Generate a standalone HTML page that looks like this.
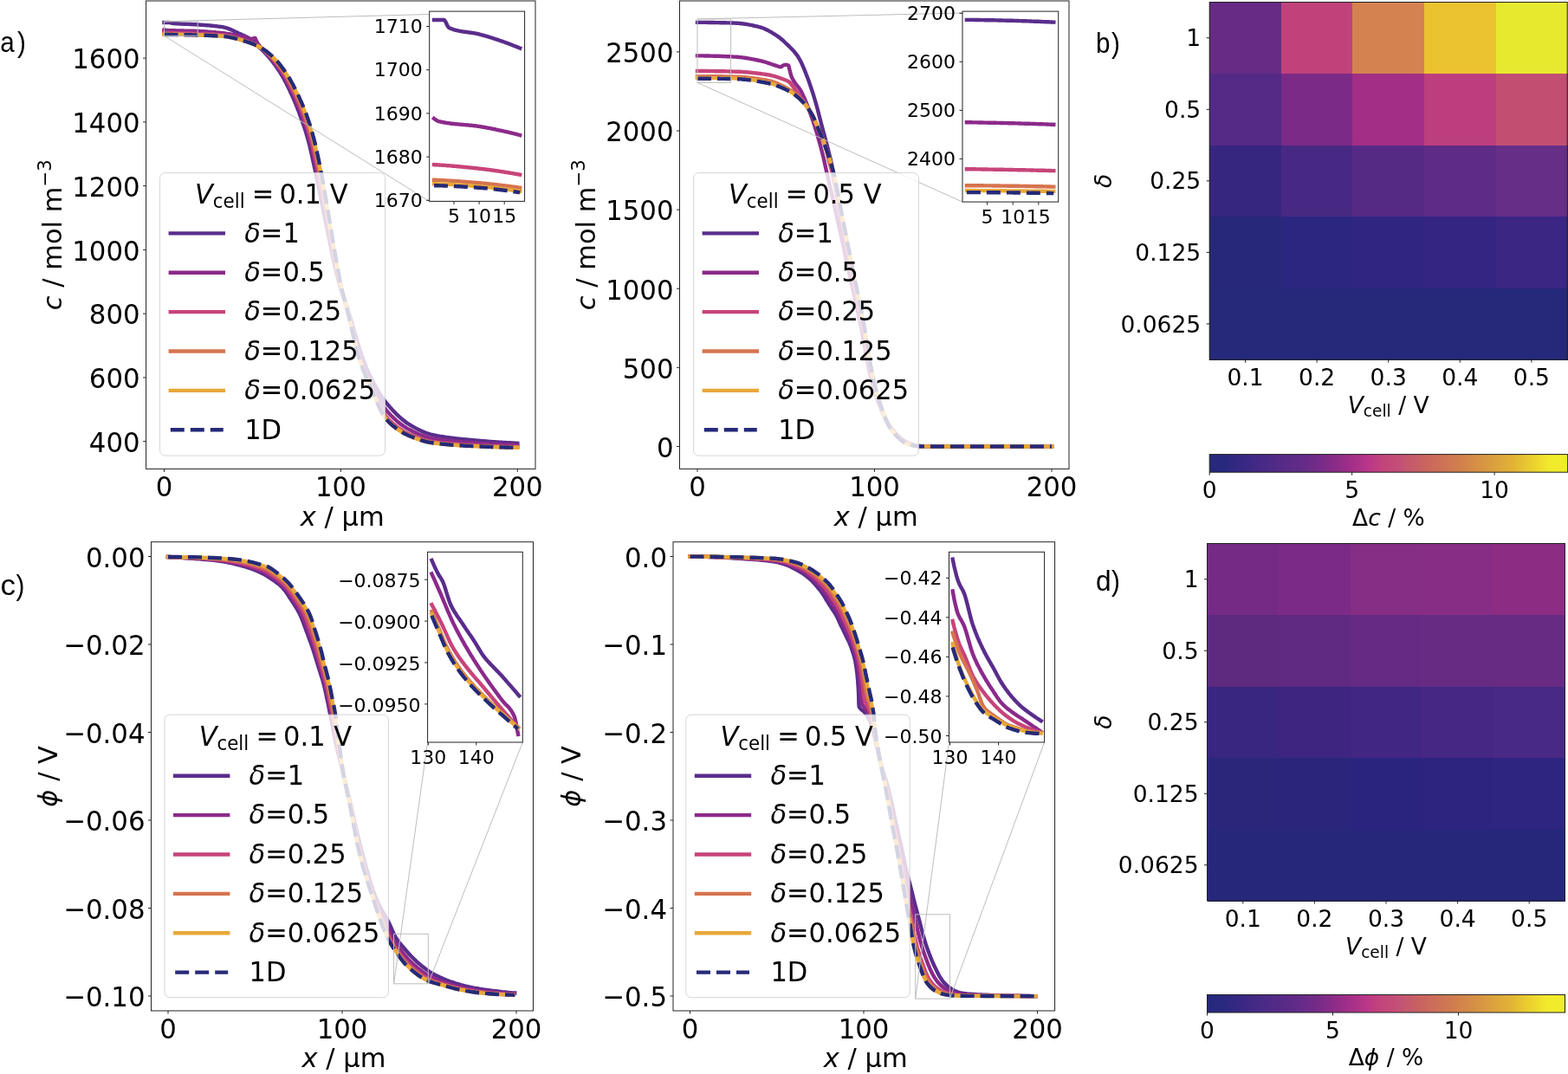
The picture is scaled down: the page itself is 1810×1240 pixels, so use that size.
<!DOCTYPE html>
<html><head><meta charset="utf-8"><title>Figure</title>
<style>html,body{margin:0;padding:0;background:#fff;overflow:hidden;} svg{display:block;} text{fill:#000;}</style>
</head><body>
<svg width="1810" height="1240" viewBox="0 0 1810 1240"><clipPath id="c1"><rect x="168.6" y="1" width="449.4" height="540.4"/></clipPath>
<path d="M189.5,26.0 L190.9,26.0 L192.2,26.0 L193.6,26.0 L195.0,26.0 L196.3,26.2 L197.7,26.6 L199.0,26.8 L200.4,27.0 L201.8,27.1 L203.1,27.2 L204.5,27.3 L205.9,27.4 L207.2,27.5 L208.6,27.5 L210.0,27.6 L211.3,27.7 L212.7,27.7 L214.0,27.8 L215.4,27.8 L216.8,27.9 L218.1,27.9 L219.5,28.0 L220.9,28.0 L222.2,28.1 L223.6,28.2 L225.0,28.3 L226.3,28.3 L227.7,28.4 L229.1,28.5 L230.4,28.6 L231.8,28.7 L233.1,28.8 L234.5,28.9 L235.9,29.0 L237.2,29.1 L238.6,29.2 L240.0,29.3 L241.3,29.4 L242.7,29.5 L244.1,29.7 L245.4,29.8 L246.8,29.9 L248.1,30.1 L249.5,30.2 L250.9,30.4 L252.2,30.6 L253.6,30.7 L255.0,30.9 L256.3,31.1 L257.7,31.3 L259.1,31.6 L260.4,32.0 L261.8,32.4 L263.1,32.9 L264.5,33.4 L265.9,33.9 L267.2,34.5 L268.6,35.1 L270.0,35.8 L271.3,36.4 L272.7,37.1 L274.1,37.7 L275.4,38.4 L276.8,39.0 L278.2,39.6 L279.5,40.2 L280.9,40.8 L282.2,41.4 L283.6,42.1 L285.0,42.8 L286.3,43.5 L287.7,44.4 L289.1,45.3 L290.4,46.3 L291.8,47.5 L293.2,48.8 L294.5,50.1 L295.9,51.4 L297.2,52.7 L298.6,53.9 L300.0,55.2 L301.3,56.5 L302.7,57.8 L304.1,59.2 L305.4,60.6 L306.8,62.0 L308.2,63.5 L309.5,65.0 L310.9,66.6 L312.2,68.2 L313.6,69.9 L315.0,71.6 L316.3,73.4 L317.7,75.3 L319.1,77.2 L320.4,79.2 L321.8,81.2 L323.2,83.4 L324.5,85.5 L325.9,87.8 L327.3,90.2 L328.6,92.7 L330.0,95.3 L331.3,98.0 L332.7,100.8 L334.1,103.6 L335.4,106.5 L336.8,109.5 L338.2,112.5 L339.5,115.7 L340.9,118.9 L342.3,122.3 L343.6,125.7 L345.0,129.3 L346.3,132.9 L347.7,136.7 L349.1,140.5 L350.4,144.4 L351.8,148.5 L353.2,152.8 L354.5,157.4 L355.9,162.3 L357.3,167.6 L358.6,173.4 L360.0,179.3 L361.3,185.5 L362.7,191.7 L364.1,197.9 L365.4,204.4 L366.8,211.0 L368.2,217.8 L369.5,224.6 L370.9,231.4 L372.3,238.1 L373.6,244.8 L375.0,251.3 L376.4,257.9 L377.7,264.5 L379.1,271.2 L380.4,278.0 L381.8,284.6 L383.2,291.2 L384.5,297.7 L385.9,303.9 L387.3,310.0 L388.6,315.8 L390.0,321.4 L391.4,326.5 L392.7,331.3 L394.1,335.8 L395.4,340.0 L396.8,343.9 L398.2,347.8 L399.5,351.7 L400.9,355.7 L402.3,359.9 L403.6,364.3 L405.0,368.8 L406.4,373.4 L407.7,378.1 L409.1,382.8 L410.4,387.5 L411.8,392.1 L413.2,396.7 L414.5,401.2 L415.9,405.4 L417.3,409.5 L418.6,413.4 L420.0,417.0 L421.4,420.6 L422.7,424.1 L424.1,427.4 L425.5,430.5 L426.8,433.5 L428.2,436.2 L429.5,438.9 L430.9,441.5 L432.3,444.0 L433.6,446.5 L435.0,448.9 L436.4,451.2 L437.7,453.4 L439.1,455.6 L440.5,457.7 L441.8,459.6 L443.2,461.5 L444.5,463.4 L445.9,465.1 L447.3,466.7 L448.6,468.3 L450.0,469.9 L451.4,471.4 L452.7,472.9 L454.1,474.4 L455.5,475.8 L456.8,477.2 L458.2,478.6 L459.5,479.9 L460.9,481.2 L462.3,482.4 L463.6,483.6 L465.0,484.7 L466.4,485.8 L467.7,486.9 L469.1,487.9 L470.5,488.8 L471.8,489.7 L473.2,490.5 L474.6,491.3 L475.9,492.1 L477.3,492.9 L478.6,493.6 L480.0,494.4 L481.4,495.1 L482.7,495.8 L484.1,496.5 L485.5,497.1 L486.8,497.8 L488.2,498.4 L489.6,498.9 L490.9,499.5 L492.3,500.0 L493.6,500.4 L495.0,500.9 L496.4,501.3 L497.7,501.6 L499.1,502.0 L500.5,502.3 L501.8,502.5 L503.2,502.8 L504.6,503.1 L505.9,503.3 L507.3,503.6 L508.6,503.8 L510.0,504.0 L511.4,504.2 L512.7,504.5 L514.1,504.7 L515.5,504.9 L516.8,505.1 L518.2,505.2 L519.6,505.4 L520.9,505.6 L522.3,505.8 L523.7,506.0 L525.0,506.1 L526.4,506.3 L527.7,506.4 L529.1,506.6 L530.5,506.7 L531.8,506.9 L533.2,507.0 L534.6,507.2 L535.9,507.3 L537.3,507.4 L538.7,507.5 L540.0,507.7 L541.4,507.8 L542.7,507.9 L544.1,508.0 L545.5,508.2 L546.8,508.3 L548.2,508.4 L549.6,508.5 L550.9,508.6 L552.3,508.7 L553.7,508.9 L555.0,509.0 L556.4,509.1 L557.7,509.2 L559.1,509.3 L560.5,509.4 L561.8,509.5 L563.2,509.6 L564.6,509.8 L565.9,509.9 L567.3,510.0 L568.7,510.1 L570.0,510.2 L571.4,510.3 L572.8,510.4 L574.1,510.4 L575.5,510.5 L576.8,510.6 L578.2,510.7 L579.6,510.8 L580.9,510.9 L582.3,511.0 L583.7,511.0 L585.0,511.1 L586.4,511.2 L587.8,511.3 L589.1,511.3 L590.5,511.4 L591.8,511.5 L593.2,511.5 L594.6,511.6 L595.9,511.6 L597.3,511.7" fill="none" stroke="#5a2d8c" stroke-width="4.4" stroke-linecap="square" stroke-linejoin="round" clip-path="url(#c1)"/>
<path d="M189.5,34.3 L190.9,34.6 L192.2,34.9 L193.6,35.0 L195.0,35.1 L196.3,35.1 L197.7,35.2 L199.0,35.3 L200.4,35.3 L201.8,35.3 L203.1,35.4 L204.5,35.4 L205.9,35.4 L207.2,35.5 L208.6,35.5 L210.0,35.5 L211.3,35.5 L212.7,35.6 L214.0,35.6 L215.4,35.6 L216.8,35.6 L218.1,35.6 L219.5,35.7 L220.9,35.7 L222.2,35.7 L223.6,35.8 L225.0,35.8 L226.3,35.9 L227.7,35.9 L229.1,36.0 L230.4,36.0 L231.8,36.1 L233.1,36.2 L234.5,36.3 L235.9,36.4 L237.2,36.5 L238.6,36.5 L240.0,36.6 L241.3,36.8 L242.7,36.9 L244.1,37.0 L245.4,37.1 L246.8,37.2 L248.1,37.3 L249.5,37.5 L250.9,37.6 L252.2,37.7 L253.6,37.9 L255.0,38.0 L256.3,38.2 L257.7,38.3 L259.1,38.5 L260.4,38.7 L261.8,38.9 L263.1,39.1 L264.5,39.3 L265.9,39.5 L267.2,39.7 L268.6,40.0 L270.0,40.2 L271.3,40.5 L272.7,40.8 L274.1,41.1 L275.4,41.3 L276.8,41.6 L278.2,41.9 L279.5,42.2 L280.9,42.5 L282.2,42.9 L283.6,43.4 L285.0,43.8 L286.3,44.3 L287.7,44.6 L289.1,44.9 L290.4,45.0 L291.8,44.7 L293.2,44.1 L294.5,43.9 L295.9,47.1 L297.2,49.7 L298.6,51.6 L300.0,53.4 L301.3,55.0 L302.7,56.5 L304.1,58.0 L305.4,59.3 L306.8,60.7 L308.2,62.1 L309.5,63.5 L310.9,65.1 L312.2,66.7 L313.6,68.4 L315.0,70.1 L316.3,71.8 L317.7,73.6 L319.1,75.3 L320.4,77.2 L321.8,79.0 L323.2,81.0 L324.5,83.0 L325.9,85.1 L327.3,87.3 L328.6,89.7 L330.0,92.1 L331.3,94.7 L332.7,97.3 L334.1,100.0 L335.4,102.8 L336.8,105.7 L338.2,108.6 L339.5,111.5 L340.9,114.6 L342.3,117.8 L343.6,121.1 L345.0,124.4 L346.3,127.9 L347.7,131.6 L349.1,135.3 L350.4,139.1 L351.8,143.0 L353.2,147.1 L354.5,151.4 L355.9,156.0 L357.3,160.9 L358.6,166.2 L360.0,171.9 L361.3,177.9 L362.7,184.1 L364.1,190.4 L365.4,196.8 L366.8,203.4 L368.2,210.2 L369.5,217.2 L370.9,224.2 L372.3,231.3 L373.6,238.3 L375.0,245.2 L376.4,252.0 L377.7,258.9 L379.1,265.9 L380.4,272.9 L381.8,280.0 L383.2,287.0 L384.5,293.9 L385.9,300.6 L387.3,307.1 L388.6,313.4 L390.0,319.4 L391.4,325.0 L392.7,330.2 L394.1,335.0 L395.4,339.4 L396.8,343.6 L398.2,347.8 L399.5,351.9 L400.9,356.2 L402.3,360.8 L403.6,365.6 L405.0,370.6 L406.4,375.8 L407.7,381.0 L409.1,386.3 L410.4,391.5 L411.8,396.6 L413.2,401.5 L414.5,406.2 L415.9,410.6 L417.3,414.7 L418.6,418.5 L420.0,422.2 L421.4,425.8 L422.7,429.3 L424.1,432.6 L425.5,435.7 L426.8,438.8 L428.2,441.7 L429.5,444.6 L430.9,447.4 L432.3,450.3 L433.6,453.0 L435.0,455.8 L436.4,458.4 L437.7,460.9 L439.1,463.4 L440.5,465.7 L441.8,467.9 L443.2,470.0 L444.5,471.9 L445.9,473.7 L447.3,475.2 L448.6,476.8 L450.0,478.2 L451.4,479.7 L452.7,481.0 L454.1,482.4 L455.5,483.7 L456.8,484.9 L458.2,486.1 L459.5,487.2 L460.9,488.4 L462.3,489.4 L463.6,490.4 L465.0,491.4 L466.4,492.3 L467.7,493.2 L469.1,494.1 L470.5,494.9 L471.8,495.6 L473.2,496.3 L474.6,497.0 L475.9,497.7 L477.3,498.4 L478.6,499.1 L480.0,499.7 L481.4,500.3 L482.7,500.9 L484.1,501.5 L485.5,502.1 L486.8,502.6 L488.2,503.1 L489.6,503.6 L490.9,504.1 L492.3,504.5 L493.6,504.9 L495.0,505.3 L496.4,505.6 L497.7,505.9 L499.1,506.2 L500.5,506.4 L501.8,506.6 L503.2,506.9 L504.6,507.1 L505.9,507.3 L507.3,507.5 L508.6,507.7 L510.0,507.9 L511.4,508.1 L512.7,508.2 L514.1,508.4 L515.5,508.6 L516.8,508.7 L518.2,508.9 L519.6,509.0 L520.9,509.2 L522.3,509.3 L523.7,509.5 L525.0,509.6 L526.4,509.7 L527.7,509.9 L529.1,510.0 L530.5,510.1 L531.8,510.2 L533.2,510.3 L534.6,510.5 L535.9,510.6 L537.3,510.7 L538.7,510.8 L540.0,510.9 L541.4,511.0 L542.7,511.1 L544.1,511.2 L545.5,511.3 L546.8,511.4 L548.2,511.5 L549.6,511.5 L550.9,511.6 L552.3,511.7 L553.7,511.8 L555.0,511.9 L556.4,512.0 L557.7,512.1 L559.1,512.2 L560.5,512.3 L561.8,512.3 L563.2,512.4 L564.6,512.5 L565.9,512.6 L567.3,512.7 L568.7,512.7 L570.0,512.8 L571.4,512.9 L572.8,513.0 L574.1,513.0 L575.5,513.1 L576.8,513.2 L578.2,513.2 L579.6,513.3 L580.9,513.4 L582.3,513.4 L583.7,513.5 L585.0,513.5 L586.4,513.6 L587.8,513.7 L589.1,513.7 L590.5,513.8 L591.8,513.8 L593.2,513.8 L594.6,513.9 L595.9,513.9 L597.3,514.0" fill="none" stroke="#8b2a8b" stroke-width="4.4" stroke-linecap="square" stroke-linejoin="round" clip-path="url(#c1)"/>
<path d="M189.5,38.2 L190.9,38.2 L192.2,38.2 L193.6,38.2 L195.0,38.2 L196.3,38.3 L197.7,38.3 L199.0,38.3 L200.4,38.3 L201.8,38.3 L203.1,38.4 L204.5,38.4 L205.9,38.4 L207.2,38.5 L208.6,38.5 L210.0,38.5 L211.3,38.6 L212.7,38.6 L214.0,38.6 L215.4,38.7 L216.8,38.7 L218.1,38.7 L219.5,38.8 L220.9,38.8 L222.2,38.8 L223.6,38.9 L225.0,38.9 L226.3,39.0 L227.7,39.0 L229.1,39.0 L230.4,39.1 L231.8,39.1 L233.1,39.2 L234.5,39.2 L235.9,39.3 L237.2,39.3 L238.6,39.4 L240.0,39.5 L241.3,39.5 L242.7,39.6 L244.1,39.6 L245.4,39.7 L246.8,39.8 L248.1,39.9 L249.5,40.0 L250.9,40.0 L252.2,40.1 L253.6,40.2 L255.0,40.3 L256.3,40.4 L257.7,40.5 L259.1,40.7 L260.4,40.9 L261.8,41.1 L263.1,41.3 L264.5,41.6 L265.9,41.8 L267.2,42.2 L268.6,42.5 L270.0,42.8 L271.3,43.2 L272.7,43.6 L274.1,44.0 L275.4,44.4 L276.8,44.9 L278.2,45.3 L279.5,45.8 L280.9,46.2 L282.2,46.7 L283.6,47.2 L285.0,47.6 L286.3,48.1 L287.7,48.6 L289.1,49.1 L290.4,49.6 L291.8,50.1 L293.2,50.7 L294.5,51.3 L295.9,52.0 L297.2,52.7 L298.6,53.4 L300.0,54.3 L301.3,55.2 L302.7,56.2 L304.1,57.3 L305.4,58.5 L306.8,59.8 L308.2,61.1 L309.5,62.5 L310.9,63.9 L312.2,65.3 L313.6,66.8 L315.0,68.3 L316.3,69.8 L317.7,71.5 L319.1,73.2 L320.4,74.9 L321.8,76.8 L323.2,78.7 L324.5,80.6 L325.9,82.6 L327.3,84.7 L328.6,86.9 L330.0,89.1 L331.3,91.5 L332.7,94.0 L334.1,96.6 L335.4,99.2 L336.8,102.0 L338.2,104.8 L339.5,107.7 L340.9,110.6 L342.3,113.6 L343.6,116.7 L345.0,119.9 L346.3,123.2 L347.7,126.6 L349.1,130.2 L350.4,133.9 L351.8,137.7 L353.2,141.6 L354.5,145.7 L355.9,150.0 L357.3,154.6 L358.6,159.4 L360.0,164.7 L361.3,170.4 L362.7,176.4 L364.1,182.7 L365.4,189.1 L366.8,195.6 L368.2,202.3 L369.5,209.3 L370.9,216.5 L372.3,223.8 L373.6,231.2 L375.0,238.5 L376.4,245.7 L377.7,252.8 L379.1,260.0 L380.4,267.4 L381.8,274.8 L383.2,282.3 L384.5,289.6 L385.9,296.8 L387.3,303.9 L388.6,310.6 L390.0,317.1 L391.4,323.2 L392.7,328.9 L394.1,334.0 L395.4,338.8 L396.8,343.3 L398.2,347.7 L399.5,352.2 L400.9,356.8 L402.3,361.8 L403.6,367.2 L405.0,372.8 L406.4,378.5 L407.7,384.4 L409.1,390.2 L410.4,395.9 L411.8,401.3 L413.2,406.5 L414.5,411.2 L415.9,415.5 L417.3,419.5 L418.6,423.3 L420.0,427.0 L421.4,430.5 L422.7,433.9 L424.1,437.2 L425.5,440.4 L426.8,443.5 L428.2,446.5 L429.5,449.6 L430.9,452.7 L432.3,455.8 L433.6,458.9 L435.0,461.9 L436.4,464.8 L437.7,467.7 L439.1,470.4 L440.5,473.0 L441.8,475.4 L443.2,477.6 L444.5,479.5 L445.9,481.3 L447.3,482.8 L448.6,484.2 L450.0,485.6 L451.4,486.9 L452.7,488.2 L454.1,489.4 L455.5,490.5 L456.8,491.6 L458.2,492.7 L459.5,493.7 L460.9,494.7 L462.3,495.6 L463.6,496.5 L465.0,497.3 L466.4,498.1 L467.7,498.9 L469.1,499.6 L470.5,500.3 L471.8,500.9 L473.2,501.5 L474.6,502.1 L475.9,502.7 L477.3,503.3 L478.6,503.9 L480.0,504.4 L481.4,505.0 L482.7,505.5 L484.1,506.0 L485.5,506.4 L486.8,506.9 L488.2,507.3 L489.6,507.8 L490.9,508.1 L492.3,508.5 L493.6,508.8 L495.0,509.2 L496.4,509.4 L497.7,509.7 L499.1,509.9 L500.5,510.1 L501.8,510.3 L503.2,510.5 L504.6,510.7 L505.9,510.8 L507.3,511.0 L508.6,511.1 L510.0,511.3 L511.4,511.5 L512.7,511.6 L514.1,511.7 L515.5,511.9 L516.8,512.0 L518.2,512.1 L519.6,512.3 L520.9,512.4 L522.3,512.5 L523.7,512.6 L525.0,512.7 L526.4,512.8 L527.7,512.9 L529.1,513.0 L530.5,513.1 L531.8,513.2 L533.2,513.3 L534.6,513.4 L535.9,513.5 L537.3,513.6 L538.7,513.7 L540.0,513.7 L541.4,513.8 L542.7,513.9 L544.1,514.0 L545.5,514.0 L546.8,514.1 L548.2,514.2 L549.6,514.2 L550.9,514.3 L552.3,514.4 L553.7,514.4 L555.0,514.5 L556.4,514.6 L557.7,514.6 L559.1,514.7 L560.5,514.8 L561.8,514.8 L563.2,514.9 L564.6,515.0 L565.9,515.0 L567.3,515.1 L568.7,515.1 L570.0,515.2 L571.4,515.2 L572.8,515.3 L574.1,515.3 L575.5,515.4 L576.8,515.4 L578.2,515.5 L579.6,515.5 L580.9,515.6 L582.3,515.6 L583.7,515.7 L585.0,515.7 L586.4,515.7 L587.8,515.8 L589.1,515.8 L590.5,515.8 L591.8,515.9 L593.2,515.9 L594.6,515.9 L595.9,515.9 L597.3,516.0" fill="none" stroke="#c7447a" stroke-width="4.4" stroke-linecap="square" stroke-linejoin="round" clip-path="url(#c1)"/>
<path d="M189.5,39.5 L190.9,39.5 L192.2,39.5 L193.6,39.5 L195.0,39.5 L196.3,39.5 L197.7,39.5 L199.0,39.6 L200.4,39.6 L201.8,39.6 L203.1,39.6 L204.5,39.6 L205.9,39.7 L207.2,39.7 L208.6,39.7 L210.0,39.7 L211.3,39.7 L212.7,39.8 L214.0,39.8 L215.4,39.8 L216.8,39.8 L218.1,39.9 L219.5,39.9 L220.9,39.9 L222.2,40.0 L223.6,40.0 L225.0,40.0 L226.3,40.1 L227.7,40.1 L229.1,40.1 L230.4,40.2 L231.8,40.2 L233.1,40.3 L234.5,40.3 L235.9,40.3 L237.2,40.4 L238.6,40.5 L240.0,40.5 L241.3,40.6 L242.7,40.6 L244.1,40.7 L245.4,40.8 L246.8,40.8 L248.1,40.9 L249.5,41.0 L250.9,41.1 L252.2,41.2 L253.6,41.3 L255.0,41.4 L256.3,41.5 L257.7,41.6 L259.1,41.7 L260.4,41.8 L261.8,42.0 L263.1,42.2 L264.5,42.5 L265.9,42.7 L267.2,43.0 L268.6,43.3 L270.0,43.7 L271.3,44.0 L272.7,44.4 L274.1,44.7 L275.4,45.1 L276.8,45.5 L278.2,45.9 L279.5,46.4 L280.9,46.8 L282.2,47.2 L283.6,47.7 L285.0,48.1 L286.3,48.5 L287.7,49.0 L289.1,49.4 L290.4,49.9 L291.8,50.5 L293.2,51.0 L294.5,51.6 L295.9,52.2 L297.2,52.9 L298.6,53.6 L300.0,54.3 L301.3,55.2 L302.7,56.1 L304.1,57.1 L305.4,58.1 L306.8,59.2 L308.2,60.4 L309.5,61.6 L310.9,62.8 L312.2,64.1 L313.6,65.5 L315.0,66.8 L316.3,68.3 L317.7,69.8 L319.1,71.4 L320.4,73.0 L321.8,74.8 L323.2,76.6 L324.5,78.4 L325.9,80.3 L327.3,82.3 L328.6,84.3 L330.0,86.4 L331.3,88.6 L332.7,91.0 L334.1,93.4 L335.4,95.9 L336.8,98.5 L338.2,101.2 L339.5,104.0 L340.9,106.8 L342.3,109.7 L343.6,112.6 L345.0,115.6 L346.3,118.7 L347.7,122.0 L349.1,125.3 L350.4,128.8 L351.8,132.5 L353.2,136.2 L354.5,140.2 L355.9,144.3 L357.3,148.6 L358.6,153.2 L360.0,158.0 L361.3,163.2 L362.7,168.9 L364.1,174.9 L365.4,181.2 L366.8,187.7 L368.2,194.4 L369.5,201.2 L370.9,208.4 L372.3,215.8 L373.6,223.4 L375.0,231.0 L376.4,238.7 L377.7,246.2 L379.1,253.6 L380.4,261.3 L381.8,269.1 L383.2,276.9 L384.5,284.8 L385.9,292.5 L387.3,300.1 L388.6,307.5 L390.0,314.5 L391.4,321.1 L392.7,327.3 L394.1,333.0 L395.4,338.2 L396.8,343.1 L398.2,347.9 L399.5,352.7 L400.9,357.6 L402.3,362.9 L403.6,368.5 L405.0,374.2 L406.4,380.1 L407.7,386.0 L409.1,391.8 L410.4,397.4 L411.8,402.8 L413.2,407.9 L414.5,412.5 L415.9,416.7 L417.3,420.7 L418.6,424.5 L420.0,428.2 L421.4,431.7 L422.7,435.1 L424.1,438.3 L425.5,441.5 L426.8,444.7 L428.2,447.8 L429.5,450.9 L430.9,454.0 L432.3,457.2 L433.6,460.3 L435.0,463.4 L436.4,466.4 L437.7,469.4 L439.1,472.1 L440.5,474.8 L441.8,477.2 L443.2,479.4 L444.5,481.4 L445.9,483.2 L447.3,484.7 L448.6,486.1 L450.0,487.4 L451.4,488.7 L452.7,489.9 L454.1,491.1 L455.5,492.2 L456.8,493.3 L458.2,494.3 L459.5,495.3 L460.9,496.2 L462.3,497.1 L463.6,498.0 L465.0,498.8 L466.4,499.5 L467.7,500.3 L469.1,501.0 L470.5,501.6 L471.8,502.2 L473.2,502.8 L474.6,503.4 L475.9,504.0 L477.3,504.5 L478.6,505.1 L480.0,505.6 L481.4,506.1 L482.7,506.6 L484.1,507.1 L485.5,507.5 L486.8,508.0 L488.2,508.4 L489.6,508.8 L490.9,509.2 L492.3,509.5 L493.6,509.8 L495.0,510.1 L496.4,510.4 L497.7,510.6 L499.1,510.9 L500.5,511.0 L501.8,511.2 L503.2,511.4 L504.6,511.5 L505.9,511.7 L507.3,511.9 L508.6,512.0 L510.0,512.2 L511.4,512.3 L512.7,512.4 L514.1,512.6 L515.5,512.7 L516.8,512.8 L518.2,512.9 L519.6,513.1 L520.9,513.2 L522.3,513.3 L523.7,513.4 L525.0,513.5 L526.4,513.6 L527.7,513.7 L529.1,513.8 L530.5,513.9 L531.8,514.0 L533.2,514.1 L534.6,514.1 L535.9,514.2 L537.3,514.3 L538.7,514.4 L540.0,514.4 L541.4,514.5 L542.7,514.6 L544.1,514.7 L545.5,514.7 L546.8,514.8 L548.2,514.9 L549.6,514.9 L550.9,515.0 L552.3,515.0 L553.7,515.1 L555.0,515.2 L556.4,515.2 L557.7,515.3 L559.1,515.3 L560.5,515.4 L561.8,515.5 L563.2,515.5 L564.6,515.6 L565.9,515.6 L567.3,515.7 L568.7,515.7 L570.0,515.8 L571.4,515.8 L572.8,515.9 L574.1,515.9 L575.5,516.0 L576.8,516.0 L578.2,516.0 L579.6,516.1 L580.9,516.1 L582.3,516.2 L583.7,516.2 L585.0,516.2 L586.4,516.3 L587.8,516.3 L589.1,516.3 L590.5,516.4 L591.8,516.4 L593.2,516.4 L594.6,516.4 L595.9,516.4 L597.3,516.5" fill="none" stroke="#d6744f" stroke-width="4.4" stroke-linecap="square" stroke-linejoin="round" clip-path="url(#c1)"/>
<path d="M189.5,39.9 L190.9,39.9 L192.2,39.9 L193.6,39.9 L195.0,39.9 L196.3,39.9 L197.7,39.9 L199.0,39.9 L200.4,39.9 L201.8,39.9 L203.1,39.9 L204.5,40.0 L205.9,40.0 L207.2,40.0 L208.6,40.0 L210.0,40.0 L211.3,40.1 L212.7,40.1 L214.0,40.1 L215.4,40.1 L216.8,40.1 L218.1,40.2 L219.5,40.2 L220.9,40.2 L222.2,40.2 L223.6,40.3 L225.0,40.3 L226.3,40.3 L227.7,40.4 L229.1,40.4 L230.4,40.4 L231.8,40.5 L233.1,40.5 L234.5,40.6 L235.9,40.6 L237.2,40.7 L238.6,40.7 L240.0,40.8 L241.3,40.9 L242.7,40.9 L244.1,41.0 L245.4,41.0 L246.8,41.1 L248.1,41.2 L249.5,41.3 L250.9,41.4 L252.2,41.4 L253.6,41.5 L255.0,41.6 L256.3,41.7 L257.7,41.8 L259.1,41.9 L260.4,42.1 L261.8,42.3 L263.1,42.5 L264.5,42.7 L265.9,43.0 L267.2,43.2 L268.6,43.5 L270.0,43.9 L271.3,44.2 L272.7,44.6 L274.1,44.9 L275.4,45.3 L276.8,45.7 L278.2,46.1 L279.5,46.5 L280.9,46.9 L282.2,47.4 L283.6,47.8 L285.0,48.2 L286.3,48.6 L287.7,49.1 L289.1,49.5 L290.4,50.0 L291.8,50.6 L293.2,51.1 L294.5,51.7 L295.9,52.4 L297.2,53.0 L298.6,53.7 L300.0,54.4 L301.3,55.2 L302.7,56.1 L304.1,57.0 L305.4,57.9 L306.8,58.9 L308.2,60.0 L309.5,61.1 L310.9,62.3 L312.2,63.5 L313.6,64.7 L315.0,66.0 L316.3,67.3 L317.7,68.7 L319.1,70.2 L320.4,71.8 L321.8,73.5 L323.2,75.2 L324.5,77.0 L325.9,78.8 L327.3,80.8 L328.6,82.7 L330.0,84.7 L331.3,86.8 L332.7,89.0 L334.1,91.3 L335.4,93.8 L336.8,96.3 L338.2,98.9 L339.5,101.5 L340.9,104.3 L342.3,107.1 L343.6,110.0 L345.0,112.9 L346.3,115.9 L347.7,119.0 L349.1,122.2 L350.4,125.6 L351.8,129.1 L353.2,132.7 L354.5,136.5 L355.9,140.5 L357.3,144.7 L358.6,149.1 L360.0,153.7 L361.3,158.7 L362.7,164.0 L364.1,169.7 L365.4,175.9 L366.8,182.3 L368.2,188.9 L369.5,195.7 L370.9,202.7 L372.3,210.2 L373.6,217.8 L375.0,225.6 L376.4,233.5 L377.7,241.3 L379.1,249.0 L380.4,256.8 L381.8,264.8 L383.2,273.0 L384.5,281.1 L385.9,289.3 L387.3,297.2 L388.6,305.0 L390.0,312.5 L391.4,319.5 L392.7,326.1 L394.1,332.2 L395.4,337.7 L396.8,343.0 L398.2,348.0 L399.5,353.0 L400.9,358.2 L402.3,363.7 L403.6,369.3 L405.0,375.2 L406.4,381.1 L407.7,386.9 L409.1,392.7 L410.4,398.3 L411.8,403.6 L413.2,408.6 L414.5,413.1 L415.9,417.3 L417.3,421.3 L418.6,425.1 L420.0,428.8 L421.4,432.3 L422.7,435.6 L424.1,438.9 L425.5,442.1 L426.8,445.3 L428.2,448.4 L429.5,451.5 L430.9,454.7 L432.3,457.9 L433.6,461.1 L435.0,464.2 L436.4,467.2 L437.7,470.2 L439.1,473.0 L440.5,475.7 L441.8,478.1 L443.2,480.4 L444.5,482.4 L445.9,484.1 L447.3,485.6 L448.6,487.0 L450.0,488.3 L451.4,489.6 L452.7,490.8 L454.1,492.0 L455.5,493.1 L456.8,494.1 L458.2,495.1 L459.5,496.1 L460.9,497.0 L462.3,497.9 L463.6,498.7 L465.0,499.5 L466.4,500.3 L467.7,501.0 L469.1,501.6 L470.5,502.3 L471.8,502.9 L473.2,503.5 L474.6,504.0 L475.9,504.6 L477.3,505.1 L478.6,505.7 L480.0,506.2 L481.4,506.7 L482.7,507.2 L484.1,507.6 L485.5,508.1 L486.8,508.5 L488.2,508.9 L489.6,509.3 L490.9,509.7 L492.3,510.0 L493.6,510.3 L495.0,510.6 L496.4,510.9 L497.7,511.1 L499.1,511.3 L500.5,511.5 L501.8,511.7 L503.2,511.8 L504.6,512.0 L505.9,512.1 L507.3,512.3 L508.6,512.4 L510.0,512.6 L511.4,512.7 L512.7,512.9 L514.1,513.0 L515.5,513.1 L516.8,513.2 L518.2,513.4 L519.6,513.5 L520.9,513.6 L522.3,513.7 L523.7,513.8 L525.0,513.9 L526.4,514.0 L527.7,514.1 L529.1,514.2 L530.5,514.3 L531.8,514.3 L533.2,514.4 L534.6,514.5 L535.9,514.6 L537.3,514.7 L538.7,514.7 L540.0,514.8 L541.4,514.9 L542.7,514.9 L544.1,515.0 L545.5,515.1 L546.8,515.1 L548.2,515.2 L549.6,515.3 L550.9,515.3 L552.3,515.4 L553.7,515.4 L555.0,515.5 L556.4,515.5 L557.7,515.6 L559.1,515.7 L560.5,515.7 L561.8,515.8 L563.2,515.8 L564.6,515.9 L565.9,515.9 L567.3,516.0 L568.7,516.0 L570.0,516.1 L571.4,516.1 L572.8,516.2 L574.1,516.2 L575.5,516.2 L576.8,516.3 L578.2,516.3 L579.6,516.4 L580.9,516.4 L582.3,516.4 L583.7,516.5 L585.0,516.5 L586.4,516.5 L587.8,516.6 L589.1,516.6 L590.5,516.6 L591.8,516.6 L593.2,516.7 L594.6,516.7 L595.9,516.7 L597.3,516.7" fill="none" stroke="#e8a838" stroke-width="4.4" stroke-linecap="square" stroke-linejoin="round" clip-path="url(#c1)"/>
<path d="M189.5,40.0 L190.9,40.0 L192.2,40.0 L193.6,40.0 L195.0,40.0 L196.3,40.0 L197.7,40.0 L199.0,40.0 L200.4,40.1 L201.8,40.1 L203.1,40.1 L204.5,40.1 L205.9,40.1 L207.2,40.1 L208.6,40.1 L210.0,40.2 L211.3,40.2 L212.7,40.2 L214.0,40.2 L215.4,40.2 L216.8,40.3 L218.1,40.3 L219.5,40.3 L220.9,40.3 L222.2,40.4 L223.6,40.4 L225.0,40.4 L226.3,40.5 L227.7,40.5 L229.1,40.5 L230.4,40.6 L231.8,40.6 L233.1,40.6 L234.5,40.7 L235.9,40.7 L237.2,40.8 L238.6,40.8 L240.0,40.9 L241.3,41.0 L242.7,41.0 L244.1,41.1 L245.4,41.2 L246.8,41.2 L248.1,41.3 L249.5,41.4 L250.9,41.5 L252.2,41.5 L253.6,41.6 L255.0,41.7 L256.3,41.8 L257.7,41.9 L259.1,42.0 L260.4,42.2 L261.8,42.4 L263.1,42.6 L264.5,42.8 L265.9,43.1 L267.2,43.3 L268.6,43.6 L270.0,44.0 L271.3,44.3 L272.7,44.6 L274.1,45.0 L275.4,45.4 L276.8,45.8 L278.2,46.2 L279.5,46.6 L280.9,47.0 L282.2,47.4 L283.6,47.8 L285.0,48.3 L286.3,48.7 L287.7,49.1 L289.1,49.6 L290.4,50.1 L291.8,50.6 L293.2,51.2 L294.5,51.8 L295.9,52.4 L297.2,53.1 L298.6,53.8 L300.0,54.5 L301.3,55.2 L302.7,56.1 L304.1,56.9 L305.4,57.9 L306.8,58.8 L308.2,59.8 L309.5,60.9 L310.9,62.0 L312.2,63.2 L313.6,64.4 L315.0,65.6 L316.3,66.9 L317.7,68.3 L319.1,69.7 L320.4,71.3 L321.8,72.9 L323.2,74.6 L324.5,76.3 L325.9,78.2 L327.3,80.1 L328.6,82.0 L330.0,84.0 L331.3,86.0 L332.7,88.2 L334.1,90.4 L335.4,92.8 L336.8,95.3 L338.2,97.8 L339.5,100.4 L340.9,103.1 L342.3,105.9 L343.6,108.7 L345.0,111.6 L346.3,114.6 L347.7,117.6 L349.1,120.8 L350.4,124.1 L351.8,127.5 L353.2,131.1 L354.5,134.8 L355.9,138.7 L357.3,142.8 L358.6,147.2 L360.0,151.7 L361.3,156.6 L362.7,161.8 L364.1,167.4 L365.4,173.4 L366.8,179.7 L368.2,186.3 L369.5,193.1 L370.9,200.1 L372.3,207.4 L373.6,215.1 L375.0,223.0 L376.4,230.9 L377.7,238.9 L379.1,246.7 L380.4,254.6 L381.8,262.7 L383.2,271.0 L384.5,279.3 L385.9,287.6 L387.3,295.8 L388.6,303.8 L390.0,311.4 L391.4,318.7 L392.7,325.5 L394.1,331.8 L395.4,337.5 L396.8,342.9 L398.2,348.1 L399.5,353.2 L400.9,358.5 L402.3,364.0 L403.6,369.7 L405.0,375.5 L406.4,381.4 L407.7,387.2 L409.1,392.9 L410.4,398.4 L411.8,403.7 L413.2,408.6 L414.5,413.1 L415.9,417.3 L417.3,421.3 L418.6,425.1 L420.0,428.7 L421.4,432.2 L422.7,435.6 L424.1,438.9 L425.5,442.1 L426.8,445.3 L428.2,448.4 L429.5,451.5 L430.9,454.7 L432.3,457.9 L433.6,461.1 L435.0,464.2 L436.4,467.2 L437.7,470.2 L439.1,473.0 L440.5,475.7 L441.8,478.1 L443.2,480.4 L444.5,482.4 L445.9,484.1 L447.3,485.6 L448.6,487.0 L450.0,488.3 L451.4,489.6 L452.7,490.8 L454.1,492.0 L455.5,493.1 L456.8,494.1 L458.2,495.1 L459.5,496.1 L460.9,497.0 L462.3,497.9 L463.6,498.7 L465.0,499.5 L466.4,500.3 L467.7,501.0 L469.1,501.6 L470.5,502.3 L471.8,502.9 L473.2,503.5 L474.6,504.0 L475.9,504.6 L477.3,505.1 L478.6,505.7 L480.0,506.2 L481.4,506.7 L482.7,507.2 L484.1,507.6 L485.5,508.1 L486.8,508.5 L488.2,508.9 L489.6,509.3 L490.9,509.7 L492.3,510.0 L493.6,510.3 L495.0,510.6 L496.4,510.9 L497.7,511.1 L499.1,511.3 L500.5,511.5 L501.8,511.7 L503.2,511.8 L504.6,512.0 L505.9,512.1 L507.3,512.3 L508.6,512.4 L510.0,512.6 L511.4,512.7 L512.7,512.9 L514.1,513.0 L515.5,513.1 L516.8,513.2 L518.2,513.4 L519.6,513.5 L520.9,513.6 L522.3,513.7 L523.7,513.8 L525.0,513.9 L526.4,514.0 L527.7,514.1 L529.1,514.2 L530.5,514.3 L531.8,514.3 L533.2,514.4 L534.6,514.5 L535.9,514.6 L537.3,514.7 L538.7,514.7 L540.0,514.8 L541.4,514.9 L542.7,514.9 L544.1,515.0 L545.5,515.1 L546.8,515.1 L548.2,515.2 L549.6,515.3 L550.9,515.3 L552.3,515.4 L553.7,515.4 L555.0,515.5 L556.4,515.5 L557.7,515.6 L559.1,515.7 L560.5,515.7 L561.8,515.8 L563.2,515.8 L564.6,515.9 L565.9,515.9 L567.3,516.0 L568.7,516.0 L570.0,516.1 L571.4,516.1 L572.8,516.2 L574.1,516.2 L575.5,516.2 L576.8,516.3 L578.2,516.3 L579.6,516.4 L580.9,516.4 L582.3,516.4 L583.7,516.5 L585.0,516.5 L586.4,516.5 L587.8,516.6 L589.1,516.6 L590.5,516.6 L591.8,516.6 L593.2,516.7 L594.6,516.7 L595.9,516.7 L597.3,516.7" fill="none" stroke="#262a78" stroke-width="4.4" stroke-dasharray="16,7" stroke-linecap="butt" stroke-linejoin="round" clip-path="url(#c1)"/>
<rect x="189.5" y="24.8" width="38.7" height="16.5" fill="none" stroke="#bdbdbd" stroke-width="1"/>
<line x1="189.5" y1="24.8" x2="495.5" y2="16.5" stroke="#bdbdbd" stroke-width="1" />
<line x1="189.5" y1="41.3" x2="495.5" y2="232.4" stroke="#bdbdbd" stroke-width="1" />
<rect x="184.6" y="199.6" width="259.9" height="326.5" rx="6" ry="6" fill="#fff" fill-opacity="0.8" stroke="#cccccc" stroke-opacity="0.8" stroke-width="1"/>
<text transform="translate(313.25 234.9) scale(1 1.04)" font-size="30.5" text-anchor="middle" font-family="'DejaVu Sans', sans-serif" ><tspan font-style="italic">V</tspan><tspan font-size="21.35" dy="4.88">cell</tspan><tspan dy="-4.88" dx="8.24">=</tspan><tspan dx="6.1">0.1</tspan><tspan> V</tspan></text>
<line x1="196.8" y1="269.4" x2="257.8" y2="269.4" stroke="#5a2d8c" stroke-width="4.4" stroke-linecap="square"/>
<text transform="translate(282.2 279.7) scale(1 1.06)" font-size="30.5" text-anchor="start" font-family="'DejaVu Sans', sans-serif" ><tspan font-style="italic">δ</tspan>=1</text>
<line x1="196.8" y1="314.76" x2="257.8" y2="314.76" stroke="#8b2a8b" stroke-width="4.4" stroke-linecap="square"/>
<text transform="translate(282.2 325.06) scale(1 1.06)" font-size="30.5" text-anchor="start" font-family="'DejaVu Sans', sans-serif" ><tspan font-style="italic">δ</tspan>=0.5</text>
<line x1="196.8" y1="360.12" x2="257.8" y2="360.12" stroke="#c7447a" stroke-width="4.4" stroke-linecap="square"/>
<text transform="translate(282.2 370.42) scale(1 1.06)" font-size="30.5" text-anchor="start" font-family="'DejaVu Sans', sans-serif" ><tspan font-style="italic">δ</tspan>=0.25</text>
<line x1="196.8" y1="405.48" x2="257.8" y2="405.48" stroke="#d6744f" stroke-width="4.4" stroke-linecap="square"/>
<text transform="translate(282.2 415.78) scale(1 1.06)" font-size="30.5" text-anchor="start" font-family="'DejaVu Sans', sans-serif" ><tspan font-style="italic">δ</tspan>=0.125</text>
<line x1="196.8" y1="450.84" x2="257.8" y2="450.84" stroke="#e8a838" stroke-width="4.4" stroke-linecap="square"/>
<text transform="translate(282.2 461.14) scale(1 1.06)" font-size="30.5" text-anchor="start" font-family="'DejaVu Sans', sans-serif" ><tspan font-style="italic">δ</tspan>=0.0625</text>
<line x1="196.8" y1="496.2" x2="257.8" y2="496.2" stroke="#262a78" stroke-width="4.4" stroke-dasharray="16,7"/>
<text transform="translate(282.2 506.5) scale(1 1.06)" font-size="30.5" text-anchor="start" font-family="'DejaVu Sans', sans-serif" >1D</text>
<rect x="495.7" y="13.1" width="109.9" height="219.3" fill="#fff"/>
<clipPath id="c2"><rect x="495.7" y="13.1" width="109.9" height="219.3"/></clipPath>
<path d="M501.0,23.0 L501.8,23.0 L502.7,23.0 L503.5,23.0 L504.3,23.0 L505.2,23.0 L506.0,23.0 L506.8,23.0 L507.7,23.0 L508.5,23.0 L509.3,23.0 L510.2,23.0 L511.0,23.0 L511.9,23.0 L512.7,23.0 L513.5,23.8 L514.4,25.2 L515.2,27.0 L516.0,28.8 L516.9,30.4 L517.7,31.6 L518.5,32.2 L519.4,32.5 L520.2,32.9 L521.0,33.2 L521.9,33.5 L522.7,33.8 L523.5,34.1 L524.4,34.3 L525.2,34.6 L526.0,34.8 L526.9,35.0 L527.7,35.2 L528.5,35.4 L529.4,35.6 L530.2,35.7 L531.0,35.9 L531.9,36.1 L532.7,36.2 L533.5,36.3 L534.4,36.5 L535.2,36.6 L536.0,36.7 L536.9,36.8 L537.7,36.9 L538.5,37.0 L539.4,37.2 L540.2,37.3 L541.0,37.4 L541.9,37.5 L542.7,37.6 L543.5,37.7 L544.4,37.8 L545.2,38.0 L546.0,38.1 L546.9,38.2 L547.7,38.4 L548.5,38.5 L549.4,38.7 L550.2,38.9 L551.0,39.0 L551.9,39.2 L552.7,39.4 L553.5,39.7 L554.4,39.9 L555.2,40.1 L556.0,40.3 L556.9,40.5 L557.7,40.8 L558.5,41.0 L559.4,41.2 L560.2,41.5 L561.0,41.7 L561.9,42.0 L562.7,42.2 L563.6,42.5 L564.4,42.7 L565.2,43.0 L566.1,43.2 L566.9,43.5 L567.7,43.7 L568.6,44.0 L569.4,44.3 L570.2,44.5 L571.1,44.8 L571.9,45.1 L572.7,45.3 L573.6,45.6 L574.4,45.9 L575.2,46.2 L576.1,46.5 L576.9,46.8 L577.7,47.0 L578.6,47.3 L579.4,47.6 L580.2,47.9 L581.1,48.2 L581.9,48.5 L582.7,48.8 L583.6,49.1 L584.4,49.4 L585.2,49.7 L586.1,50.0 L586.9,50.3 L587.7,50.7 L588.6,51.0 L589.4,51.3 L590.2,51.6 L591.1,51.9 L591.9,52.3 L592.7,52.6 L593.6,52.9 L594.4,53.2 L595.2,53.6 L596.1,53.9 L596.9,54.2 L597.7,54.6 L598.6,54.9 L599.4,55.3 L600.2,55.6" fill="none" stroke="#5a2d8c" stroke-width="4.4" stroke-linecap="square" stroke-linejoin="round" clip-path="url(#c2)"/>
<path d="M501.0,136.9 L501.8,137.5 L502.7,138.1 L503.5,138.7 L504.3,139.2 L505.2,139.7 L506.0,140.0 L506.8,140.2 L507.7,140.4 L508.5,140.6 L509.3,140.7 L510.2,140.9 L511.0,141.1 L511.9,141.2 L512.7,141.4 L513.5,141.6 L514.4,141.7 L515.2,141.8 L516.0,142.0 L516.9,142.1 L517.7,142.2 L518.5,142.3 L519.4,142.4 L520.2,142.6 L521.0,142.7 L521.9,142.8 L522.7,142.8 L523.5,142.9 L524.4,143.0 L525.2,143.1 L526.0,143.2 L526.9,143.3 L527.7,143.4 L528.5,143.4 L529.4,143.5 L530.2,143.6 L531.0,143.6 L531.9,143.7 L532.7,143.8 L533.5,143.9 L534.4,143.9 L535.2,144.0 L536.0,144.1 L536.9,144.1 L537.7,144.2 L538.5,144.3 L539.4,144.3 L540.2,144.4 L541.0,144.5 L541.9,144.6 L542.7,144.7 L543.5,144.7 L544.4,144.8 L545.2,144.9 L546.0,145.0 L546.9,145.1 L547.7,145.2 L548.5,145.3 L549.4,145.4 L550.2,145.5 L551.0,145.6 L551.9,145.8 L552.7,145.9 L553.5,146.0 L554.4,146.2 L555.2,146.3 L556.0,146.4 L556.9,146.6 L557.7,146.7 L558.5,146.9 L559.4,147.0 L560.2,147.2 L561.0,147.3 L561.9,147.5 L562.7,147.6 L563.6,147.8 L564.4,147.9 L565.2,148.1 L566.1,148.2 L566.9,148.4 L567.7,148.6 L568.6,148.7 L569.4,148.9 L570.2,149.1 L571.1,149.2 L571.9,149.4 L572.7,149.6 L573.6,149.8 L574.4,149.9 L575.2,150.1 L576.1,150.3 L576.9,150.5 L577.7,150.6 L578.6,150.8 L579.4,151.0 L580.2,151.2 L581.1,151.4 L581.9,151.6 L582.7,151.8 L583.6,151.9 L584.4,152.1 L585.2,152.3 L586.1,152.5 L586.9,152.7 L587.7,152.9 L588.6,153.1 L589.4,153.3 L590.2,153.5 L591.1,153.7 L591.9,153.9 L592.7,154.1 L593.6,154.3 L594.4,154.5 L595.2,154.7 L596.1,154.9 L596.9,155.2 L597.7,155.4 L598.6,155.6 L599.4,155.8 L600.2,156.0" fill="none" stroke="#8b2a8b" stroke-width="4.4" stroke-linecap="square" stroke-linejoin="round" clip-path="url(#c2)"/>
<path d="M501.0,190.1 L501.8,190.2 L502.7,190.2 L503.5,190.3 L504.3,190.3 L505.2,190.4 L506.0,190.4 L506.8,190.5 L507.7,190.5 L508.5,190.6 L509.3,190.6 L510.2,190.7 L511.0,190.8 L511.9,190.8 L512.7,190.9 L513.5,190.9 L514.4,191.0 L515.2,191.1 L516.0,191.1 L516.9,191.2 L517.7,191.2 L518.5,191.3 L519.4,191.4 L520.2,191.4 L521.0,191.5 L521.9,191.6 L522.7,191.7 L523.5,191.7 L524.4,191.8 L525.2,191.9 L526.0,191.9 L526.9,192.0 L527.7,192.1 L528.5,192.2 L529.4,192.2 L530.2,192.3 L531.0,192.4 L531.9,192.5 L532.7,192.5 L533.5,192.6 L534.4,192.7 L535.2,192.8 L536.0,192.9 L536.9,193.0 L537.7,193.0 L538.5,193.1 L539.4,193.2 L540.2,193.3 L541.0,193.4 L541.9,193.5 L542.7,193.5 L543.5,193.6 L544.4,193.7 L545.2,193.8 L546.0,193.9 L546.9,194.0 L547.7,194.1 L548.5,194.2 L549.4,194.2 L550.2,194.3 L551.0,194.4 L551.9,194.5 L552.7,194.6 L553.5,194.7 L554.4,194.8 L555.2,194.9 L556.0,195.0 L556.9,195.1 L557.7,195.2 L558.5,195.3 L559.4,195.4 L560.2,195.5 L561.0,195.6 L561.9,195.7 L562.7,195.8 L563.6,195.9 L564.4,196.0 L565.2,196.1 L566.1,196.2 L566.9,196.4 L567.7,196.5 L568.6,196.6 L569.4,196.7 L570.2,196.8 L571.1,196.9 L571.9,197.1 L572.7,197.2 L573.6,197.3 L574.4,197.4 L575.2,197.5 L576.1,197.7 L576.9,197.8 L577.7,197.9 L578.6,198.1 L579.4,198.2 L580.2,198.3 L581.1,198.4 L581.9,198.6 L582.7,198.7 L583.6,198.8 L584.4,199.0 L585.2,199.1 L586.1,199.2 L586.9,199.4 L587.7,199.5 L588.6,199.7 L589.4,199.8 L590.2,199.9 L591.1,200.1 L591.9,200.2 L592.7,200.4 L593.6,200.5 L594.4,200.7 L595.2,200.8 L596.1,200.9 L596.9,201.1 L597.7,201.2 L598.6,201.4 L599.4,201.5 L600.2,201.7" fill="none" stroke="#c7447a" stroke-width="4.4" stroke-linecap="square" stroke-linejoin="round" clip-path="url(#c2)"/>
<path d="M501.0,207.7 L501.8,207.7 L502.7,207.8 L503.5,207.8 L504.3,207.9 L505.2,207.9 L506.0,207.9 L506.8,208.0 L507.7,208.0 L508.5,208.1 L509.3,208.1 L510.2,208.1 L511.0,208.2 L511.9,208.2 L512.7,208.3 L513.5,208.3 L514.4,208.4 L515.2,208.4 L516.0,208.5 L516.9,208.5 L517.7,208.6 L518.5,208.6 L519.4,208.7 L520.2,208.7 L521.0,208.8 L521.9,208.8 L522.7,208.9 L523.5,208.9 L524.4,209.0 L525.2,209.0 L526.0,209.1 L526.9,209.2 L527.7,209.2 L528.5,209.3 L529.4,209.3 L530.2,209.4 L531.0,209.5 L531.9,209.5 L532.7,209.6 L533.5,209.6 L534.4,209.7 L535.2,209.8 L536.0,209.8 L536.9,209.9 L537.7,210.0 L538.5,210.0 L539.4,210.1 L540.2,210.2 L541.0,210.2 L541.9,210.3 L542.7,210.4 L543.5,210.4 L544.4,210.5 L545.2,210.6 L546.0,210.6 L546.9,210.7 L547.7,210.8 L548.5,210.8 L549.4,210.9 L550.2,211.0 L551.0,211.0 L551.9,211.1 L552.7,211.2 L553.5,211.3 L554.4,211.3 L555.2,211.4 L556.0,211.5 L556.9,211.6 L557.7,211.6 L558.5,211.7 L559.4,211.8 L560.2,211.9 L561.0,212.0 L561.9,212.0 L562.7,212.1 L563.6,212.2 L564.4,212.3 L565.2,212.4 L566.1,212.5 L566.9,212.6 L567.7,212.6 L568.6,212.7 L569.4,212.8 L570.2,212.9 L571.1,213.0 L571.9,213.1 L572.7,213.2 L573.6,213.3 L574.4,213.4 L575.2,213.5 L576.1,213.6 L576.9,213.7 L577.7,213.8 L578.6,213.9 L579.4,214.0 L580.2,214.1 L581.1,214.2 L581.9,214.3 L582.7,214.4 L583.6,214.5 L584.4,214.6 L585.2,214.7 L586.1,214.8 L586.9,214.9 L587.7,215.0 L588.6,215.2 L589.4,215.3 L590.2,215.4 L591.1,215.5 L591.9,215.6 L592.7,215.7 L593.6,215.8 L594.4,215.9 L595.2,216.0 L596.1,216.2 L596.9,216.3 L597.7,216.4 L598.6,216.5 L599.4,216.6 L600.2,216.7" fill="none" stroke="#d6744f" stroke-width="4.4" stroke-linecap="square" stroke-linejoin="round" clip-path="url(#c2)"/>
<path d="M501.0,212.2 L501.8,212.2 L502.7,212.3 L503.5,212.3 L504.3,212.3 L505.2,212.3 L506.0,212.4 L506.8,212.4 L507.7,212.4 L508.5,212.5 L509.3,212.5 L510.2,212.5 L511.0,212.6 L511.9,212.6 L512.7,212.6 L513.5,212.7 L514.4,212.7 L515.2,212.8 L516.0,212.8 L516.9,212.8 L517.7,212.9 L518.5,212.9 L519.4,213.0 L520.2,213.0 L521.0,213.1 L521.9,213.1 L522.7,213.1 L523.5,213.2 L524.4,213.2 L525.2,213.3 L526.0,213.3 L526.9,213.4 L527.7,213.4 L528.5,213.5 L529.4,213.5 L530.2,213.6 L531.0,213.6 L531.9,213.7 L532.7,213.8 L533.5,213.8 L534.4,213.9 L535.2,213.9 L536.0,214.0 L536.9,214.0 L537.7,214.1 L538.5,214.2 L539.4,214.2 L540.2,214.3 L541.0,214.3 L541.9,214.4 L542.7,214.4 L543.5,214.5 L544.4,214.6 L545.2,214.6 L546.0,214.7 L546.9,214.8 L547.7,214.8 L548.5,214.9 L549.4,214.9 L550.2,215.0 L551.0,215.1 L551.9,215.1 L552.7,215.2 L553.5,215.3 L554.4,215.3 L555.2,215.4 L556.0,215.5 L556.9,215.5 L557.7,215.6 L558.5,215.7 L559.4,215.8 L560.2,215.8 L561.0,215.9 L561.9,216.0 L562.7,216.1 L563.6,216.2 L564.4,216.2 L565.2,216.3 L566.1,216.4 L566.9,216.5 L567.7,216.6 L568.6,216.7 L569.4,216.8 L570.2,216.9 L571.1,216.9 L571.9,217.0 L572.7,217.1 L573.6,217.2 L574.4,217.3 L575.2,217.4 L576.1,217.5 L576.9,217.6 L577.7,217.7 L578.6,217.8 L579.4,217.9 L580.2,218.0 L581.1,218.1 L581.9,218.2 L582.7,218.4 L583.6,218.5 L584.4,218.6 L585.2,218.7 L586.1,218.8 L586.9,218.9 L587.7,219.0 L588.6,219.1 L589.4,219.2 L590.2,219.3 L591.1,219.5 L591.9,219.6 L592.7,219.7 L593.6,219.8 L594.4,219.9 L595.2,220.0 L596.1,220.2 L596.9,220.3 L597.7,220.4 L598.6,220.5 L599.4,220.6 L600.2,220.8" fill="none" stroke="#e8a838" stroke-width="4.4" stroke-linecap="square" stroke-linejoin="round" clip-path="url(#c2)"/>
<path d="M501.0,214.2 L501.8,214.2 L502.7,214.3 L503.5,214.3 L504.3,214.3 L505.2,214.3 L506.0,214.3 L506.8,214.3 L507.7,214.4 L508.5,214.4 L509.3,214.4 L510.2,214.4 L511.0,214.4 L511.9,214.5 L512.7,214.5 L513.5,214.5 L514.4,214.6 L515.2,214.6 L516.0,214.6 L516.9,214.6 L517.7,214.7 L518.5,214.7 L519.4,214.8 L520.2,214.8 L521.0,214.8 L521.9,214.9 L522.7,214.9 L523.5,214.9 L524.4,215.0 L525.2,215.0 L526.0,215.1 L526.9,215.1 L527.7,215.2 L528.5,215.2 L529.4,215.2 L530.2,215.3 L531.0,215.3 L531.9,215.4 L532.7,215.4 L533.5,215.5 L534.4,215.5 L535.2,215.6 L536.0,215.6 L536.9,215.7 L537.7,215.7 L538.5,215.8 L539.4,215.8 L540.2,215.9 L541.0,215.9 L541.9,216.0 L542.7,216.0 L543.5,216.1 L544.4,216.2 L545.2,216.2 L546.0,216.3 L546.9,216.3 L547.7,216.4 L548.5,216.4 L549.4,216.5 L550.2,216.5 L551.0,216.6 L551.9,216.7 L552.7,216.7 L553.5,216.8 L554.4,216.8 L555.2,216.9 L556.0,217.0 L556.9,217.0 L557.7,217.1 L558.5,217.2 L559.4,217.2 L560.2,217.3 L561.0,217.4 L561.9,217.4 L562.7,217.5 L563.6,217.6 L564.4,217.7 L565.2,217.8 L566.1,217.8 L566.9,217.9 L567.7,218.0 L568.6,218.1 L569.4,218.2 L570.2,218.3 L571.1,218.4 L571.9,218.5 L572.7,218.6 L573.6,218.7 L574.4,218.8 L575.2,218.9 L576.1,219.0 L576.9,219.1 L577.7,219.2 L578.6,219.3 L579.4,219.4 L580.2,219.5 L581.1,219.6 L581.9,219.7 L582.7,219.8 L583.6,219.9 L584.4,220.0 L585.2,220.1 L586.1,220.2 L586.9,220.3 L587.7,220.5 L588.6,220.6 L589.4,220.7 L590.2,220.8 L591.1,220.9 L591.9,221.0 L592.7,221.2 L593.6,221.3 L594.4,221.4 L595.2,221.5 L596.1,221.6 L596.9,221.8 L597.7,221.9 L598.6,222.0 L599.4,222.1 L600.2,222.3" fill="none" stroke="#262a78" stroke-width="4.4" stroke-dasharray="16,7" stroke-linecap="butt" stroke-linejoin="round" clip-path="url(#c2)"/>
<rect x="495.7" y="13.1" width="109.9" height="219.3" fill="none" stroke="#222" stroke-width="1"/>
<line x1="492.2" y1="231.3" x2="495.7" y2="231.3" stroke="#222" stroke-width="1" />
<text x="487.7" y="238.9" font-size="22" text-anchor="end" font-family="'DejaVu Sans', sans-serif" >1670</text>
<line x1="492.2" y1="181.1" x2="495.7" y2="181.1" stroke="#222" stroke-width="1" />
<text x="487.7" y="188.7" font-size="22" text-anchor="end" font-family="'DejaVu Sans', sans-serif" >1680</text>
<line x1="492.2" y1="130.9" x2="495.7" y2="130.9" stroke="#222" stroke-width="1" />
<text x="487.7" y="138.5" font-size="22" text-anchor="end" font-family="'DejaVu Sans', sans-serif" >1690</text>
<line x1="492.2" y1="80.7" x2="495.7" y2="80.7" stroke="#222" stroke-width="1" />
<text x="487.7" y="88.3" font-size="22" text-anchor="end" font-family="'DejaVu Sans', sans-serif" >1700</text>
<line x1="492.2" y1="30.5" x2="495.7" y2="30.5" stroke="#222" stroke-width="1" />
<text x="487.7" y="38.1" font-size="22" text-anchor="end" font-family="'DejaVu Sans', sans-serif" >1710</text>
<line x1="524" y1="232.4" x2="524" y2="235.9" stroke="#222" stroke-width="1" />
<text x="524" y="256.8" font-size="22" text-anchor="middle" font-family="'DejaVu Sans', sans-serif" >5</text>
<line x1="553.1" y1="232.4" x2="553.1" y2="235.9" stroke="#222" stroke-width="1" />
<text x="553.1" y="256.8" font-size="22" text-anchor="middle" font-family="'DejaVu Sans', sans-serif" >10</text>
<line x1="582.2" y1="232.4" x2="582.2" y2="235.9" stroke="#222" stroke-width="1" />
<text x="582.2" y="256.8" font-size="22" text-anchor="middle" font-family="'DejaVu Sans', sans-serif" >15</text>
<rect x="168.6" y="1" width="449.4" height="540.4" fill="none" stroke="#222" stroke-width="1"/>
<line x1="165.1" y1="509.66" x2="168.6" y2="509.66" stroke="#222" stroke-width="1" />
<text transform="translate(161.6 521.96) scale(1 1.06)" font-size="30.8" text-anchor="end" font-family="'DejaVu Sans', sans-serif" >400</text>
<line x1="165.1" y1="435.9" x2="168.6" y2="435.9" stroke="#222" stroke-width="1" />
<text transform="translate(161.6 448.2) scale(1 1.06)" font-size="30.8" text-anchor="end" font-family="'DejaVu Sans', sans-serif" >600</text>
<line x1="165.1" y1="362.14" x2="168.6" y2="362.14" stroke="#222" stroke-width="1" />
<text transform="translate(161.6 374.44) scale(1 1.06)" font-size="30.8" text-anchor="end" font-family="'DejaVu Sans', sans-serif" >800</text>
<line x1="165.1" y1="288.38" x2="168.6" y2="288.38" stroke="#222" stroke-width="1" />
<text transform="translate(161.6 300.68) scale(1 1.06)" font-size="30.8" text-anchor="end" font-family="'DejaVu Sans', sans-serif" >1000</text>
<line x1="165.1" y1="214.62" x2="168.6" y2="214.62" stroke="#222" stroke-width="1" />
<text transform="translate(161.6 226.92) scale(1 1.06)" font-size="30.8" text-anchor="end" font-family="'DejaVu Sans', sans-serif" >1200</text>
<line x1="165.1" y1="140.86" x2="168.6" y2="140.86" stroke="#222" stroke-width="1" />
<text transform="translate(161.6 153.16) scale(1 1.06)" font-size="30.8" text-anchor="end" font-family="'DejaVu Sans', sans-serif" >1400</text>
<line x1="165.1" y1="67.1" x2="168.6" y2="67.1" stroke="#222" stroke-width="1" />
<text transform="translate(161.6 79.4) scale(1 1.06)" font-size="30.8" text-anchor="end" font-family="'DejaVu Sans', sans-serif" >1600</text>
<line x1="189.5" y1="541.4" x2="189.5" y2="544.9" stroke="#222" stroke-width="1" />
<text transform="translate(189.5 573) scale(1 1.06)" font-size="30.8" text-anchor="middle" font-family="'DejaVu Sans', sans-serif" >0</text>
<line x1="393.4" y1="541.4" x2="393.4" y2="544.9" stroke="#222" stroke-width="1" />
<text transform="translate(393.4 573) scale(1 1.06)" font-size="30.8" text-anchor="middle" font-family="'DejaVu Sans', sans-serif" >100</text>
<line x1="597.3" y1="541.4" x2="597.3" y2="544.9" stroke="#222" stroke-width="1" />
<text transform="translate(597.3 573) scale(1 1.06)" font-size="30.8" text-anchor="middle" font-family="'DejaVu Sans', sans-serif" >200</text>
<text x="395.3" y="606.6" font-size="30.5" text-anchor="middle" font-family="'DejaVu Sans', sans-serif" ><tspan font-style="italic">x</tspan> / µm</text>
<text x="0" y="0" font-size="30.5" text-anchor="middle" font-family="'DejaVu Sans', sans-serif" transform="translate(71,271.2) rotate(-90)"><tspan font-style="italic">c</tspan> / mol m<tspan font-size="21.35" dy="-12">−3</tspan></text>
<clipPath id="c3"><rect x="784.5" y="1" width="449.5" height="540.4"/></clipPath>
<path d="M805.0,25.9 L806.4,25.9 L807.7,25.9 L809.1,25.9 L810.5,25.9 L811.8,25.9 L813.2,25.9 L814.6,25.9 L815.9,25.9 L817.3,26.0 L818.7,26.0 L820.0,26.0 L821.4,26.0 L822.8,26.0 L824.2,26.0 L825.5,26.1 L826.9,26.1 L828.3,26.1 L829.6,26.1 L831.0,26.2 L832.4,26.2 L833.7,26.2 L835.1,26.3 L836.5,26.3 L837.8,26.3 L839.2,26.4 L840.6,26.4 L841.9,26.4 L843.3,26.5 L844.7,26.5 L846.0,26.5 L847.4,26.6 L848.8,26.6 L850.1,26.7 L851.5,26.8 L852.9,26.9 L854.2,27.0 L855.6,27.2 L857.0,27.3 L858.3,27.5 L859.7,27.7 L861.1,27.9 L862.5,28.1 L863.8,28.4 L865.2,28.6 L866.6,28.9 L867.9,29.2 L869.3,29.5 L870.7,29.8 L872.0,30.1 L873.4,30.4 L874.8,30.7 L876.1,31.1 L877.5,31.4 L878.9,31.8 L880.2,32.3 L881.6,32.8 L883.0,33.4 L884.3,34.0 L885.7,34.7 L887.1,35.4 L888.4,36.2 L889.8,36.9 L891.2,37.7 L892.5,38.6 L893.9,39.4 L895.3,40.3 L896.6,41.2 L898.0,42.1 L899.4,43.1 L900.8,44.2 L902.1,45.3 L903.5,46.5 L904.9,47.7 L906.2,49.0 L907.6,50.3 L909.0,51.6 L910.3,52.9 L911.7,54.3 L913.1,55.7 L914.4,57.1 L915.8,58.6 L917.2,60.1 L918.5,61.8 L919.9,63.6 L921.3,65.6 L922.6,67.8 L924.0,70.3 L925.4,73.2 L926.7,76.2 L928.1,79.4 L929.5,82.8 L930.8,86.3 L932.2,89.8 L933.6,93.5 L934.9,97.4 L936.3,101.4 L937.7,105.6 L939.1,110.0 L940.4,114.5 L941.8,119.1 L943.2,124.1 L944.5,129.3 L945.9,134.6 L947.3,140.0 L948.6,145.2 L950.0,150.3 L951.4,155.4 L952.7,160.4 L954.1,165.5 L955.5,170.8 L956.8,176.3 L958.2,181.8 L959.6,187.5 L960.9,193.6 L962.3,200.2 L963.7,207.7 L965.0,216.1 L966.4,224.8 L967.8,233.7 L969.1,242.4 L970.5,250.6 L971.9,258.2 L973.3,265.7 L974.6,273.0 L976.0,280.2 L977.4,287.3 L978.7,294.3 L980.1,301.3 L981.5,308.2 L982.8,315.1 L984.2,322.0 L985.6,328.8 L986.9,335.4 L988.3,342.0 L989.7,348.6 L991.0,355.1 L992.4,361.8 L993.8,368.6 L995.1,375.6 L996.5,383.0 L997.9,391.0 L999.2,399.2 L1000.6,407.5 L1002.0,415.4 L1003.3,422.7 L1004.7,429.1 L1006.1,434.9 L1007.4,440.4 L1008.8,445.5 L1010.2,450.3 L1011.6,454.9 L1012.9,459.0 L1014.3,462.9 L1015.7,466.6 L1017.0,470.2 L1018.4,473.7 L1019.8,477.0 L1021.1,480.2 L1022.5,483.2 L1023.9,486.1 L1025.2,488.6 L1026.6,491.0 L1028.0,493.0 L1029.3,494.8 L1030.7,496.5 L1032.1,498.1 L1033.4,499.7 L1034.8,501.2 L1036.2,502.7 L1037.5,504.0 L1038.9,505.3 L1040.3,506.5 L1041.6,507.5 L1043.0,508.5 L1044.4,509.4 L1045.7,510.2 L1047.1,510.9 L1048.5,511.5 L1049.9,512.0 L1051.2,512.5 L1052.6,513.0 L1054.0,513.4 L1055.3,513.8 L1056.7,514.2 L1058.1,514.5 L1059.4,514.7 L1060.8,514.9 L1062.2,515.0 L1063.5,515.0 L1064.9,515.1 L1066.3,515.1 L1067.6,515.1 L1069.0,515.2 L1070.4,515.2 L1071.7,515.2 L1073.1,515.3 L1074.5,515.3 L1075.8,515.3 L1077.2,515.3 L1078.6,515.3 L1079.9,515.4 L1081.3,515.4 L1082.7,515.4 L1084.1,515.4 L1085.4,515.4 L1086.8,515.4 L1088.2,515.5 L1089.5,515.5 L1090.9,515.5 L1092.3,515.5 L1093.6,515.5 L1095.0,515.5 L1096.4,515.5 L1097.7,515.5 L1099.1,515.5 L1100.5,515.5 L1101.8,515.5 L1103.2,515.5 L1104.6,515.5 L1105.9,515.5 L1107.3,515.5 L1108.7,515.5 L1110.0,515.5 L1111.4,515.5 L1112.8,515.5 L1114.1,515.5 L1115.5,515.5 L1116.9,515.5 L1118.2,515.5 L1119.6,515.5 L1121.0,515.5 L1122.4,515.5 L1123.7,515.5 L1125.1,515.5 L1126.5,515.5 L1127.8,515.5 L1129.2,515.5 L1130.6,515.5 L1131.9,515.5 L1133.3,515.5 L1134.7,515.5 L1136.0,515.5 L1137.4,515.5 L1138.8,515.5 L1140.1,515.5 L1141.5,515.5 L1142.9,515.5 L1144.2,515.5 L1145.6,515.5 L1147.0,515.5 L1148.3,515.5 L1149.7,515.5 L1151.1,515.5 L1152.4,515.5 L1153.8,515.5 L1155.2,515.5 L1156.5,515.5 L1157.9,515.5 L1159.3,515.5 L1160.7,515.5 L1162.0,515.5 L1163.4,515.5 L1164.8,515.5 L1166.1,515.5 L1167.5,515.5 L1168.9,515.5 L1170.2,515.5 L1171.6,515.5 L1173.0,515.5 L1174.3,515.5 L1175.7,515.5 L1177.1,515.5 L1178.4,515.5 L1179.8,515.5 L1181.2,515.5 L1182.5,515.5 L1183.9,515.5 L1185.3,515.5 L1186.6,515.5 L1188.0,515.5 L1189.4,515.5 L1190.7,515.5 L1192.1,515.5 L1193.5,515.5 L1194.8,515.5 L1196.2,515.5 L1197.6,515.5 L1199.0,515.5 L1200.3,515.5 L1201.7,515.5 L1203.1,515.5 L1204.4,515.5 L1205.8,515.5 L1207.2,515.5 L1208.5,515.5 L1209.9,515.5 L1211.3,515.5 L1212.6,515.5 L1214.0,515.5" fill="none" stroke="#5a2d8c" stroke-width="4.4" stroke-linecap="square" stroke-linejoin="round" clip-path="url(#c3)"/>
<path d="M805.0,64.4 L806.4,64.4 L807.7,64.4 L809.1,64.4 L810.5,64.4 L811.8,64.4 L813.2,64.5 L814.6,64.5 L815.9,64.5 L817.3,64.5 L818.7,64.5 L820.0,64.6 L821.4,64.6 L822.8,64.6 L824.2,64.7 L825.5,64.7 L826.9,64.7 L828.3,64.8 L829.6,64.8 L831.0,64.9 L832.4,64.9 L833.7,65.0 L835.1,65.0 L836.5,65.1 L837.8,65.1 L839.2,65.2 L840.6,65.3 L841.9,65.3 L843.3,65.4 L844.7,65.4 L846.0,65.5 L847.4,65.6 L848.8,65.6 L850.1,65.7 L851.5,65.8 L852.9,66.0 L854.2,66.1 L855.6,66.2 L857.0,66.4 L858.3,66.6 L859.7,66.8 L861.1,67.0 L862.5,67.2 L863.8,67.4 L865.2,67.7 L866.6,67.9 L867.9,68.2 L869.3,68.4 L870.7,68.7 L872.0,69.0 L873.4,69.3 L874.8,69.5 L876.1,69.8 L877.5,70.1 L878.9,70.4 L880.2,70.8 L881.6,71.1 L883.0,71.5 L884.3,72.0 L885.7,72.4 L887.1,72.9 L888.4,73.3 L889.8,73.8 L891.2,74.3 L892.5,74.7 L893.9,75.2 L895.3,75.6 L896.6,76.1 L898.0,76.5 L899.4,77.0 L900.8,77.4 L902.1,76.9 L903.5,75.8 L904.9,75.2 L906.2,74.9 L907.6,74.8 L909.0,75.1 L910.3,75.7 L911.7,81.4 L913.1,87.0 L914.4,90.2 L915.8,92.8 L917.2,95.0 L918.5,96.9 L919.9,98.6 L921.3,100.3 L922.6,102.1 L924.0,104.1 L925.4,106.6 L926.7,109.4 L928.1,112.4 L929.5,115.5 L930.8,118.9 L932.2,122.4 L933.6,126.0 L934.9,129.7 L936.3,133.6 L937.7,137.5 L939.1,141.5 L940.4,145.7 L941.8,150.1 L943.2,154.6 L944.5,159.3 L945.9,164.1 L947.3,169.1 L948.6,174.2 L950.0,179.7 L951.4,185.7 L952.7,191.8 L954.1,197.9 L955.5,203.9 L956.8,209.9 L958.2,215.9 L959.6,222.0 L960.9,228.0 L962.3,234.1 L963.7,240.1 L965.0,246.2 L966.4,252.3 L967.8,258.5 L969.1,264.7 L970.5,270.9 L971.9,277.1 L973.3,283.4 L974.6,289.6 L976.0,295.9 L977.4,302.1 L978.7,308.4 L980.1,314.6 L981.5,320.8 L982.8,327.0 L984.2,333.0 L985.6,339.0 L986.9,345.0 L988.3,351.1 L989.7,357.2 L991.0,363.4 L992.4,369.8 L993.8,376.4 L995.1,383.3 L996.5,390.8 L997.9,398.6 L999.2,406.4 L1000.6,414.0 L1002.0,421.1 L1003.3,427.5 L1004.7,433.3 L1006.1,438.8 L1007.4,444.1 L1008.8,449.1 L1010.2,453.7 L1011.6,458.0 L1012.9,461.9 L1014.3,465.5 L1015.7,469.0 L1017.0,472.4 L1018.4,475.6 L1019.8,478.7 L1021.1,481.7 L1022.5,484.4 L1023.9,487.0 L1025.2,489.4 L1026.6,491.6 L1028.0,493.5 L1029.3,495.3 L1030.7,497.0 L1032.1,498.6 L1033.4,500.2 L1034.8,501.7 L1036.2,503.1 L1037.5,504.5 L1038.9,505.8 L1040.3,507.0 L1041.6,508.1 L1043.0,509.1 L1044.4,510.0 L1045.7,510.8 L1047.1,511.5 L1048.5,512.0 L1049.9,512.5 L1051.2,512.9 L1052.6,513.4 L1054.0,513.8 L1055.3,514.1 L1056.7,514.5 L1058.1,514.7 L1059.4,514.9 L1060.8,515.1 L1062.2,515.2 L1063.5,515.2 L1064.9,515.2 L1066.3,515.3 L1067.6,515.3 L1069.0,515.3 L1070.4,515.3 L1071.7,515.3 L1073.1,515.4 L1074.5,515.4 L1075.8,515.4 L1077.2,515.4 L1078.6,515.4 L1079.9,515.4 L1081.3,515.4 L1082.7,515.4 L1084.1,515.5 L1085.4,515.5 L1086.8,515.5 L1088.2,515.5 L1089.5,515.5 L1090.9,515.5 L1092.3,515.5 L1093.6,515.5 L1095.0,515.5 L1096.4,515.5 L1097.7,515.5 L1099.1,515.5 L1100.5,515.5 L1101.8,515.5 L1103.2,515.5 L1104.6,515.5 L1105.9,515.5 L1107.3,515.5 L1108.7,515.5 L1110.0,515.5 L1111.4,515.5 L1112.8,515.5 L1114.1,515.5 L1115.5,515.5 L1116.9,515.5 L1118.2,515.5 L1119.6,515.5 L1121.0,515.5 L1122.4,515.5 L1123.7,515.5 L1125.1,515.5 L1126.5,515.5 L1127.8,515.5 L1129.2,515.5 L1130.6,515.5 L1131.9,515.5 L1133.3,515.5 L1134.7,515.5 L1136.0,515.5 L1137.4,515.5 L1138.8,515.5 L1140.1,515.5 L1141.5,515.5 L1142.9,515.5 L1144.2,515.5 L1145.6,515.5 L1147.0,515.5 L1148.3,515.5 L1149.7,515.5 L1151.1,515.5 L1152.4,515.5 L1153.8,515.5 L1155.2,515.5 L1156.5,515.5 L1157.9,515.5 L1159.3,515.5 L1160.7,515.5 L1162.0,515.5 L1163.4,515.5 L1164.8,515.5 L1166.1,515.5 L1167.5,515.5 L1168.9,515.5 L1170.2,515.5 L1171.6,515.5 L1173.0,515.5 L1174.3,515.5 L1175.7,515.5 L1177.1,515.5 L1178.4,515.5 L1179.8,515.5 L1181.2,515.5 L1182.5,515.5 L1183.9,515.5 L1185.3,515.5 L1186.6,515.5 L1188.0,515.5 L1189.4,515.5 L1190.7,515.5 L1192.1,515.5 L1193.5,515.5 L1194.8,515.5 L1196.2,515.5 L1197.6,515.5 L1199.0,515.5 L1200.3,515.5 L1201.7,515.5 L1203.1,515.5 L1204.4,515.5 L1205.8,515.5 L1207.2,515.5 L1208.5,515.5 L1209.9,515.5 L1211.3,515.5 L1212.6,515.5 L1214.0,515.5" fill="none" stroke="#8b2a8b" stroke-width="4.4" stroke-linecap="square" stroke-linejoin="round" clip-path="url(#c3)"/>
<path d="M805.0,82.0 L806.4,82.0 L807.7,82.0 L809.1,82.0 L810.5,82.0 L811.8,82.0 L813.2,82.0 L814.6,82.0 L815.9,82.0 L817.3,82.1 L818.7,82.1 L820.0,82.1 L821.4,82.1 L822.8,82.1 L824.2,82.1 L825.5,82.2 L826.9,82.2 L828.3,82.2 L829.6,82.2 L831.0,82.2 L832.4,82.3 L833.7,82.3 L835.1,82.3 L836.5,82.3 L837.8,82.4 L839.2,82.4 L840.6,82.4 L841.9,82.5 L843.3,82.5 L844.7,82.5 L846.0,82.6 L847.4,82.6 L848.8,82.6 L850.1,82.7 L851.5,82.7 L852.9,82.8 L854.2,82.8 L855.6,82.9 L857.0,83.0 L858.3,83.1 L859.7,83.2 L861.1,83.3 L862.5,83.4 L863.8,83.5 L865.2,83.6 L866.6,83.8 L867.9,83.9 L869.3,84.1 L870.7,84.2 L872.0,84.4 L873.4,84.5 L874.8,84.7 L876.1,84.9 L877.5,85.0 L878.9,85.2 L880.2,85.4 L881.6,85.6 L883.0,85.8 L884.3,86.0 L885.7,86.2 L887.1,86.4 L888.4,86.7 L889.8,87.0 L891.2,87.3 L892.5,87.6 L893.9,88.0 L895.3,88.4 L896.6,88.8 L898.0,89.3 L899.4,89.8 L900.8,90.2 L902.1,90.7 L903.5,91.3 L904.9,91.8 L906.2,92.3 L907.6,92.8 L909.0,93.4 L910.3,94.1 L911.7,95.1 L913.1,96.9 L914.4,98.7 L915.8,100.5 L917.2,102.4 L918.5,104.3 L919.9,106.2 L921.3,108.2 L922.6,110.2 L924.0,112.2 L925.4,114.2 L926.7,116.2 L928.1,118.1 L929.5,120.0 L930.8,122.0 L932.2,123.9 L933.6,126.0 L934.9,128.2 L936.3,130.5 L937.7,133.0 L939.1,135.8 L940.4,138.9 L941.8,142.1 L943.2,145.4 L944.5,148.6 L945.9,151.8 L947.3,154.9 L948.6,158.1 L950.0,161.4 L951.4,165.1 L952.7,169.1 L954.1,174.1 L955.5,179.8 L956.8,185.5 L958.2,190.5 L959.6,195.3 L960.9,200.7 L962.3,206.9 L963.7,213.7 L965.0,221.0 L966.4,228.4 L967.8,236.0 L969.1,243.4 L970.5,250.6 L971.9,257.6 L973.3,264.5 L974.6,271.5 L976.0,278.4 L977.4,285.3 L978.7,292.1 L980.1,299.0 L981.5,305.8 L982.8,312.7 L984.2,319.5 L985.6,326.2 L986.9,332.9 L988.3,339.5 L989.7,346.0 L991.0,352.6 L992.4,359.3 L993.8,366.1 L995.1,373.0 L996.5,380.2 L997.9,388.0 L999.2,396.1 L1000.6,404.3 L1002.0,412.4 L1003.3,420.0 L1004.7,426.9 L1006.1,433.0 L1007.4,438.8 L1008.8,444.4 L1010.2,449.6 L1011.6,454.4 L1012.9,458.9 L1014.3,462.9 L1015.7,466.8 L1017.0,470.5 L1018.4,474.2 L1019.8,477.6 L1021.1,480.9 L1022.5,484.0 L1023.9,486.9 L1025.2,489.5 L1026.6,491.9 L1028.0,494.0 L1029.3,495.8 L1030.7,497.5 L1032.1,499.2 L1033.4,500.8 L1034.8,502.3 L1036.2,503.8 L1037.5,505.2 L1038.9,506.5 L1040.3,507.7 L1041.6,508.8 L1043.0,509.7 L1044.4,510.6 L1045.7,511.4 L1047.1,512.0 L1048.5,512.5 L1049.9,512.9 L1051.2,513.3 L1052.6,513.7 L1054.0,514.1 L1055.3,514.4 L1056.7,514.7 L1058.1,514.9 L1059.4,515.1 L1060.8,515.2 L1062.2,515.3 L1063.5,515.3 L1064.9,515.3 L1066.3,515.3 L1067.6,515.4 L1069.0,515.4 L1070.4,515.4 L1071.7,515.4 L1073.1,515.4 L1074.5,515.4 L1075.8,515.4 L1077.2,515.4 L1078.6,515.4 L1079.9,515.4 L1081.3,515.5 L1082.7,515.5 L1084.1,515.5 L1085.4,515.5 L1086.8,515.5 L1088.2,515.5 L1089.5,515.5 L1090.9,515.5 L1092.3,515.5 L1093.6,515.5 L1095.0,515.5 L1096.4,515.5 L1097.7,515.5 L1099.1,515.5 L1100.5,515.5 L1101.8,515.5 L1103.2,515.5 L1104.6,515.5 L1105.9,515.5 L1107.3,515.5 L1108.7,515.5 L1110.0,515.5 L1111.4,515.5 L1112.8,515.5 L1114.1,515.5 L1115.5,515.5 L1116.9,515.5 L1118.2,515.5 L1119.6,515.5 L1121.0,515.5 L1122.4,515.5 L1123.7,515.5 L1125.1,515.5 L1126.5,515.5 L1127.8,515.5 L1129.2,515.5 L1130.6,515.5 L1131.9,515.5 L1133.3,515.5 L1134.7,515.5 L1136.0,515.5 L1137.4,515.5 L1138.8,515.5 L1140.1,515.5 L1141.5,515.5 L1142.9,515.5 L1144.2,515.5 L1145.6,515.5 L1147.0,515.5 L1148.3,515.5 L1149.7,515.5 L1151.1,515.5 L1152.4,515.5 L1153.8,515.5 L1155.2,515.5 L1156.5,515.5 L1157.9,515.5 L1159.3,515.5 L1160.7,515.5 L1162.0,515.5 L1163.4,515.5 L1164.8,515.5 L1166.1,515.5 L1167.5,515.5 L1168.9,515.5 L1170.2,515.5 L1171.6,515.5 L1173.0,515.5 L1174.3,515.5 L1175.7,515.5 L1177.1,515.5 L1178.4,515.5 L1179.8,515.5 L1181.2,515.5 L1182.5,515.5 L1183.9,515.5 L1185.3,515.5 L1186.6,515.5 L1188.0,515.5 L1189.4,515.5 L1190.7,515.5 L1192.1,515.5 L1193.5,515.5 L1194.8,515.5 L1196.2,515.5 L1197.6,515.5 L1199.0,515.5 L1200.3,515.5 L1201.7,515.5 L1203.1,515.5 L1204.4,515.5 L1205.8,515.5 L1207.2,515.5 L1208.5,515.5 L1209.9,515.5 L1211.3,515.5 L1212.6,515.5 L1214.0,515.5" fill="none" stroke="#c7447a" stroke-width="4.4" stroke-linecap="square" stroke-linejoin="round" clip-path="url(#c3)"/>
<path d="M805.0,88.1 L806.4,88.1 L807.7,88.1 L809.1,88.1 L810.5,88.1 L811.8,88.1 L813.2,88.1 L814.6,88.1 L815.9,88.1 L817.3,88.1 L818.7,88.2 L820.0,88.2 L821.4,88.2 L822.8,88.2 L824.2,88.2 L825.5,88.2 L826.9,88.2 L828.3,88.3 L829.6,88.3 L831.0,88.3 L832.4,88.3 L833.7,88.3 L835.1,88.4 L836.5,88.4 L837.8,88.4 L839.2,88.4 L840.6,88.5 L841.9,88.5 L843.3,88.5 L844.7,88.5 L846.0,88.6 L847.4,88.6 L848.8,88.6 L850.1,88.7 L851.5,88.7 L852.9,88.8 L854.2,88.8 L855.6,88.9 L857.0,89.0 L858.3,89.1 L859.7,89.2 L861.1,89.3 L862.5,89.5 L863.8,89.6 L865.2,89.7 L866.6,89.9 L867.9,90.1 L869.3,90.2 L870.7,90.4 L872.0,90.6 L873.4,90.8 L874.8,91.0 L876.1,91.2 L877.5,91.4 L878.9,91.6 L880.2,91.8 L881.6,92.1 L883.0,92.3 L884.3,92.5 L885.7,92.8 L887.1,93.1 L888.4,93.3 L889.8,93.7 L891.2,94.1 L892.5,94.5 L893.9,95.0 L895.3,95.5 L896.6,96.0 L898.0,96.6 L899.4,97.2 L900.8,97.9 L902.1,98.6 L903.5,99.3 L904.9,100.0 L906.2,100.7 L907.6,101.4 L909.0,102.2 L910.3,103.0 L911.7,103.8 L913.1,104.7 L914.4,105.6 L915.8,106.7 L917.2,107.7 L918.5,108.8 L919.9,110.0 L921.3,111.3 L922.6,112.5 L924.0,113.9 L925.4,115.3 L926.7,116.7 L928.1,118.3 L929.5,120.0 L930.8,121.8 L932.2,123.7 L933.6,125.7 L934.9,127.9 L936.3,130.1 L937.7,132.6 L939.1,135.4 L940.4,138.5 L941.8,141.9 L943.2,145.3 L944.5,148.6 L945.9,151.9 L947.3,155.1 L948.6,158.4 L950.0,161.8 L951.4,165.3 L952.7,169.1 L954.1,173.2 L955.5,177.5 L956.8,182.1 L958.2,186.8 L959.6,191.6 L960.9,196.6 L962.3,202.3 L963.7,208.7 L965.0,215.6 L966.4,222.9 L967.8,230.4 L969.1,238.0 L970.5,245.4 L971.9,252.5 L973.3,259.4 L974.6,266.4 L976.0,273.3 L977.4,280.2 L978.7,287.1 L980.1,294.0 L981.5,300.8 L982.8,307.7 L984.2,314.5 L985.6,321.3 L986.9,328.0 L988.3,334.6 L989.7,341.2 L991.0,347.7 L992.4,354.3 L993.8,361.0 L995.1,367.8 L996.5,374.9 L997.9,382.3 L999.2,390.3 L1000.6,398.7 L1002.0,407.0 L1003.3,415.2 L1004.7,422.8 L1006.1,429.5 L1007.4,435.8 L1008.8,441.8 L1010.2,447.5 L1011.6,452.8 L1012.9,457.7 L1014.3,462.1 L1015.7,466.1 L1017.0,470.1 L1018.4,473.9 L1019.8,477.6 L1021.1,481.0 L1022.5,484.3 L1023.9,487.3 L1025.2,490.0 L1026.6,492.5 L1028.0,494.6 L1029.3,496.4 L1030.7,498.1 L1032.1,499.8 L1033.4,501.4 L1034.8,502.9 L1036.2,504.3 L1037.5,505.7 L1038.9,507.0 L1040.3,508.1 L1041.6,509.2 L1043.0,510.2 L1044.4,511.0 L1045.7,511.7 L1047.1,512.3 L1048.5,512.8 L1049.9,513.2 L1051.2,513.6 L1052.6,513.9 L1054.0,514.3 L1055.3,514.6 L1056.7,514.8 L1058.1,515.0 L1059.4,515.2 L1060.8,515.3 L1062.2,515.4 L1063.5,515.4 L1064.9,515.4 L1066.3,515.4 L1067.6,515.4 L1069.0,515.4 L1070.4,515.4 L1071.7,515.4 L1073.1,515.5 L1074.5,515.5 L1075.8,515.5 L1077.2,515.5 L1078.6,515.5 L1079.9,515.5 L1081.3,515.5 L1082.7,515.5 L1084.1,515.5 L1085.4,515.5 L1086.8,515.5 L1088.2,515.5 L1089.5,515.5 L1090.9,515.5 L1092.3,515.5 L1093.6,515.5 L1095.0,515.5 L1096.4,515.5 L1097.7,515.5 L1099.1,515.5 L1100.5,515.5 L1101.8,515.5 L1103.2,515.5 L1104.6,515.5 L1105.9,515.5 L1107.3,515.5 L1108.7,515.5 L1110.0,515.5 L1111.4,515.5 L1112.8,515.5 L1114.1,515.5 L1115.5,515.5 L1116.9,515.5 L1118.2,515.5 L1119.6,515.5 L1121.0,515.5 L1122.4,515.5 L1123.7,515.5 L1125.1,515.5 L1126.5,515.5 L1127.8,515.5 L1129.2,515.5 L1130.6,515.5 L1131.9,515.5 L1133.3,515.5 L1134.7,515.5 L1136.0,515.5 L1137.4,515.5 L1138.8,515.5 L1140.1,515.5 L1141.5,515.5 L1142.9,515.5 L1144.2,515.5 L1145.6,515.5 L1147.0,515.5 L1148.3,515.5 L1149.7,515.5 L1151.1,515.5 L1152.4,515.5 L1153.8,515.5 L1155.2,515.5 L1156.5,515.5 L1157.9,515.5 L1159.3,515.5 L1160.7,515.5 L1162.0,515.5 L1163.4,515.5 L1164.8,515.5 L1166.1,515.5 L1167.5,515.5 L1168.9,515.5 L1170.2,515.5 L1171.6,515.5 L1173.0,515.5 L1174.3,515.5 L1175.7,515.5 L1177.1,515.5 L1178.4,515.5 L1179.8,515.5 L1181.2,515.5 L1182.5,515.5 L1183.9,515.5 L1185.3,515.5 L1186.6,515.5 L1188.0,515.5 L1189.4,515.5 L1190.7,515.5 L1192.1,515.5 L1193.5,515.5 L1194.8,515.5 L1196.2,515.5 L1197.6,515.5 L1199.0,515.5 L1200.3,515.5 L1201.7,515.5 L1203.1,515.5 L1204.4,515.5 L1205.8,515.5 L1207.2,515.5 L1208.5,515.5 L1209.9,515.5 L1211.3,515.5 L1212.6,515.5 L1214.0,515.5" fill="none" stroke="#d6744f" stroke-width="4.4" stroke-linecap="square" stroke-linejoin="round" clip-path="url(#c3)"/>
<path d="M805.0,90.0 L806.4,90.0 L807.7,90.0 L809.1,90.0 L810.5,90.0 L811.8,90.0 L813.2,90.0 L814.6,90.0 L815.9,90.0 L817.3,90.0 L818.7,90.0 L820.0,90.1 L821.4,90.1 L822.8,90.1 L824.2,90.1 L825.5,90.1 L826.9,90.1 L828.3,90.1 L829.6,90.1 L831.0,90.2 L832.4,90.2 L833.7,90.2 L835.1,90.2 L836.5,90.2 L837.8,90.2 L839.2,90.3 L840.6,90.3 L841.9,90.3 L843.3,90.3 L844.7,90.3 L846.0,90.4 L847.4,90.4 L848.8,90.4 L850.1,90.5 L851.5,90.5 L852.9,90.6 L854.2,90.7 L855.6,90.8 L857.0,90.9 L858.3,91.0 L859.7,91.1 L861.1,91.3 L862.5,91.4 L863.8,91.6 L865.2,91.8 L866.6,92.0 L867.9,92.2 L869.3,92.4 L870.7,92.6 L872.0,92.8 L873.4,93.0 L874.8,93.3 L876.1,93.5 L877.5,93.8 L878.9,94.0 L880.2,94.3 L881.6,94.6 L883.0,94.8 L884.3,95.1 L885.7,95.4 L887.1,95.7 L888.4,96.0 L889.8,96.3 L891.2,96.7 L892.5,97.1 L893.9,97.5 L895.3,98.0 L896.6,98.4 L898.0,98.9 L899.4,99.5 L900.8,100.0 L902.1,100.6 L903.5,101.2 L904.9,101.9 L906.2,102.5 L907.6,103.2 L909.0,103.9 L910.3,104.6 L911.7,105.3 L913.1,106.1 L914.4,107.0 L915.8,108.0 L917.2,108.9 L918.5,110.0 L919.9,111.1 L921.3,112.3 L922.6,113.5 L924.0,114.8 L925.4,116.1 L926.7,117.5 L928.1,119.0 L929.5,120.6 L930.8,122.4 L932.2,124.2 L933.6,126.2 L934.9,128.3 L936.3,130.6 L937.7,133.0 L939.1,135.7 L940.4,138.7 L941.8,142.0 L943.2,145.3 L944.5,148.6 L945.9,151.9 L947.3,155.2 L948.6,158.5 L950.0,161.9 L951.4,165.4 L952.7,169.1 L954.1,172.9 L955.5,176.9 L956.8,181.1 L958.2,185.5 L959.6,190.0 L960.9,194.8 L962.3,200.1 L963.7,206.1 L965.0,212.6 L966.4,219.5 L967.8,226.7 L969.1,234.0 L970.5,241.3 L971.9,248.4 L973.3,255.3 L974.6,262.1 L976.0,269.0 L977.4,275.8 L978.7,282.6 L980.1,289.5 L981.5,296.3 L982.8,303.1 L984.2,310.0 L985.6,316.8 L986.9,323.6 L988.3,330.4 L989.7,337.0 L991.0,343.6 L992.4,350.3 L993.8,357.1 L995.1,364.0 L996.5,371.1 L997.9,378.5 L999.2,386.4 L1000.6,395.0 L1002.0,403.7 L1003.3,412.3 L1004.7,420.4 L1006.1,427.6 L1007.4,434.1 L1008.8,440.3 L1010.2,446.1 L1011.6,451.5 L1012.9,456.6 L1014.3,461.1 L1015.7,465.3 L1017.0,469.4 L1018.4,473.4 L1019.8,477.2 L1021.1,480.8 L1022.5,484.2 L1023.9,487.3 L1025.2,490.2 L1026.6,492.7 L1028.0,494.9 L1029.3,496.7 L1030.7,498.4 L1032.1,500.1 L1033.4,501.7 L1034.8,503.2 L1036.2,504.6 L1037.5,505.9 L1038.9,507.2 L1040.3,508.3 L1041.6,509.4 L1043.0,510.3 L1044.4,511.1 L1045.7,511.9 L1047.1,512.4 L1048.5,512.9 L1049.9,513.3 L1051.2,513.6 L1052.6,514.0 L1054.0,514.3 L1055.3,514.6 L1056.7,514.8 L1058.1,515.1 L1059.4,515.2 L1060.8,515.3 L1062.2,515.4 L1063.5,515.4 L1064.9,515.4 L1066.3,515.4 L1067.6,515.4 L1069.0,515.4 L1070.4,515.4 L1071.7,515.4 L1073.1,515.5 L1074.5,515.5 L1075.8,515.5 L1077.2,515.5 L1078.6,515.5 L1079.9,515.5 L1081.3,515.5 L1082.7,515.5 L1084.1,515.5 L1085.4,515.5 L1086.8,515.5 L1088.2,515.5 L1089.5,515.5 L1090.9,515.5 L1092.3,515.5 L1093.6,515.5 L1095.0,515.5 L1096.4,515.5 L1097.7,515.5 L1099.1,515.5 L1100.5,515.5 L1101.8,515.5 L1103.2,515.5 L1104.6,515.5 L1105.9,515.5 L1107.3,515.5 L1108.7,515.5 L1110.0,515.5 L1111.4,515.5 L1112.8,515.5 L1114.1,515.5 L1115.5,515.5 L1116.9,515.5 L1118.2,515.5 L1119.6,515.5 L1121.0,515.5 L1122.4,515.5 L1123.7,515.5 L1125.1,515.5 L1126.5,515.5 L1127.8,515.5 L1129.2,515.5 L1130.6,515.5 L1131.9,515.5 L1133.3,515.5 L1134.7,515.5 L1136.0,515.5 L1137.4,515.5 L1138.8,515.5 L1140.1,515.5 L1141.5,515.5 L1142.9,515.5 L1144.2,515.5 L1145.6,515.5 L1147.0,515.5 L1148.3,515.5 L1149.7,515.5 L1151.1,515.5 L1152.4,515.5 L1153.8,515.5 L1155.2,515.5 L1156.5,515.5 L1157.9,515.5 L1159.3,515.5 L1160.7,515.5 L1162.0,515.5 L1163.4,515.5 L1164.8,515.5 L1166.1,515.5 L1167.5,515.5 L1168.9,515.5 L1170.2,515.5 L1171.6,515.5 L1173.0,515.5 L1174.3,515.5 L1175.7,515.5 L1177.1,515.5 L1178.4,515.5 L1179.8,515.5 L1181.2,515.5 L1182.5,515.5 L1183.9,515.5 L1185.3,515.5 L1186.6,515.5 L1188.0,515.5 L1189.4,515.5 L1190.7,515.5 L1192.1,515.5 L1193.5,515.5 L1194.8,515.5 L1196.2,515.5 L1197.6,515.5 L1199.0,515.5 L1200.3,515.5 L1201.7,515.5 L1203.1,515.5 L1204.4,515.5 L1205.8,515.5 L1207.2,515.5 L1208.5,515.5 L1209.9,515.5 L1211.3,515.5 L1212.6,515.5 L1214.0,515.5" fill="none" stroke="#e8a838" stroke-width="4.4" stroke-linecap="square" stroke-linejoin="round" clip-path="url(#c3)"/>
<path d="M805.0,90.7 L806.4,90.7 L807.7,90.7 L809.1,90.7 L810.5,90.7 L811.8,90.7 L813.2,90.7 L814.6,90.7 L815.9,90.7 L817.3,90.7 L818.7,90.7 L820.0,90.8 L821.4,90.8 L822.8,90.8 L824.2,90.8 L825.5,90.8 L826.9,90.8 L828.3,90.8 L829.6,90.8 L831.0,90.9 L832.4,90.9 L833.7,90.9 L835.1,90.9 L836.5,90.9 L837.8,90.9 L839.2,91.0 L840.6,91.0 L841.9,91.0 L843.3,91.0 L844.7,91.0 L846.0,91.1 L847.4,91.1 L848.8,91.1 L850.1,91.2 L851.5,91.2 L852.9,91.3 L854.2,91.4 L855.6,91.4 L857.0,91.6 L858.3,91.7 L859.7,91.8 L861.1,91.9 L862.5,92.1 L863.8,92.2 L865.2,92.4 L866.6,92.6 L867.9,92.8 L869.3,93.0 L870.7,93.2 L872.0,93.4 L873.4,93.6 L874.8,93.9 L876.1,94.1 L877.5,94.3 L878.9,94.6 L880.2,94.8 L881.6,95.1 L883.0,95.3 L884.3,95.6 L885.7,95.9 L887.1,96.2 L888.4,96.5 L889.8,96.8 L891.2,97.1 L892.5,97.5 L893.9,98.0 L895.3,98.4 L896.6,98.9 L898.0,99.4 L899.4,99.9 L900.8,100.5 L902.1,101.1 L903.5,101.7 L904.9,102.3 L906.2,102.9 L907.6,103.6 L909.0,104.3 L910.3,105.0 L911.7,105.7 L913.1,106.5 L914.4,107.4 L915.8,108.3 L917.2,109.3 L918.5,110.3 L919.9,111.4 L921.3,112.5 L922.6,113.7 L924.0,115.0 L925.4,116.3 L926.7,117.7 L928.1,119.1 L929.5,120.8 L930.8,122.5 L932.2,124.3 L933.6,126.3 L934.9,128.4 L936.3,130.6 L937.7,132.9 L939.1,135.7 L940.4,138.7 L941.8,142.0 L943.2,145.3 L944.5,148.6 L945.9,151.9 L947.3,155.2 L948.6,158.5 L950.0,161.9 L951.4,165.4 L952.7,169.1 L954.1,172.9 L955.5,176.9 L956.8,181.1 L958.2,185.5 L959.6,190.0 L960.9,194.8 L962.3,200.1 L963.7,206.1 L965.0,212.6 L966.4,219.5 L967.8,226.7 L969.1,234.0 L970.5,241.3 L971.9,248.4 L973.3,255.3 L974.6,262.1 L976.0,269.0 L977.4,275.8 L978.7,282.6 L980.1,289.5 L981.5,296.3 L982.8,303.1 L984.2,310.0 L985.6,316.8 L986.9,323.6 L988.3,330.4 L989.7,337.0 L991.0,343.6 L992.4,350.3 L993.8,357.1 L995.1,364.0 L996.5,371.1 L997.9,378.5 L999.2,386.4 L1000.6,395.0 L1002.0,403.7 L1003.3,412.3 L1004.7,420.4 L1006.1,427.6 L1007.4,434.1 L1008.8,440.3 L1010.2,446.1 L1011.6,451.5 L1012.9,456.6 L1014.3,461.1 L1015.7,465.3 L1017.0,469.4 L1018.4,473.4 L1019.8,477.2 L1021.1,480.8 L1022.5,484.2 L1023.9,487.3 L1025.2,490.2 L1026.6,492.7 L1028.0,494.9 L1029.3,496.7 L1030.7,498.4 L1032.1,500.1 L1033.4,501.7 L1034.8,503.2 L1036.2,504.6 L1037.5,505.9 L1038.9,507.2 L1040.3,508.3 L1041.6,509.4 L1043.0,510.3 L1044.4,511.1 L1045.7,511.9 L1047.1,512.4 L1048.5,512.9 L1049.9,513.3 L1051.2,513.6 L1052.6,514.0 L1054.0,514.3 L1055.3,514.6 L1056.7,514.8 L1058.1,515.1 L1059.4,515.2 L1060.8,515.3 L1062.2,515.4 L1063.5,515.4 L1064.9,515.4 L1066.3,515.4 L1067.6,515.4 L1069.0,515.4 L1070.4,515.4 L1071.7,515.4 L1073.1,515.5 L1074.5,515.5 L1075.8,515.5 L1077.2,515.5 L1078.6,515.5 L1079.9,515.5 L1081.3,515.5 L1082.7,515.5 L1084.1,515.5 L1085.4,515.5 L1086.8,515.5 L1088.2,515.5 L1089.5,515.5 L1090.9,515.5 L1092.3,515.5 L1093.6,515.5 L1095.0,515.5 L1096.4,515.5 L1097.7,515.5 L1099.1,515.5 L1100.5,515.5 L1101.8,515.5 L1103.2,515.5 L1104.6,515.5 L1105.9,515.5 L1107.3,515.5 L1108.7,515.5 L1110.0,515.5 L1111.4,515.5 L1112.8,515.5 L1114.1,515.5 L1115.5,515.5 L1116.9,515.5 L1118.2,515.5 L1119.6,515.5 L1121.0,515.5 L1122.4,515.5 L1123.7,515.5 L1125.1,515.5 L1126.5,515.5 L1127.8,515.5 L1129.2,515.5 L1130.6,515.5 L1131.9,515.5 L1133.3,515.5 L1134.7,515.5 L1136.0,515.5 L1137.4,515.5 L1138.8,515.5 L1140.1,515.5 L1141.5,515.5 L1142.9,515.5 L1144.2,515.5 L1145.6,515.5 L1147.0,515.5 L1148.3,515.5 L1149.7,515.5 L1151.1,515.5 L1152.4,515.5 L1153.8,515.5 L1155.2,515.5 L1156.5,515.5 L1157.9,515.5 L1159.3,515.5 L1160.7,515.5 L1162.0,515.5 L1163.4,515.5 L1164.8,515.5 L1166.1,515.5 L1167.5,515.5 L1168.9,515.5 L1170.2,515.5 L1171.6,515.5 L1173.0,515.5 L1174.3,515.5 L1175.7,515.5 L1177.1,515.5 L1178.4,515.5 L1179.8,515.5 L1181.2,515.5 L1182.5,515.5 L1183.9,515.5 L1185.3,515.5 L1186.6,515.5 L1188.0,515.5 L1189.4,515.5 L1190.7,515.5 L1192.1,515.5 L1193.5,515.5 L1194.8,515.5 L1196.2,515.5 L1197.6,515.5 L1199.0,515.5 L1200.3,515.5 L1201.7,515.5 L1203.1,515.5 L1204.4,515.5 L1205.8,515.5 L1207.2,515.5 L1208.5,515.5 L1209.9,515.5 L1211.3,515.5 L1212.6,515.5 L1214.0,515.5" fill="none" stroke="#262a78" stroke-width="4.4" stroke-dasharray="16,7" stroke-linecap="butt" stroke-linejoin="round" clip-path="url(#c3)"/>
<rect x="805" y="22" width="38.6" height="73.4" fill="none" stroke="#bdbdbd" stroke-width="1"/>
<line x1="805" y1="22" x2="1111" y2="15" stroke="#bdbdbd" stroke-width="1" />
<line x1="805" y1="95.4" x2="1111" y2="233.1" stroke="#bdbdbd" stroke-width="1" />
<rect x="800.6" y="199.6" width="259.9" height="326.5" rx="6" ry="6" fill="#fff" fill-opacity="0.8" stroke="#cccccc" stroke-opacity="0.8" stroke-width="1"/>
<text transform="translate(929.25 234.9) scale(1 1.04)" font-size="30.5" text-anchor="middle" font-family="'DejaVu Sans', sans-serif" ><tspan font-style="italic">V</tspan><tspan font-size="21.35" dy="4.88">cell</tspan><tspan dy="-4.88" dx="8.24">=</tspan><tspan dx="6.1">0.5</tspan><tspan> V</tspan></text>
<line x1="812.8" y1="269.4" x2="873.8" y2="269.4" stroke="#5a2d8c" stroke-width="4.4" stroke-linecap="square"/>
<text transform="translate(898.2 279.7) scale(1 1.06)" font-size="30.5" text-anchor="start" font-family="'DejaVu Sans', sans-serif" ><tspan font-style="italic">δ</tspan>=1</text>
<line x1="812.8" y1="314.76" x2="873.8" y2="314.76" stroke="#8b2a8b" stroke-width="4.4" stroke-linecap="square"/>
<text transform="translate(898.2 325.06) scale(1 1.06)" font-size="30.5" text-anchor="start" font-family="'DejaVu Sans', sans-serif" ><tspan font-style="italic">δ</tspan>=0.5</text>
<line x1="812.8" y1="360.12" x2="873.8" y2="360.12" stroke="#c7447a" stroke-width="4.4" stroke-linecap="square"/>
<text transform="translate(898.2 370.42) scale(1 1.06)" font-size="30.5" text-anchor="start" font-family="'DejaVu Sans', sans-serif" ><tspan font-style="italic">δ</tspan>=0.25</text>
<line x1="812.8" y1="405.48" x2="873.8" y2="405.48" stroke="#d6744f" stroke-width="4.4" stroke-linecap="square"/>
<text transform="translate(898.2 415.78) scale(1 1.06)" font-size="30.5" text-anchor="start" font-family="'DejaVu Sans', sans-serif" ><tspan font-style="italic">δ</tspan>=0.125</text>
<line x1="812.8" y1="450.84" x2="873.8" y2="450.84" stroke="#e8a838" stroke-width="4.4" stroke-linecap="square"/>
<text transform="translate(898.2 461.14) scale(1 1.06)" font-size="30.5" text-anchor="start" font-family="'DejaVu Sans', sans-serif" ><tspan font-style="italic">δ</tspan>=0.0625</text>
<line x1="812.8" y1="496.2" x2="873.8" y2="496.2" stroke="#262a78" stroke-width="4.4" stroke-dasharray="16,7"/>
<text transform="translate(898.2 506.5) scale(1 1.06)" font-size="30.5" text-anchor="start" font-family="'DejaVu Sans', sans-serif" >1D</text>
<rect x="1111" y="13.1" width="110.7" height="220" fill="#fff"/>
<clipPath id="c4"><rect x="1111" y="13.1" width="110.7" height="220"/></clipPath>
<path d="M1115.9,22.9 L1116.8,22.9 L1117.6,22.9 L1118.4,22.9 L1119.3,22.9 L1120.1,22.9 L1121.0,22.9 L1121.8,22.9 L1122.7,22.9 L1123.5,22.9 L1124.4,23.0 L1125.2,23.0 L1126.0,23.0 L1126.9,23.0 L1127.7,23.0 L1128.6,23.0 L1129.4,23.0 L1130.3,23.0 L1131.1,23.1 L1131.9,23.1 L1132.8,23.1 L1133.6,23.1 L1134.5,23.1 L1135.3,23.1 L1136.2,23.1 L1137.0,23.2 L1137.8,23.2 L1138.7,23.2 L1139.5,23.2 L1140.4,23.2 L1141.2,23.2 L1142.1,23.2 L1142.9,23.3 L1143.7,23.3 L1144.6,23.3 L1145.4,23.3 L1146.3,23.3 L1147.1,23.3 L1148.0,23.4 L1148.8,23.4 L1149.6,23.4 L1150.5,23.4 L1151.3,23.4 L1152.2,23.5 L1153.0,23.5 L1153.9,23.5 L1154.7,23.5 L1155.6,23.5 L1156.4,23.5 L1157.2,23.6 L1158.1,23.6 L1158.9,23.6 L1159.8,23.6 L1160.6,23.6 L1161.5,23.7 L1162.3,23.7 L1163.1,23.7 L1164.0,23.7 L1164.8,23.7 L1165.7,23.8 L1166.5,23.8 L1167.4,23.8 L1168.2,23.8 L1169.0,23.8 L1169.9,23.9 L1170.7,23.9 L1171.6,23.9 L1172.4,23.9 L1173.3,24.0 L1174.1,24.0 L1174.9,24.0 L1175.8,24.0 L1176.6,24.1 L1177.5,24.1 L1178.3,24.1 L1179.2,24.1 L1180.0,24.2 L1180.8,24.2 L1181.7,24.2 L1182.5,24.3 L1183.4,24.3 L1184.2,24.3 L1185.1,24.3 L1185.9,24.4 L1186.8,24.4 L1187.6,24.4 L1188.4,24.5 L1189.3,24.5 L1190.1,24.5 L1191.0,24.6 L1191.8,24.6 L1192.7,24.6 L1193.5,24.7 L1194.3,24.7 L1195.2,24.7 L1196.0,24.7 L1196.9,24.8 L1197.7,24.8 L1198.6,24.8 L1199.4,24.9 L1200.2,24.9 L1201.1,25.0 L1201.9,25.0 L1202.8,25.0 L1203.6,25.1 L1204.5,25.1 L1205.3,25.1 L1206.1,25.2 L1207.0,25.2 L1207.8,25.2 L1208.7,25.3 L1209.5,25.3 L1210.4,25.3 L1211.2,25.4 L1212.0,25.4 L1212.9,25.5 L1213.7,25.5 L1214.6,25.5 L1215.4,25.6 L1216.3,25.6" fill="none" stroke="#5a2d8c" stroke-width="4.4" stroke-linecap="square" stroke-linejoin="round" clip-path="url(#c4)"/>
<path d="M1115.9,141.3 L1116.8,141.3 L1117.6,141.3 L1118.4,141.3 L1119.3,141.3 L1120.1,141.3 L1121.0,141.3 L1121.8,141.3 L1122.7,141.4 L1123.5,141.4 L1124.4,141.4 L1125.2,141.4 L1126.0,141.4 L1126.9,141.4 L1127.7,141.4 L1128.6,141.4 L1129.4,141.5 L1130.3,141.5 L1131.1,141.5 L1131.9,141.5 L1132.8,141.5 L1133.6,141.5 L1134.5,141.5 L1135.3,141.6 L1136.2,141.6 L1137.0,141.6 L1137.8,141.6 L1138.7,141.6 L1139.5,141.6 L1140.4,141.7 L1141.2,141.7 L1142.1,141.7 L1142.9,141.7 L1143.7,141.7 L1144.6,141.7 L1145.4,141.8 L1146.3,141.8 L1147.1,141.8 L1148.0,141.8 L1148.8,141.8 L1149.6,141.8 L1150.5,141.9 L1151.3,141.9 L1152.2,141.9 L1153.0,141.9 L1153.9,141.9 L1154.7,142.0 L1155.6,142.0 L1156.4,142.0 L1157.2,142.0 L1158.1,142.0 L1158.9,142.1 L1159.8,142.1 L1160.6,142.1 L1161.5,142.1 L1162.3,142.1 L1163.1,142.1 L1164.0,142.2 L1164.8,142.2 L1165.7,142.2 L1166.5,142.2 L1167.4,142.2 L1168.2,142.3 L1169.0,142.3 L1169.9,142.3 L1170.7,142.3 L1171.6,142.4 L1172.4,142.4 L1173.3,142.4 L1174.1,142.4 L1174.9,142.4 L1175.8,142.5 L1176.6,142.5 L1177.5,142.5 L1178.3,142.5 L1179.2,142.6 L1180.0,142.6 L1180.8,142.6 L1181.7,142.6 L1182.5,142.7 L1183.4,142.7 L1184.2,142.7 L1185.1,142.7 L1185.9,142.8 L1186.8,142.8 L1187.6,142.8 L1188.4,142.8 L1189.3,142.9 L1190.1,142.9 L1191.0,142.9 L1191.8,142.9 L1192.7,143.0 L1193.5,143.0 L1194.3,143.0 L1195.2,143.0 L1196.0,143.1 L1196.9,143.1 L1197.7,143.1 L1198.6,143.2 L1199.4,143.2 L1200.2,143.2 L1201.1,143.2 L1201.9,143.3 L1202.8,143.3 L1203.6,143.3 L1204.5,143.4 L1205.3,143.4 L1206.1,143.4 L1207.0,143.4 L1207.8,143.5 L1208.7,143.5 L1209.5,143.5 L1210.4,143.6 L1211.2,143.6 L1212.0,143.6 L1212.9,143.7 L1213.7,143.7 L1214.6,143.7 L1215.4,143.7 L1216.3,143.8" fill="none" stroke="#8b2a8b" stroke-width="4.4" stroke-linecap="square" stroke-linejoin="round" clip-path="url(#c4)"/>
<path d="M1115.9,195.2 L1116.8,195.2 L1117.6,195.2 L1118.4,195.2 L1119.3,195.3 L1120.1,195.3 L1121.0,195.3 L1121.8,195.3 L1122.7,195.3 L1123.5,195.3 L1124.4,195.3 L1125.2,195.3 L1126.0,195.3 L1126.9,195.4 L1127.7,195.4 L1128.6,195.4 L1129.4,195.4 L1130.3,195.4 L1131.1,195.4 L1131.9,195.4 L1132.8,195.4 L1133.6,195.5 L1134.5,195.5 L1135.3,195.5 L1136.2,195.5 L1137.0,195.5 L1137.8,195.5 L1138.7,195.5 L1139.5,195.5 L1140.4,195.6 L1141.2,195.6 L1142.1,195.6 L1142.9,195.6 L1143.7,195.6 L1144.6,195.6 L1145.4,195.6 L1146.3,195.6 L1147.1,195.7 L1148.0,195.7 L1148.8,195.7 L1149.6,195.7 L1150.5,195.7 L1151.3,195.7 L1152.2,195.7 L1153.0,195.8 L1153.9,195.8 L1154.7,195.8 L1155.6,195.8 L1156.4,195.8 L1157.2,195.8 L1158.1,195.8 L1158.9,195.9 L1159.8,195.9 L1160.6,195.9 L1161.5,195.9 L1162.3,195.9 L1163.1,195.9 L1164.0,196.0 L1164.8,196.0 L1165.7,196.0 L1166.5,196.0 L1167.4,196.0 L1168.2,196.0 L1169.0,196.0 L1169.9,196.1 L1170.7,196.1 L1171.6,196.1 L1172.4,196.1 L1173.3,196.1 L1174.1,196.1 L1174.9,196.2 L1175.8,196.2 L1176.6,196.2 L1177.5,196.2 L1178.3,196.2 L1179.2,196.2 L1180.0,196.3 L1180.8,196.3 L1181.7,196.3 L1182.5,196.3 L1183.4,196.3 L1184.2,196.4 L1185.1,196.4 L1185.9,196.4 L1186.8,196.4 L1187.6,196.4 L1188.4,196.4 L1189.3,196.5 L1190.1,196.5 L1191.0,196.5 L1191.8,196.5 L1192.7,196.5 L1193.5,196.6 L1194.3,196.6 L1195.2,196.6 L1196.0,196.6 L1196.9,196.6 L1197.7,196.7 L1198.6,196.7 L1199.4,196.7 L1200.2,196.7 L1201.1,196.7 L1201.9,196.8 L1202.8,196.8 L1203.6,196.8 L1204.5,196.8 L1205.3,196.8 L1206.1,196.9 L1207.0,196.9 L1207.8,196.9 L1208.7,196.9 L1209.5,196.9 L1210.4,197.0 L1211.2,197.0 L1212.0,197.0 L1212.9,197.0 L1213.7,197.1 L1214.6,197.1 L1215.4,197.1 L1216.3,197.1" fill="none" stroke="#c7447a" stroke-width="4.4" stroke-linecap="square" stroke-linejoin="round" clip-path="url(#c4)"/>
<path d="M1115.9,214.2 L1116.8,214.2 L1117.6,214.2 L1118.4,214.2 L1119.3,214.2 L1120.1,214.2 L1121.0,214.2 L1121.8,214.2 L1122.7,214.2 L1123.5,214.3 L1124.4,214.3 L1125.2,214.3 L1126.0,214.3 L1126.9,214.3 L1127.7,214.3 L1128.6,214.3 L1129.4,214.3 L1130.3,214.3 L1131.1,214.3 L1131.9,214.3 L1132.8,214.3 L1133.6,214.3 L1134.5,214.3 L1135.3,214.3 L1136.2,214.4 L1137.0,214.4 L1137.8,214.4 L1138.7,214.4 L1139.5,214.4 L1140.4,214.4 L1141.2,214.4 L1142.1,214.4 L1142.9,214.4 L1143.7,214.4 L1144.6,214.4 L1145.4,214.4 L1146.3,214.5 L1147.1,214.5 L1148.0,214.5 L1148.8,214.5 L1149.6,214.5 L1150.5,214.5 L1151.3,214.5 L1152.2,214.5 L1153.0,214.5 L1153.9,214.5 L1154.7,214.6 L1155.6,214.6 L1156.4,214.6 L1157.2,214.6 L1158.1,214.6 L1158.9,214.6 L1159.8,214.6 L1160.6,214.6 L1161.5,214.6 L1162.3,214.6 L1163.1,214.7 L1164.0,214.7 L1164.8,214.7 L1165.7,214.7 L1166.5,214.7 L1167.4,214.7 L1168.2,214.7 L1169.0,214.7 L1169.9,214.7 L1170.7,214.8 L1171.6,214.8 L1172.4,214.8 L1173.3,214.8 L1174.1,214.8 L1174.9,214.8 L1175.8,214.8 L1176.6,214.8 L1177.5,214.9 L1178.3,214.9 L1179.2,214.9 L1180.0,214.9 L1180.8,214.9 L1181.7,214.9 L1182.5,214.9 L1183.4,215.0 L1184.2,215.0 L1185.1,215.0 L1185.9,215.0 L1186.8,215.0 L1187.6,215.0 L1188.4,215.0 L1189.3,215.1 L1190.1,215.1 L1191.0,215.1 L1191.8,215.1 L1192.7,215.1 L1193.5,215.1 L1194.3,215.1 L1195.2,215.2 L1196.0,215.2 L1196.9,215.2 L1197.7,215.2 L1198.6,215.2 L1199.4,215.2 L1200.2,215.3 L1201.1,215.3 L1201.9,215.3 L1202.8,215.3 L1203.6,215.3 L1204.5,215.4 L1205.3,215.4 L1206.1,215.4 L1207.0,215.4 L1207.8,215.4 L1208.7,215.4 L1209.5,215.5 L1210.4,215.5 L1211.2,215.5 L1212.0,215.5 L1212.9,215.5 L1213.7,215.6 L1214.6,215.6 L1215.4,215.6 L1216.3,215.6" fill="none" stroke="#d6744f" stroke-width="4.4" stroke-linecap="square" stroke-linejoin="round" clip-path="url(#c4)"/>
<path d="M1115.9,220.0 L1116.8,220.0 L1117.6,220.0 L1118.4,220.0 L1119.3,220.0 L1120.1,220.0 L1121.0,220.0 L1121.8,220.0 L1122.7,220.0 L1123.5,220.0 L1124.4,220.0 L1125.2,220.0 L1126.0,220.1 L1126.9,220.1 L1127.7,220.1 L1128.6,220.1 L1129.4,220.1 L1130.3,220.1 L1131.1,220.1 L1131.9,220.1 L1132.8,220.1 L1133.6,220.1 L1134.5,220.1 L1135.3,220.1 L1136.2,220.1 L1137.0,220.1 L1137.8,220.1 L1138.7,220.2 L1139.5,220.2 L1140.4,220.2 L1141.2,220.2 L1142.1,220.2 L1142.9,220.2 L1143.7,220.2 L1144.6,220.2 L1145.4,220.2 L1146.3,220.2 L1147.1,220.2 L1148.0,220.2 L1148.8,220.2 L1149.6,220.2 L1150.5,220.3 L1151.3,220.3 L1152.2,220.3 L1153.0,220.3 L1153.9,220.3 L1154.7,220.3 L1155.6,220.3 L1156.4,220.3 L1157.2,220.3 L1158.1,220.3 L1158.9,220.3 L1159.8,220.3 L1160.6,220.3 L1161.5,220.4 L1162.3,220.4 L1163.1,220.4 L1164.0,220.4 L1164.8,220.4 L1165.7,220.4 L1166.5,220.4 L1167.4,220.4 L1168.2,220.4 L1169.0,220.4 L1169.9,220.4 L1170.7,220.4 L1171.6,220.4 L1172.4,220.5 L1173.3,220.5 L1174.1,220.5 L1174.9,220.5 L1175.8,220.5 L1176.6,220.5 L1177.5,220.5 L1178.3,220.5 L1179.2,220.5 L1180.0,220.5 L1180.8,220.5 L1181.7,220.5 L1182.5,220.6 L1183.4,220.6 L1184.2,220.6 L1185.1,220.6 L1185.9,220.6 L1186.8,220.6 L1187.6,220.6 L1188.4,220.6 L1189.3,220.6 L1190.1,220.6 L1191.0,220.6 L1191.8,220.7 L1192.7,220.7 L1193.5,220.7 L1194.3,220.7 L1195.2,220.7 L1196.0,220.7 L1196.9,220.7 L1197.7,220.7 L1198.6,220.7 L1199.4,220.7 L1200.2,220.7 L1201.1,220.8 L1201.9,220.8 L1202.8,220.8 L1203.6,220.8 L1204.5,220.8 L1205.3,220.8 L1206.1,220.8 L1207.0,220.8 L1207.8,220.8 L1208.7,220.8 L1209.5,220.9 L1210.4,220.9 L1211.2,220.9 L1212.0,220.9 L1212.9,220.9 L1213.7,220.9 L1214.6,220.9 L1215.4,220.9 L1216.3,220.9" fill="none" stroke="#e8a838" stroke-width="4.4" stroke-linecap="square" stroke-linejoin="round" clip-path="url(#c4)"/>
<path d="M1115.9,222.1 L1116.8,222.1 L1117.6,222.1 L1118.4,222.1 L1119.3,222.1 L1120.1,222.1 L1121.0,222.1 L1121.8,222.1 L1122.7,222.1 L1123.5,222.1 L1124.4,222.1 L1125.2,222.1 L1126.0,222.1 L1126.9,222.1 L1127.7,222.1 L1128.6,222.1 L1129.4,222.1 L1130.3,222.1 L1131.1,222.1 L1131.9,222.1 L1132.8,222.1 L1133.6,222.1 L1134.5,222.2 L1135.3,222.2 L1136.2,222.2 L1137.0,222.2 L1137.8,222.2 L1138.7,222.2 L1139.5,222.2 L1140.4,222.2 L1141.2,222.2 L1142.1,222.2 L1142.9,222.2 L1143.7,222.2 L1144.6,222.2 L1145.4,222.2 L1146.3,222.2 L1147.1,222.2 L1148.0,222.3 L1148.8,222.3 L1149.6,222.3 L1150.5,222.3 L1151.3,222.3 L1152.2,222.3 L1153.0,222.3 L1153.9,222.3 L1154.7,222.3 L1155.6,222.3 L1156.4,222.3 L1157.2,222.3 L1158.1,222.3 L1158.9,222.3 L1159.8,222.4 L1160.6,222.4 L1161.5,222.4 L1162.3,222.4 L1163.1,222.4 L1164.0,222.4 L1164.8,222.4 L1165.7,222.4 L1166.5,222.4 L1167.4,222.4 L1168.2,222.4 L1169.0,222.4 L1169.9,222.5 L1170.7,222.5 L1171.6,222.5 L1172.4,222.5 L1173.3,222.5 L1174.1,222.5 L1174.9,222.5 L1175.8,222.5 L1176.6,222.5 L1177.5,222.5 L1178.3,222.5 L1179.2,222.6 L1180.0,222.6 L1180.8,222.6 L1181.7,222.6 L1182.5,222.6 L1183.4,222.6 L1184.2,222.6 L1185.1,222.6 L1185.9,222.6 L1186.8,222.7 L1187.6,222.7 L1188.4,222.7 L1189.3,222.7 L1190.1,222.7 L1191.0,222.7 L1191.8,222.7 L1192.7,222.7 L1193.5,222.8 L1194.3,222.8 L1195.2,222.8 L1196.0,222.8 L1196.9,222.8 L1197.7,222.8 L1198.6,222.8 L1199.4,222.8 L1200.2,222.9 L1201.1,222.9 L1201.9,222.9 L1202.8,222.9 L1203.6,222.9 L1204.5,222.9 L1205.3,222.9 L1206.1,222.9 L1207.0,223.0 L1207.8,223.0 L1208.7,223.0 L1209.5,223.0 L1210.4,223.0 L1211.2,223.0 L1212.0,223.0 L1212.9,223.1 L1213.7,223.1 L1214.6,223.1 L1215.4,223.1 L1216.3,223.1" fill="none" stroke="#262a78" stroke-width="4.4" stroke-dasharray="16,7" stroke-linecap="butt" stroke-linejoin="round" clip-path="url(#c4)"/>
<rect x="1111" y="13.1" width="110.7" height="220" fill="none" stroke="#222" stroke-width="1"/>
<line x1="1107.5" y1="183.39" x2="1111" y2="183.39" stroke="#222" stroke-width="1" />
<text x="1103" y="190.99" font-size="22" text-anchor="end" font-family="'DejaVu Sans', sans-serif" >2400</text>
<line x1="1107.5" y1="127.36" x2="1111" y2="127.36" stroke="#222" stroke-width="1" />
<text x="1103" y="134.96" font-size="22" text-anchor="end" font-family="'DejaVu Sans', sans-serif" >2500</text>
<line x1="1107.5" y1="71.33" x2="1111" y2="71.33" stroke="#222" stroke-width="1" />
<text x="1103" y="78.93" font-size="22" text-anchor="end" font-family="'DejaVu Sans', sans-serif" >2600</text>
<line x1="1107.5" y1="15.3" x2="1111" y2="15.3" stroke="#222" stroke-width="1" />
<text x="1103" y="22.9" font-size="22" text-anchor="end" font-family="'DejaVu Sans', sans-serif" >2700</text>
<line x1="1139.6" y1="233.1" x2="1139.6" y2="236.6" stroke="#222" stroke-width="1" />
<text x="1139.6" y="257.5" font-size="22" text-anchor="middle" font-family="'DejaVu Sans', sans-serif" >5</text>
<line x1="1169.2" y1="233.1" x2="1169.2" y2="236.6" stroke="#222" stroke-width="1" />
<text x="1169.2" y="257.5" font-size="22" text-anchor="middle" font-family="'DejaVu Sans', sans-serif" >10</text>
<line x1="1198.8" y1="233.1" x2="1198.8" y2="236.6" stroke="#222" stroke-width="1" />
<text x="1198.8" y="257.5" font-size="22" text-anchor="middle" font-family="'DejaVu Sans', sans-serif" >15</text>
<rect x="784.5" y="1" width="449.5" height="540.4" fill="none" stroke="#222" stroke-width="1"/>
<line x1="781" y1="515.4" x2="784.5" y2="515.4" stroke="#222" stroke-width="1" />
<text transform="translate(777.5 527.7) scale(1 1.06)" font-size="30.8" text-anchor="end" font-family="'DejaVu Sans', sans-serif" >0</text>
<line x1="781" y1="424.3" x2="784.5" y2="424.3" stroke="#222" stroke-width="1" />
<text transform="translate(777.5 436.6) scale(1 1.06)" font-size="30.8" text-anchor="end" font-family="'DejaVu Sans', sans-serif" >500</text>
<line x1="781" y1="333.2" x2="784.5" y2="333.2" stroke="#222" stroke-width="1" />
<text transform="translate(777.5 345.5) scale(1 1.06)" font-size="30.8" text-anchor="end" font-family="'DejaVu Sans', sans-serif" >1000</text>
<line x1="781" y1="242.1" x2="784.5" y2="242.1" stroke="#222" stroke-width="1" />
<text transform="translate(777.5 254.4) scale(1 1.06)" font-size="30.8" text-anchor="end" font-family="'DejaVu Sans', sans-serif" >1500</text>
<line x1="781" y1="151" x2="784.5" y2="151" stroke="#222" stroke-width="1" />
<text transform="translate(777.5 163.3) scale(1 1.06)" font-size="30.8" text-anchor="end" font-family="'DejaVu Sans', sans-serif" >2000</text>
<line x1="781" y1="59.9" x2="784.5" y2="59.9" stroke="#222" stroke-width="1" />
<text transform="translate(777.5 72.2) scale(1 1.06)" font-size="30.8" text-anchor="end" font-family="'DejaVu Sans', sans-serif" >2500</text>
<line x1="805" y1="541.4" x2="805" y2="544.9" stroke="#222" stroke-width="1" />
<text transform="translate(805 573) scale(1 1.06)" font-size="30.8" text-anchor="middle" font-family="'DejaVu Sans', sans-serif" >0</text>
<line x1="1009.5" y1="541.4" x2="1009.5" y2="544.9" stroke="#222" stroke-width="1" />
<text transform="translate(1009.5 573) scale(1 1.06)" font-size="30.8" text-anchor="middle" font-family="'DejaVu Sans', sans-serif" >100</text>
<line x1="1214" y1="541.4" x2="1214" y2="544.9" stroke="#222" stroke-width="1" />
<text transform="translate(1214 573) scale(1 1.06)" font-size="30.8" text-anchor="middle" font-family="'DejaVu Sans', sans-serif" >200</text>
<text x="1011.25" y="606.6" font-size="30.5" text-anchor="middle" font-family="'DejaVu Sans', sans-serif" ><tspan font-style="italic">x</tspan> / µm</text>
<text x="0" y="0" font-size="30.5" text-anchor="middle" font-family="'DejaVu Sans', sans-serif" transform="translate(687,271.2) rotate(-90)"><tspan font-style="italic">c</tspan> / mol m<tspan font-size="21.35" dy="-12">−3</tspan></text>
<clipPath id="c5"><rect x="174.5" y="625.7" width="441" height="541.3"/></clipPath>
<path d="M194.0,643.0 L197.6,643.2 L201.3,643.4 L204.9,643.6 L208.6,643.9 L212.2,644.1 L215.8,644.4 L219.5,644.6 L223.1,644.9 L226.7,645.2 L230.4,645.4 L234.0,645.7 L237.6,646.0 L241.3,646.3 L244.9,646.6 L248.5,647.0 L252.1,647.5 L255.7,648.1 L259.3,648.7 L262.9,649.4 L266.5,650.2 L270.0,650.9 L273.6,651.8 L277.1,652.7 L280.6,653.7 L284.1,654.7 L287.6,655.8 L291.0,657.0 L294.4,658.3 L297.8,659.7 L301.1,661.2 L304.3,662.9 L307.5,664.7 L310.6,666.6 L313.7,668.6 L316.8,670.7 L319.8,672.9 L322.6,675.1 L325.3,677.5 L327.6,680.2 L329.9,683.0 L331.9,686.1 L333.9,689.2 L335.9,692.3 L337.9,695.3 L339.9,698.4 L341.9,701.5 L343.7,704.6 L345.4,707.8 L347.0,711.1 L348.4,714.4 L349.8,717.8 L351.0,721.2 L352.3,724.7 L353.5,728.1 L354.8,731.5 L356.1,735.0 L357.3,738.4 L358.6,741.8 L359.8,745.2 L361.0,748.7 L362.1,752.1 L363.2,755.6 L364.3,759.1 L365.3,762.6 L366.4,766.1 L367.5,769.6 L368.6,773.0 L369.7,776.5 L370.8,780.0 L371.9,783.5 L372.9,787.0 L373.8,790.5 L374.7,794.0 L375.5,797.6 L376.3,801.1 L377.0,804.7 L377.8,808.3 L378.6,811.8 L379.3,815.4 L380.0,819.0 L380.7,822.5 L381.4,826.1 L382.1,829.7 L382.8,833.3 L383.5,836.9 L384.1,840.4 L384.8,844.0 L385.5,847.6 L386.2,851.2 L386.9,854.7 L387.7,858.3 L388.5,861.9 L389.4,865.4 L390.2,868.9 L391.1,872.5 L391.9,876.0 L392.8,879.6 L393.7,883.1 L394.6,886.6 L395.4,890.2 L396.3,893.7 L397.1,897.3 L398.0,900.8 L398.9,904.3 L399.7,907.9 L400.6,911.4 L401.5,915.0 L402.3,918.5 L403.2,922.0 L404.0,925.6 L404.9,929.1 L405.7,932.7 L406.6,936.2 L407.4,939.8 L408.2,943.3 L409.0,946.9 L409.8,950.4 L410.6,954.0 L411.4,957.6 L412.2,961.1 L413.1,964.7 L413.9,968.2 L414.8,971.8 L415.6,975.3 L416.5,978.8 L417.4,982.3 L418.4,985.9 L419.3,989.4 L420.3,992.9 L421.2,996.4 L422.2,1000.0 L423.2,1003.5 L424.2,1007.0 L425.2,1010.6 L426.2,1014.1 L427.3,1017.6 L428.4,1021.0 L429.5,1024.5 L430.7,1027.9 L431.9,1031.4 L433.2,1034.7 L434.5,1038.1 L435.9,1041.4 L437.5,1044.7 L439.2,1047.9 L440.9,1051.1 L442.8,1054.3 L444.6,1057.4 L446.4,1060.6 L448.1,1063.9 L449.7,1067.1 L451.2,1070.5 L452.7,1073.8 L454.2,1077.2 L455.8,1080.5 L457.5,1083.6 L459.6,1086.6 L461.9,1089.4 L464.2,1092.2 L466.6,1095.0 L469.0,1097.8 L471.4,1100.5 L473.9,1103.2 L476.4,1105.7 L479.1,1108.3 L481.7,1110.8 L484.4,1113.2 L487.2,1115.6 L490.1,1117.8 L493.0,1120.0 L496.0,1122.1 L499.1,1124.0 L502.3,1125.7 L505.6,1127.3 L508.9,1128.9 L512.3,1130.3 L515.7,1131.7 L519.0,1133.0 L522.5,1134.2 L525.9,1135.4 L529.4,1136.4 L532.9,1137.4 L536.5,1138.3 L540.0,1139.1 L543.6,1139.9 L547.2,1140.6 L550.8,1141.2 L554.4,1141.8 L558.0,1142.4 L561.6,1142.9 L565.2,1143.4 L568.8,1143.9 L572.4,1144.3 L576.0,1144.8 L579.6,1145.2 L583.2,1145.5 L586.9,1145.9 L590.5,1146.2 L594.2,1146.4" fill="none" stroke="#5a2d8c" stroke-width="4.4" stroke-linecap="square" stroke-linejoin="round" clip-path="url(#c5)"/>
<path d="M194.0,643.0 L197.9,643.2 L201.8,643.4 L205.6,643.6 L209.5,643.8 L213.3,644.0 L217.2,644.2 L221.0,644.4 L224.8,644.7 L228.7,644.9 L232.5,645.1 L236.3,645.4 L240.1,645.7 L243.9,646.0 L247.7,646.3 L251.4,646.7 L255.0,647.2 L258.6,647.7 L262.1,648.3 L265.7,649.0 L269.1,649.6 L272.6,650.3 L276.0,651.1 L279.4,651.9 L282.7,652.8 L286.0,653.8 L289.2,654.8 L292.4,655.8 L295.5,657.0 L298.6,658.2 L301.6,659.4 L304.5,660.8 L307.3,662.3 L310.0,664.0 L312.7,665.7 L315.3,667.4 L317.9,669.2 L320.4,671.1 L322.9,673.1 L325.3,675.2 L327.5,677.4 L329.6,679.8 L331.6,682.4 L333.4,685.1 L335.3,687.9 L337.1,690.6 L338.9,693.4 L340.8,696.1 L342.6,698.9 L344.3,701.8 L346.0,704.7 L347.6,707.7 L349.1,710.9 L350.5,714.2 L351.9,717.6 L353.1,721.0 L354.4,724.5 L355.6,728.0 L356.9,731.5 L358.1,735.0 L359.4,738.5 L360.6,742.0 L361.8,745.5 L363.0,749.1 L364.1,752.7 L365.2,756.4 L366.3,760.1 L367.4,763.8 L368.5,767.5 L369.6,771.2 L370.7,774.8 L371.8,778.5 L372.9,782.1 L374.0,785.9 L374.9,789.7 L375.9,793.6 L376.8,797.6 L377.6,801.5 L378.5,805.5 L379.3,809.5 L380.1,813.5 L381.0,817.6 L381.8,821.6 L382.6,825.7 L383.3,829.8 L384.0,833.9 L384.8,838.1 L385.5,842.2 L386.2,846.3 L387.0,850.5 L387.8,854.5 L388.6,858.6 L389.4,862.6 L390.3,866.6 L391.1,870.5 L392.0,874.5 L392.9,878.5 L393.8,882.4 L394.6,886.3 L395.5,890.3 L396.4,894.2 L397.3,898.1 L398.2,902.0 L399.2,905.9 L400.1,909.8 L401.0,913.7 L401.9,917.6 L402.9,921.5 L403.8,925.5 L404.7,929.4 L405.6,933.3 L406.4,937.3 L407.3,941.2 L408.2,945.2 L409.0,949.2 L409.9,953.2 L410.7,957.2 L411.6,961.2 L412.4,965.1 L413.3,969.1 L414.2,973.0 L415.1,976.9 L416.1,980.8 L417.0,984.6 L418.0,988.4 L419.0,992.2 L420.0,996.0 L421.1,999.8 L422.1,1003.6 L423.2,1007.3 L424.2,1011.0 L425.3,1014.7 L426.4,1018.3 L427.6,1022.0 L428.7,1025.6 L429.9,1029.1 L431.1,1032.7 L432.4,1036.2 L433.6,1039.6 L435.0,1043.0 L436.3,1046.4 L437.7,1049.7 L439.2,1052.9 L440.6,1056.1 L442.1,1059.3 L443.6,1062.5 L445.0,1065.8 L446.5,1069.0 L447.9,1072.2 L449.4,1075.5 L450.8,1078.7 L452.3,1081.9 L453.9,1084.9 L455.7,1087.8 L457.6,1090.5 L459.5,1093.1 L461.5,1095.7 L463.5,1098.2 L465.5,1100.8 L467.5,1103.3 L469.6,1105.7 L471.7,1108.0 L474.0,1110.3 L476.3,1112.5 L478.6,1114.6 L481.0,1116.7 L483.4,1118.7 L485.9,1120.6 L488.4,1122.5 L491.0,1124.3 L493.6,1126.0 L496.4,1127.6 L499.4,1128.9 L502.4,1130.2 L505.5,1131.4 L508.6,1132.5 L511.7,1133.6 L514.9,1134.7 L518.1,1135.8 L521.3,1136.8 L524.5,1137.8 L527.8,1138.7 L531.2,1139.5 L534.6,1140.3 L538.0,1141.1 L541.5,1141.8 L545.0,1142.4 L548.5,1143.0 L552.1,1143.6 L555.7,1144.1 L559.4,1144.5 L563.1,1144.9 L566.8,1145.3 L570.5,1145.7 L574.2,1146.1 L578.0,1146.4 L581.8,1146.7 L585.6,1147.0 L589.4,1147.2 L593.3,1147.4" fill="none" stroke="#8b2a8b" stroke-width="4.4" stroke-linecap="square" stroke-linejoin="round" clip-path="url(#c5)"/>
<path d="M194.0,643.0 L197.9,643.1 L201.8,643.3 L205.7,643.4 L209.6,643.6 L213.5,643.7 L217.4,643.9 L221.3,644.1 L225.2,644.2 L229.1,644.4 L232.9,644.6 L236.8,644.9 L240.6,645.1 L244.4,645.4 L248.2,645.7 L251.9,646.0 L255.6,646.4 L259.3,646.8 L262.9,647.3 L266.5,647.9 L270.1,648.5 L273.6,649.1 L277.1,649.8 L280.5,650.5 L283.9,651.3 L287.2,652.2 L290.5,653.2 L293.7,654.2 L296.8,655.3 L300.0,656.4 L303.1,657.5 L306.1,658.8 L308.9,660.3 L311.6,662.1 L314.2,663.8 L316.8,665.6 L319.3,667.4 L321.8,669.4 L324.3,671.3 L326.6,673.4 L328.9,675.7 L331.0,678.1 L333.0,680.6 L334.9,683.3 L336.8,686.0 L338.6,688.7 L340.5,691.4 L342.3,694.2 L344.1,696.9 L345.9,699.7 L347.7,702.6 L349.3,705.6 L350.9,708.7 L352.4,711.9 L353.7,715.2 L355.0,718.7 L356.2,722.2 L357.5,725.7 L358.7,729.2 L359.9,732.8 L361.1,736.3 L362.3,739.9 L363.5,743.4 L364.6,747.0 L365.7,750.7 L366.8,754.4 L367.9,758.1 L368.9,761.9 L369.9,765.7 L371.0,769.4 L372.1,773.1 L373.2,776.8 L374.2,780.5 L375.3,784.3 L376.2,788.1 L377.1,792.0 L378.0,796.0 L378.9,800.0 L379.7,804.0 L380.5,808.0 L381.3,812.0 L382.2,816.0 L383.0,820.1 L383.8,824.2 L384.5,828.3 L385.2,832.5 L385.9,836.7 L386.5,840.9 L387.2,845.1 L387.9,849.3 L388.6,853.5 L389.4,857.6 L390.1,861.7 L390.9,865.8 L391.6,869.9 L392.4,874.0 L393.2,878.0 L394.0,882.1 L394.8,886.1 L395.6,890.2 L396.5,894.2 L397.3,898.1 L398.2,902.1 L399.1,906.0 L400.0,910.0 L400.9,913.9 L401.8,917.8 L402.7,921.8 L403.6,925.7 L404.4,929.7 L405.3,933.6 L406.1,937.6 L407.0,941.7 L407.8,945.7 L408.6,949.7 L409.4,953.8 L410.2,957.8 L411.1,961.8 L411.9,965.8 L412.7,969.8 L413.6,973.8 L414.5,977.7 L415.4,981.6 L416.4,985.5 L417.3,989.3 L418.3,993.1 L419.3,996.9 L420.4,1000.7 L421.4,1004.4 L422.5,1008.1 L423.6,1011.8 L424.7,1015.5 L425.8,1019.1 L426.9,1022.8 L428.1,1026.4 L429.3,1030.0 L430.5,1033.5 L431.7,1037.1 L432.9,1040.6 L434.1,1044.1 L435.4,1047.5 L436.7,1051.0 L438.0,1054.4 L439.3,1057.8 L440.6,1061.2 L442.0,1064.6 L443.3,1068.0 L444.7,1071.3 L446.1,1074.6 L447.5,1077.8 L449.0,1081.0 L450.5,1084.2 L452.1,1087.2 L453.9,1090.0 L455.7,1092.8 L457.6,1095.4 L459.6,1098.1 L461.5,1100.7 L463.4,1103.4 L465.4,1105.9 L467.4,1108.4 L469.6,1110.8 L471.8,1113.1 L474.1,1115.2 L476.4,1117.3 L478.8,1119.4 L481.3,1121.3 L483.8,1123.3 L486.3,1125.1 L488.9,1126.9 L491.6,1128.6 L494.5,1130.0 L497.5,1131.3 L500.6,1132.5 L503.8,1133.5 L507.0,1134.5 L510.2,1135.5 L513.5,1136.5 L516.7,1137.5 L520.0,1138.5 L523.2,1139.4 L526.6,1140.3 L529.9,1141.1 L533.4,1141.8 L536.8,1142.5 L540.3,1143.2 L543.9,1143.8 L547.4,1144.4 L551.0,1144.9 L554.7,1145.3 L558.4,1145.7 L562.2,1146.1 L565.9,1146.4 L569.7,1146.7 L573.4,1147.0 L577.2,1147.3 L581.1,1147.6 L584.9,1147.8 L588.8,1148.0 L592.7,1148.1" fill="none" stroke="#c7447a" stroke-width="4.4" stroke-linecap="square" stroke-linejoin="round" clip-path="url(#c5)"/>
<path d="M194.0,643.0 L198.0,643.1 L201.9,643.2 L205.9,643.2 L209.8,643.3 L213.7,643.5 L217.7,643.6 L221.6,643.7 L225.5,643.8 L229.4,644.0 L233.3,644.1 L237.2,644.3 L241.1,644.5 L244.9,644.7 L248.7,645.0 L252.5,645.3 L256.3,645.6 L260.0,645.9 L263.7,646.3 L267.4,646.8 L271.0,647.3 L274.6,647.8 L278.1,648.4 L281.6,649.1 L285.0,649.9 L288.4,650.7 L291.7,651.6 L295.0,652.5 L298.2,653.6 L301.4,654.6 L304.6,655.6 L307.7,656.8 L310.5,658.4 L313.1,660.1 L315.7,661.9 L318.2,663.8 L320.8,665.7 L323.2,667.6 L325.7,669.6 L328.0,671.7 L330.3,673.9 L332.4,676.3 L334.4,678.8 L336.4,681.4 L338.3,684.1 L340.2,686.8 L342.0,689.5 L343.9,692.2 L345.7,694.9 L347.6,697.7 L349.3,700.5 L351.1,703.4 L352.7,706.4 L354.2,709.6 L355.6,712.9 L356.9,716.3 L358.1,719.8 L359.3,723.4 L360.5,727.0 L361.6,730.6 L362.8,734.1 L364.0,737.7 L365.2,741.3 L366.3,745.0 L367.4,748.7 L368.4,752.4 L369.4,756.2 L370.4,760.0 L371.4,763.8 L372.4,767.6 L373.5,771.4 L374.5,775.1 L375.5,778.9 L376.5,782.7 L377.5,786.5 L378.4,790.4 L379.3,794.4 L380.1,798.4 L380.9,802.4 L381.7,806.5 L382.5,810.5 L383.4,814.5 L384.2,818.5 L385.0,822.6 L385.7,826.8 L386.3,831.0 L387.0,835.3 L387.6,839.6 L388.2,843.9 L388.8,848.1 L389.5,852.4 L390.1,856.6 L390.8,860.8 L391.5,865.0 L392.1,869.3 L392.8,873.5 L393.5,877.6 L394.2,881.8 L395.0,885.9 L395.7,890.0 L396.5,894.1 L397.3,898.1 L398.2,902.1 L399.0,906.1 L399.9,910.1 L400.8,914.0 L401.7,918.0 L402.5,921.9 L403.4,925.9 L404.2,929.9 L405.1,933.9 L405.9,938.0 L406.7,942.0 L407.5,946.1 L408.3,950.2 L409.0,954.2 L409.8,958.3 L410.6,962.3 L411.5,966.4 L412.3,970.4 L413.1,974.4 L414.0,978.3 L414.9,982.2 L415.9,986.1 L416.8,989.9 L417.8,993.8 L418.9,997.5 L419.9,1001.3 L420.9,1005.0 L422.0,1008.7 L423.1,1012.4 L424.2,1016.0 L425.4,1019.7 L426.5,1023.3 L427.7,1026.9 L428.9,1030.5 L430.1,1034.0 L431.2,1037.6 L432.4,1041.1 L433.7,1044.7 L434.9,1048.2 L436.1,1051.7 L437.3,1055.2 L438.6,1058.7 L439.9,1062.2 L441.2,1065.6 L442.5,1069.0 L443.8,1072.4 L445.2,1075.7 L446.6,1078.9 L448.1,1082.1 L449.6,1085.3 L451.3,1088.3 L453.0,1091.1 L454.9,1093.9 L456.7,1096.6 L458.6,1099.3 L460.5,1102.0 L462.4,1104.6 L464.4,1107.2 L466.4,1109.7 L468.5,1112.1 L470.7,1114.4 L473.0,1116.6 L475.4,1118.7 L477.8,1120.7 L480.3,1122.6 L482.8,1124.5 L485.3,1126.4 L487.9,1128.2 L490.6,1129.8 L493.5,1131.2 L496.6,1132.5 L499.7,1133.6 L502.9,1134.6 L506.2,1135.5 L509.5,1136.4 L512.8,1137.4 L516.0,1138.3 L519.3,1139.3 L522.6,1140.2 L526.0,1141.0 L529.4,1141.8 L532.8,1142.5 L536.3,1143.2 L539.8,1143.8 L543.3,1144.5 L546.9,1145.0 L550.5,1145.5 L554.2,1145.9 L558.0,1146.3 L561.7,1146.6 L565.5,1146.9 L569.3,1147.2 L573.1,1147.5 L576.9,1147.8 L580.7,1148.0 L584.6,1148.2 L588.5,1148.3 L592.4,1148.4" fill="none" stroke="#d6744f" stroke-width="4.4" stroke-linecap="square" stroke-linejoin="round" clip-path="url(#c5)"/>
<path d="M194.0,643.0 L198.0,643.0 L202.0,643.1 L206.0,643.1 L209.9,643.2 L213.9,643.2 L217.9,643.3 L221.8,643.4 L225.8,643.5 L229.7,643.6 L233.7,643.7 L237.6,643.9 L241.4,644.0 L245.3,644.2 L249.1,644.5 L253.0,644.7 L256.8,644.9 L260.6,645.2 L264.4,645.6 L268.1,645.9 L271.8,646.3 L275.4,646.8 L279.0,647.4 L282.5,648.0 L286.0,648.7 L289.4,649.4 L292.8,650.3 L296.0,651.2 L299.3,652.2 L302.6,653.1 L305.8,654.1 L308.9,655.3 L311.7,656.8 L314.3,658.6 L316.9,660.4 L319.4,662.3 L321.9,664.2 L324.4,666.2 L326.8,668.2 L329.1,670.3 L331.3,672.6 L333.5,674.9 L335.6,677.4 L337.6,679.9 L339.5,682.5 L341.4,685.2 L343.3,687.9 L345.1,690.6 L347.0,693.3 L348.9,696.1 L350.7,698.8 L352.4,701.7 L354.1,704.6 L355.7,707.7 L357.1,711.0 L358.4,714.4 L359.6,718.0 L360.8,721.6 L361.9,725.2 L363.0,728.8 L364.2,732.4 L365.3,736.0 L366.5,739.7 L367.6,743.3 L368.7,747.0 L369.7,750.8 L370.7,754.6 L371.7,758.4 L372.6,762.3 L373.6,766.2 L374.6,770.0 L375.6,773.8 L376.6,777.6 L377.6,781.4 L378.5,785.2 L379.4,789.1 L380.3,793.1 L381.1,797.2 L381.9,801.2 L382.7,805.3 L383.5,809.3 L384.3,813.3 L385.2,817.3 L385.9,821.4 L386.6,825.6 L387.3,829.9 L387.9,834.2 L388.4,838.5 L389.0,842.9 L389.6,847.2 L390.1,851.5 L390.7,855.8 L391.4,860.1 L392.0,864.4 L392.6,868.7 L393.2,873.0 L393.8,877.3 L394.4,881.6 L395.1,885.8 L395.8,890.0 L396.5,894.1 L397.3,898.1 L398.1,902.2 L399.0,906.2 L399.8,910.2 L400.7,914.1 L401.6,918.1 L402.4,922.1 L403.3,926.1 L404.1,930.1 L404.9,934.1 L405.7,938.2 L406.5,942.3 L407.2,946.4 L408.0,950.5 L408.8,954.6 L409.6,958.6 L410.3,962.7 L411.1,966.8 L412.0,970.8 L412.8,974.8 L413.7,978.7 L414.6,982.7 L415.5,986.5 L416.5,990.4 L417.5,994.2 L418.5,998.0 L419.6,1001.7 L420.6,1005.4 L421.7,1009.1 L422.8,1012.8 L424.0,1016.4 L425.1,1020.0 L426.3,1023.6 L427.4,1027.2 L428.6,1030.8 L429.8,1034.3 L431.0,1037.9 L432.2,1041.5 L433.4,1045.0 L434.6,1048.6 L435.8,1052.1 L437.0,1055.6 L438.2,1059.2 L439.5,1062.6 L440.8,1066.1 L442.1,1069.5 L443.4,1072.9 L444.8,1076.2 L446.2,1079.5 L447.7,1082.7 L449.2,1085.8 L450.9,1088.8 L452.6,1091.6 L454.5,1094.4 L456.3,1097.1 L458.2,1099.8 L460.1,1102.5 L461.9,1105.2 L463.9,1107.8 L465.9,1110.3 L468.0,1112.8 L470.2,1115.0 L472.5,1117.2 L474.9,1119.3 L477.3,1121.3 L479.8,1123.2 L482.3,1125.1 L484.8,1127.0 L487.4,1128.8 L490.2,1130.4 L493.1,1131.8 L496.1,1133.0 L499.3,1134.1 L502.6,1135.0 L505.9,1136.0 L509.2,1136.9 L512.4,1137.8 L515.7,1138.7 L519.0,1139.6 L522.3,1140.5 L525.7,1141.4 L529.1,1142.1 L532.5,1142.9 L536.0,1143.5 L539.5,1144.2 L543.1,1144.8 L546.7,1145.3 L550.3,1145.8 L554.0,1146.2 L557.7,1146.6 L561.5,1146.9 L565.3,1147.2 L569.1,1147.5 L572.9,1147.7 L576.7,1148.0 L580.6,1148.2 L584.5,1148.4 L588.4,1148.5 L592.3,1148.6" fill="none" stroke="#e8a838" stroke-width="4.4" stroke-linecap="square" stroke-linejoin="round" clip-path="url(#c5)"/>
<path d="M194.0,643.0 L197.8,643.0 L201.5,643.0 L205.3,643.0 L209.0,643.1 L212.8,643.1 L216.5,643.2 L220.3,643.2 L224.0,643.3 L227.8,643.4 L231.5,643.4 L235.3,643.5 L239.0,643.7 L242.8,643.9 L246.5,644.0 L250.3,644.2 L254.0,644.4 L257.8,644.7 L261.5,644.9 L265.3,645.2 L269.0,645.5 L272.7,645.9 L276.4,646.4 L280.2,647.0 L283.9,647.6 L287.5,648.3 L291.2,649.1 L294.8,650.1 L298.4,651.1 L302.1,652.1 L305.7,653.1 L309.2,654.3 L312.5,656.1 L315.6,658.3 L318.6,660.5 L321.6,662.8 L324.6,665.2 L327.4,667.6 L330.2,670.2 L332.8,672.8 L335.3,675.6 L337.6,678.5 L339.9,681.5 L342.1,684.6 L344.3,687.7 L346.4,690.8 L348.6,693.9 L350.7,697.0 L352.7,700.2 L354.6,703.4 L356.3,706.7 L357.8,710.1 L359.2,713.6 L360.4,717.1 L361.5,720.7 L362.6,724.3 L363.7,728.0 L364.9,731.5 L366.0,735.1 L367.1,738.7 L368.2,742.3 L369.2,745.9 L370.2,749.5 L371.2,753.1 L372.1,756.8 L372.9,760.4 L373.8,764.1 L374.7,767.7 L375.6,771.4 L376.6,775.0 L377.5,778.6 L378.5,782.3 L379.4,785.9 L380.2,789.6 L380.9,793.2 L381.7,796.9 L382.4,800.6 L383.1,804.3 L383.8,808.0 L384.6,811.7 L385.4,815.3 L386.1,819.0 L386.7,822.7 L387.3,826.4 L387.8,830.1 L388.3,833.8 L388.8,837.6 L389.3,841.3 L389.7,845.0 L390.2,848.7 L390.7,852.5 L391.2,856.2 L391.7,859.9 L392.1,863.6 L392.6,867.4 L393.1,871.1 L393.6,874.8 L394.1,878.5 L394.6,882.2 L395.2,885.9 L395.8,889.6 L396.4,893.3 L397.1,897.0 L397.8,900.7 L398.6,904.4 L399.3,908.1 L400.1,911.7 L400.9,915.4 L401.7,919.1 L402.5,922.7 L403.3,926.4 L404.0,930.1 L404.7,933.8 L405.4,937.5 L406.1,941.2 L406.8,944.9 L407.5,948.5 L408.2,952.2 L408.9,955.9 L409.6,959.6 L410.3,963.3 L411.0,967.0 L411.7,970.7 L412.5,974.3 L413.3,978.0 L414.1,981.7 L415.0,985.3 L415.9,988.9 L416.8,992.6 L417.8,996.2 L418.8,999.8 L419.8,1003.4 L420.9,1007.0 L422.0,1010.6 L423.1,1014.2 L424.2,1017.8 L425.4,1021.4 L426.5,1024.9 L427.7,1028.5 L428.9,1032.1 L430.1,1035.6 L431.3,1039.2 L432.5,1042.7 L433.6,1046.3 L434.8,1049.9 L436.0,1053.5 L437.3,1057.0 L438.5,1060.6 L439.8,1064.2 L441.1,1067.7 L442.5,1071.2 L443.9,1074.7 L445.3,1078.1 L446.9,1081.5 L448.5,1084.8 L450.2,1088.1 L452.1,1091.3 L454.2,1094.5 L456.3,1097.6 L458.5,1100.7 L460.6,1103.8 L462.8,1106.9 L465.1,1109.9 L467.5,1112.7 L470.1,1115.4 L472.8,1118.0 L475.7,1120.4 L478.6,1122.8 L481.6,1125.1 L484.7,1127.3 L487.8,1129.4 L491.1,1131.2 L494.4,1132.7 L498.0,1133.9 L501.6,1135.0 L505.2,1136.0 L508.9,1137.0 L512.5,1138.0 L516.1,1139.0 L519.7,1140.0 L523.4,1141.0 L527.0,1141.9 L530.7,1142.7 L534.4,1143.4 L538.1,1144.1 L541.8,1144.7 L545.5,1145.3 L549.2,1145.8 L552.9,1146.3 L556.7,1146.6 L560.4,1146.9 L564.1,1147.2 L567.8,1147.5 L571.6,1147.8 L575.3,1148.0 L579.1,1148.2 L582.8,1148.4 L586.6,1148.5 L590.4,1148.6 L594.1,1148.7" fill="none" stroke="#262a78" stroke-width="4.4" stroke-dasharray="16,7" stroke-linecap="butt" stroke-linejoin="round" clip-path="url(#c5)"/>
<rect x="454.6" y="1078.2" width="39.7" height="57.6" fill="none" stroke="#bdbdbd" stroke-width="1"/>
<line x1="454.6" y1="1135.8" x2="493.6" y2="857" stroke="#bdbdbd" stroke-width="1" />
<line x1="494.3" y1="1135.8" x2="603.3" y2="857" stroke="#bdbdbd" stroke-width="1" />
<rect x="190" y="825.2" width="258.4" height="326.5" rx="6" ry="6" fill="#fff" fill-opacity="0.8" stroke="#cccccc" stroke-opacity="0.8" stroke-width="1"/>
<text transform="translate(317.9 860.5) scale(1 1.04)" font-size="30.5" text-anchor="middle" font-family="'DejaVu Sans', sans-serif" ><tspan font-style="italic">V</tspan><tspan font-size="21.35" dy="4.88">cell</tspan><tspan dy="-4.88" dx="8.24">=</tspan><tspan dx="6.1">0.1</tspan><tspan> V</tspan></text>
<line x1="202.2" y1="895.8" x2="263.2" y2="895.8" stroke="#5a2d8c" stroke-width="4.4" stroke-linecap="square"/>
<text transform="translate(287.6 906.1) scale(1 1.06)" font-size="30.5" text-anchor="start" font-family="'DejaVu Sans', sans-serif" ><tspan font-style="italic">δ</tspan>=1</text>
<line x1="202.2" y1="941.16" x2="263.2" y2="941.16" stroke="#8b2a8b" stroke-width="4.4" stroke-linecap="square"/>
<text transform="translate(287.6 951.46) scale(1 1.06)" font-size="30.5" text-anchor="start" font-family="'DejaVu Sans', sans-serif" ><tspan font-style="italic">δ</tspan>=0.5</text>
<line x1="202.2" y1="986.52" x2="263.2" y2="986.52" stroke="#c7447a" stroke-width="4.4" stroke-linecap="square"/>
<text transform="translate(287.6 996.82) scale(1 1.06)" font-size="30.5" text-anchor="start" font-family="'DejaVu Sans', sans-serif" ><tspan font-style="italic">δ</tspan>=0.25</text>
<line x1="202.2" y1="1031.88" x2="263.2" y2="1031.88" stroke="#d6744f" stroke-width="4.4" stroke-linecap="square"/>
<text transform="translate(287.6 1042.18) scale(1 1.06)" font-size="30.5" text-anchor="start" font-family="'DejaVu Sans', sans-serif" ><tspan font-style="italic">δ</tspan>=0.125</text>
<line x1="202.2" y1="1077.24" x2="263.2" y2="1077.24" stroke="#e8a838" stroke-width="4.4" stroke-linecap="square"/>
<text transform="translate(287.6 1087.54) scale(1 1.06)" font-size="30.5" text-anchor="start" font-family="'DejaVu Sans', sans-serif" ><tspan font-style="italic">δ</tspan>=0.0625</text>
<line x1="202.2" y1="1122.6" x2="263.2" y2="1122.6" stroke="#262a78" stroke-width="4.4" stroke-dasharray="16,7"/>
<text transform="translate(287.6 1132.9) scale(1 1.06)" font-size="30.5" text-anchor="start" font-family="'DejaVu Sans', sans-serif" >1D</text>
<rect x="493.6" y="637.3" width="109.7" height="219.7" fill="#fff"/>
<clipPath id="c6"><rect x="493.6" y="637.3" width="109.7" height="219.7"/></clipPath>
<path d="M498.4,646.8 L499.3,648.8 L500.1,650.7 L500.9,652.6 L501.8,654.5 L502.6,656.3 L503.5,658.1 L504.3,659.8 L505.2,661.4 L506.0,663.0 L506.9,664.5 L507.7,665.8 L508.6,667.1 L509.4,668.5 L510.3,670.0 L511.1,671.6 L512.0,673.6 L512.8,675.9 L513.7,678.4 L514.5,681.1 L515.3,683.8 L516.2,686.6 L517.0,689.3 L517.9,692.0 L518.7,694.4 L519.6,696.7 L520.4,698.6 L521.3,700.3 L522.1,702.0 L523.0,703.5 L523.8,705.0 L524.7,706.4 L525.5,707.8 L526.4,709.1 L527.2,710.4 L528.1,711.7 L528.9,712.9 L529.7,714.1 L530.6,715.3 L531.4,716.5 L532.3,717.8 L533.1,719.0 L534.0,720.2 L534.8,721.5 L535.7,722.8 L536.5,724.1 L537.4,725.4 L538.2,726.6 L539.1,727.9 L539.9,729.1 L540.8,730.3 L541.6,731.6 L542.4,732.8 L543.3,734.1 L544.1,735.3 L545.0,736.6 L545.8,737.8 L546.7,739.1 L547.5,740.4 L548.4,741.7 L549.2,743.1 L550.1,744.5 L550.9,745.9 L551.8,747.4 L552.6,748.8 L553.5,750.2 L554.3,751.6 L555.2,753.0 L556.0,754.3 L556.8,755.6 L557.7,756.8 L558.5,757.9 L559.4,759.0 L560.2,760.0 L561.1,761.1 L561.9,762.1 L562.8,763.0 L563.6,764.0 L564.5,764.9 L565.3,765.9 L566.2,766.8 L567.0,767.7 L567.9,768.5 L568.7,769.4 L569.6,770.3 L570.4,771.1 L571.2,772.0 L572.1,772.8 L572.9,773.7 L573.8,774.6 L574.6,775.4 L575.5,776.3 L576.3,777.2 L577.2,778.1 L578.0,779.0 L578.9,779.9 L579.7,780.9 L580.6,781.8 L581.4,782.8 L582.3,783.7 L583.1,784.7 L583.9,785.7 L584.8,786.6 L585.6,787.6 L586.5,788.6 L587.3,789.5 L588.2,790.5 L589.0,791.5 L589.9,792.4 L590.7,793.4 L591.6,794.4 L592.4,795.4 L593.3,796.4 L594.1,797.4 L595.0,798.3 L595.8,799.3 L596.7,800.3 L597.5,801.3 L598.3,802.3 L599.2,803.3" fill="none" stroke="#5a2d8c" stroke-width="4.4" stroke-linecap="square" stroke-linejoin="round" clip-path="url(#c6)"/>
<path d="M498.4,662.5 L499.2,664.4 L500.1,666.2 L500.9,668.1 L501.8,670.0 L502.6,671.9 L503.4,673.8 L504.3,675.7 L505.1,677.5 L505.9,679.4 L506.8,681.4 L507.6,683.3 L508.5,685.2 L509.3,687.1 L510.1,689.1 L511.0,691.1 L511.8,693.1 L512.6,695.1 L513.5,697.1 L514.3,699.1 L515.2,701.1 L516.0,703.1 L516.8,705.1 L517.7,707.1 L518.5,709.0 L519.3,710.9 L520.2,712.8 L521.0,714.7 L521.9,716.5 L522.7,718.3 L523.5,720.0 L524.4,721.7 L525.2,723.4 L526.0,725.0 L526.9,726.7 L527.7,728.3 L528.6,729.9 L529.4,731.5 L530.2,733.1 L531.1,734.6 L531.9,736.2 L532.7,737.7 L533.6,739.2 L534.4,740.7 L535.3,742.2 L536.1,743.6 L536.9,745.1 L537.8,746.5 L538.6,748.0 L539.5,749.4 L540.3,750.8 L541.1,752.2 L542.0,753.6 L542.8,755.0 L543.6,756.4 L544.5,757.7 L545.3,759.1 L546.2,760.4 L547.0,761.8 L547.8,763.1 L548.7,764.4 L549.5,765.7 L550.3,767.0 L551.2,768.3 L552.0,769.6 L552.9,770.9 L553.7,772.1 L554.5,773.4 L555.4,774.7 L556.2,775.9 L557.0,777.2 L557.9,778.4 L558.7,779.7 L559.6,780.9 L560.4,782.1 L561.2,783.3 L562.1,784.5 L562.9,785.7 L563.7,786.9 L564.6,788.1 L565.4,789.3 L566.3,790.5 L567.1,791.6 L567.9,792.8 L568.8,793.9 L569.6,795.1 L570.4,796.2 L571.3,797.4 L572.1,798.5 L573.0,799.7 L573.8,800.8 L574.6,801.9 L575.5,803.1 L576.3,804.2 L577.1,805.3 L578.0,806.4 L578.8,807.6 L579.7,808.7 L580.5,809.7 L581.3,810.7 L582.2,811.6 L583.0,812.5 L583.8,813.3 L584.7,814.1 L585.5,815.0 L586.4,815.8 L587.2,816.7 L588.0,817.7 L588.9,818.8 L589.7,819.9 L590.5,821.2 L591.4,822.6 L592.2,824.1 L593.1,825.8 L593.9,827.7 L594.7,830.5 L595.6,834.3 L596.4,838.6 L597.2,843.3 L598.1,848.0" fill="none" stroke="#8b2a8b" stroke-width="4.4" stroke-linecap="square" stroke-linejoin="round" clip-path="url(#c6)"/>
<path d="M498.4,698.1 L499.2,699.7 L500.1,701.2 L500.9,702.8 L501.8,704.4 L502.6,705.9 L503.4,707.5 L504.3,709.2 L505.1,710.8 L505.9,712.4 L506.8,714.1 L507.6,715.7 L508.5,717.4 L509.3,719.1 L510.1,720.8 L511.0,722.5 L511.8,724.3 L512.6,726.1 L513.5,728.0 L514.3,729.9 L515.2,731.8 L516.0,733.7 L516.8,735.6 L517.7,737.5 L518.5,739.3 L519.3,741.1 L520.2,742.8 L521.0,744.5 L521.9,746.0 L522.7,747.5 L523.5,749.0 L524.4,750.4 L525.2,751.7 L526.0,753.0 L526.9,754.3 L527.7,755.6 L528.6,756.8 L529.4,758.1 L530.2,759.3 L531.1,760.4 L531.9,761.6 L532.7,762.7 L533.6,763.9 L534.4,765.0 L535.3,766.1 L536.1,767.2 L536.9,768.3 L537.8,769.4 L538.6,770.5 L539.5,771.6 L540.3,772.6 L541.1,773.7 L542.0,774.7 L542.8,775.7 L543.6,776.7 L544.5,777.7 L545.3,778.7 L546.2,779.7 L547.0,780.7 L547.8,781.6 L548.7,782.6 L549.5,783.6 L550.3,784.5 L551.2,785.5 L552.0,786.4 L552.9,787.4 L553.7,788.4 L554.5,789.3 L555.4,790.3 L556.2,791.3 L557.0,792.3 L557.9,793.3 L558.7,794.3 L559.6,795.3 L560.4,796.3 L561.2,797.3 L562.1,798.3 L562.9,799.3 L563.7,800.3 L564.6,801.3 L565.4,802.3 L566.3,803.3 L567.1,804.3 L567.9,805.3 L568.8,806.3 L569.6,807.3 L570.4,808.3 L571.3,809.3 L572.1,810.3 L573.0,811.3 L573.8,812.3 L574.6,813.3 L575.5,814.3 L576.3,815.3 L577.1,816.2 L578.0,817.2 L578.8,818.2 L579.7,819.2 L580.5,820.1 L581.3,821.1 L582.2,822.0 L583.0,823.0 L583.8,823.9 L584.7,824.9 L585.5,825.8 L586.4,826.8 L587.2,827.7 L588.0,828.7 L588.9,829.6 L589.7,830.5 L590.5,831.5 L591.4,832.4 L592.2,833.3 L593.1,834.2 L593.9,835.2 L594.7,836.1 L595.6,837.0 L596.4,837.9 L597.2,838.8 L598.1,839.7" fill="none" stroke="#c7447a" stroke-width="4.4" stroke-linecap="square" stroke-linejoin="round" clip-path="url(#c6)"/>
<path d="M498.4,706.1 L499.2,708.2 L500.1,710.2 L500.9,712.2 L501.8,714.3 L502.6,716.3 L503.4,718.3 L504.3,720.3 L505.1,722.2 L505.9,724.2 L506.8,726.2 L507.6,728.1 L508.5,730.2 L509.3,732.2 L510.1,734.2 L511.0,736.2 L511.8,738.2 L512.6,740.1 L513.5,742.1 L514.3,743.9 L515.2,745.8 L516.0,747.6 L516.8,749.3 L517.7,750.9 L518.5,752.5 L519.3,754.0 L520.2,755.5 L521.0,757.0 L521.9,758.4 L522.7,759.8 L523.5,761.2 L524.4,762.5 L525.2,763.9 L526.0,765.2 L526.9,766.4 L527.7,767.7 L528.6,768.9 L529.4,770.1 L530.2,771.3 L531.1,772.5 L531.9,773.7 L532.7,774.8 L533.6,775.9 L534.4,777.0 L535.3,778.1 L536.1,779.2 L536.9,780.2 L537.8,781.3 L538.6,782.3 L539.5,783.3 L540.3,784.3 L541.1,785.3 L542.0,786.2 L542.8,787.2 L543.6,788.2 L544.5,789.1 L545.3,790.0 L546.2,790.9 L547.0,791.9 L547.8,792.8 L548.7,793.7 L549.5,794.5 L550.3,795.4 L551.2,796.3 L552.0,797.2 L552.9,798.0 L553.7,798.9 L554.5,799.7 L555.4,800.6 L556.2,801.4 L557.0,802.3 L557.9,803.1 L558.7,803.9 L559.6,804.8 L560.4,805.6 L561.2,806.5 L562.1,807.3 L562.9,808.1 L563.7,808.9 L564.6,809.8 L565.4,810.6 L566.3,811.4 L567.1,812.2 L567.9,813.0 L568.8,813.7 L569.6,814.5 L570.4,815.3 L571.3,816.1 L572.1,816.8 L573.0,817.6 L573.8,818.4 L574.6,819.1 L575.5,819.9 L576.3,820.6 L577.1,821.4 L578.0,822.2 L578.8,822.9 L579.7,823.7 L580.5,824.4 L581.3,825.2 L582.2,826.0 L583.0,826.7 L583.8,827.5 L584.7,828.3 L585.5,829.0 L586.4,829.8 L587.2,830.6 L588.0,831.3 L588.9,832.1 L589.7,832.9 L590.5,833.6 L591.4,834.4 L592.2,835.1 L593.1,835.9 L593.9,836.7 L594.7,837.4 L595.6,838.2 L596.4,838.9 L597.2,839.7 L598.1,840.4" fill="none" stroke="#d6744f" stroke-width="4.4" stroke-linecap="square" stroke-linejoin="round" clip-path="url(#c6)"/>
<path d="M498.4,709.2 L499.2,711.3 L500.1,713.3 L500.9,715.3 L501.8,717.3 L502.6,719.2 L503.4,721.2 L504.3,723.2 L505.1,725.1 L505.9,727.0 L506.8,729.0 L507.6,730.9 L508.5,732.9 L509.3,734.9 L510.1,736.9 L511.0,738.9 L511.8,740.8 L512.6,742.8 L513.5,744.7 L514.3,746.5 L515.2,748.3 L516.0,750.1 L516.8,751.8 L517.7,753.4 L518.5,754.9 L519.3,756.4 L520.2,757.9 L521.0,759.3 L521.9,760.7 L522.7,762.1 L523.5,763.4 L524.4,764.7 L525.2,766.0 L526.0,767.3 L526.9,768.6 L527.7,769.8 L528.6,771.0 L529.4,772.2 L530.2,773.3 L531.1,774.5 L531.9,775.6 L532.7,776.7 L533.6,777.8 L534.4,778.9 L535.3,779.9 L536.1,781.0 L536.9,782.0 L537.8,783.0 L538.6,784.0 L539.5,785.0 L540.3,786.0 L541.1,786.9 L542.0,787.9 L542.8,788.8 L543.6,789.7 L544.5,790.6 L545.3,791.5 L546.2,792.4 L547.0,793.3 L547.8,794.2 L548.7,795.0 L549.5,795.9 L550.3,796.7 L551.2,797.6 L552.0,798.4 L552.9,799.3 L553.7,800.1 L554.5,800.9 L555.4,801.7 L556.2,802.5 L557.0,803.4 L557.9,804.2 L558.7,805.0 L559.6,805.8 L560.4,806.6 L561.2,807.4 L562.1,808.2 L562.9,809.0 L563.7,809.8 L564.6,810.6 L565.4,811.4 L566.3,812.2 L567.1,812.9 L567.9,813.7 L568.8,814.4 L569.6,815.2 L570.4,815.9 L571.3,816.7 L572.1,817.4 L573.0,818.1 L573.8,818.9 L574.6,819.6 L575.5,820.3 L576.3,821.1 L577.1,821.8 L578.0,822.5 L578.8,823.2 L579.7,824.0 L580.5,824.7 L581.3,825.5 L582.2,826.2 L583.0,826.9 L583.8,827.7 L584.7,828.4 L585.5,829.1 L586.4,829.9 L587.2,830.6 L588.0,831.4 L588.9,832.1 L589.7,832.8 L590.5,833.6 L591.4,834.3 L592.2,835.0 L593.1,835.7 L593.9,836.5 L594.7,837.2 L595.6,837.9 L596.4,838.7 L597.2,839.4 L598.1,840.1" fill="none" stroke="#e8a838" stroke-width="4.4" stroke-linecap="square" stroke-linejoin="round" clip-path="url(#c6)"/>
<path d="M498.4,710.8 L499.2,712.8 L500.1,714.8 L500.9,716.8 L501.8,718.8 L502.6,720.8 L503.4,722.7 L504.3,724.7 L505.1,726.6 L505.9,728.6 L506.8,730.5 L507.6,732.5 L508.5,734.5 L509.3,736.4 L510.1,738.4 L511.0,740.4 L511.8,742.4 L512.6,744.3 L513.5,746.2 L514.3,748.0 L515.2,749.8 L516.0,751.6 L516.8,753.3 L517.7,754.9 L518.5,756.4 L519.3,757.9 L520.2,759.4 L521.0,760.8 L521.9,762.2 L522.7,763.6 L523.5,765.0 L524.4,766.3 L525.2,767.6 L526.0,768.8 L526.9,770.1 L527.7,771.3 L528.6,772.5 L529.4,773.7 L530.2,774.9 L531.1,776.0 L531.9,777.1 L532.7,778.2 L533.6,779.3 L534.4,780.4 L535.3,781.5 L536.1,782.5 L536.9,783.5 L537.8,784.5 L538.6,785.5 L539.5,786.5 L540.3,787.5 L541.1,788.4 L542.0,789.4 L542.8,790.3 L543.6,791.2 L544.5,792.2 L545.3,793.1 L546.2,793.9 L547.0,794.8 L547.8,795.7 L548.7,796.6 L549.5,797.4 L550.3,798.3 L551.2,799.1 L552.0,800.0 L552.9,800.8 L553.7,801.6 L554.5,802.4 L555.4,803.3 L556.2,804.1 L557.0,804.9 L557.9,805.7 L558.7,806.5 L559.6,807.3 L560.4,808.1 L561.2,808.9 L562.1,809.7 L562.9,810.5 L563.7,811.3 L564.6,812.1 L565.4,812.9 L566.3,813.7 L567.1,814.5 L567.9,815.2 L568.8,816.0 L569.6,816.7 L570.4,817.5 L571.3,818.2 L572.1,818.9 L573.0,819.7 L573.8,820.4 L574.6,821.1 L575.5,821.9 L576.3,822.6 L577.1,823.3 L578.0,824.1 L578.8,824.8 L579.7,825.5 L580.5,826.2 L581.3,827.0 L582.2,827.7 L583.0,828.5 L583.8,829.2 L584.7,829.9 L585.5,830.7 L586.4,831.4 L587.2,832.2 L588.0,832.9 L588.9,833.6 L589.7,834.4 L590.5,835.1 L591.4,835.8 L592.2,836.5 L593.1,837.3 L593.9,838.0 L594.7,838.7 L595.6,839.5 L596.4,840.2 L597.2,840.9 L598.1,841.6" fill="none" stroke="#262a78" stroke-width="4.4" stroke-dasharray="16,7" stroke-linecap="butt" stroke-linejoin="round" clip-path="url(#c6)"/>
<rect x="493.6" y="637.3" width="109.7" height="219.7" fill="none" stroke="#222" stroke-width="1"/>
<line x1="490.1" y1="669.2" x2="493.6" y2="669.2" stroke="#222" stroke-width="1" />
<text x="485.6" y="677.8" font-size="22" text-anchor="end" font-family="'DejaVu Sans', sans-serif" >−0.0875</text>
<line x1="490.1" y1="717.1" x2="493.6" y2="717.1" stroke="#222" stroke-width="1" />
<text x="485.6" y="725.7" font-size="22" text-anchor="end" font-family="'DejaVu Sans', sans-serif" >−0.0900</text>
<line x1="490.1" y1="765" x2="493.6" y2="765" stroke="#222" stroke-width="1" />
<text x="485.6" y="773.6" font-size="22" text-anchor="end" font-family="'DejaVu Sans', sans-serif" >−0.0925</text>
<line x1="490.1" y1="812.9" x2="493.6" y2="812.9" stroke="#222" stroke-width="1" />
<text x="485.6" y="821.5" font-size="22" text-anchor="end" font-family="'DejaVu Sans', sans-serif" >−0.0950</text>
<line x1="494.3" y1="857" x2="494.3" y2="860.5" stroke="#222" stroke-width="1" />
<text x="494.3" y="881.6" font-size="22" text-anchor="middle" font-family="'DejaVu Sans', sans-serif" >130</text>
<line x1="549.8" y1="857" x2="549.8" y2="860.5" stroke="#222" stroke-width="1" />
<text x="549.8" y="881.6" font-size="22" text-anchor="middle" font-family="'DejaVu Sans', sans-serif" >140</text>
<rect x="174.5" y="625.7" width="441" height="541.3" fill="none" stroke="#222" stroke-width="1"/>
<line x1="171" y1="642.5" x2="174.5" y2="642.5" stroke="#222" stroke-width="1" />
<text transform="translate(167.5 654.8) scale(1 1.06)" font-size="30.8" text-anchor="end" font-family="'DejaVu Sans', sans-serif" >0.00</text>
<line x1="171" y1="744" x2="174.5" y2="744" stroke="#222" stroke-width="1" />
<text transform="translate(167.5 756.3) scale(1 1.06)" font-size="30.8" text-anchor="end" font-family="'DejaVu Sans', sans-serif" >−0.02</text>
<line x1="171" y1="845.5" x2="174.5" y2="845.5" stroke="#222" stroke-width="1" />
<text transform="translate(167.5 857.8) scale(1 1.06)" font-size="30.8" text-anchor="end" font-family="'DejaVu Sans', sans-serif" >−0.04</text>
<line x1="171" y1="947" x2="174.5" y2="947" stroke="#222" stroke-width="1" />
<text transform="translate(167.5 959.3) scale(1 1.06)" font-size="30.8" text-anchor="end" font-family="'DejaVu Sans', sans-serif" >−0.06</text>
<line x1="171" y1="1048.5" x2="174.5" y2="1048.5" stroke="#222" stroke-width="1" />
<text transform="translate(167.5 1060.8) scale(1 1.06)" font-size="30.8" text-anchor="end" font-family="'DejaVu Sans', sans-serif" >−0.08</text>
<line x1="171" y1="1150" x2="174.5" y2="1150" stroke="#222" stroke-width="1" />
<text transform="translate(167.5 1162.3) scale(1 1.06)" font-size="30.8" text-anchor="end" font-family="'DejaVu Sans', sans-serif" >−0.10</text>
<line x1="194" y1="1167" x2="194" y2="1170.5" stroke="#222" stroke-width="1" />
<text transform="translate(194 1198.6) scale(1 1.06)" font-size="30.8" text-anchor="middle" font-family="'DejaVu Sans', sans-serif" >0</text>
<line x1="395" y1="1167" x2="395" y2="1170.5" stroke="#222" stroke-width="1" />
<text transform="translate(395 1198.6) scale(1 1.06)" font-size="30.8" text-anchor="middle" font-family="'DejaVu Sans', sans-serif" >100</text>
<line x1="596" y1="1167" x2="596" y2="1170.5" stroke="#222" stroke-width="1" />
<text transform="translate(596 1198.6) scale(1 1.06)" font-size="30.8" text-anchor="middle" font-family="'DejaVu Sans', sans-serif" >200</text>
<text x="397" y="1232" font-size="30.5" text-anchor="middle" font-family="'DejaVu Sans', sans-serif" ><tspan font-style="italic">x</tspan> / µm</text>
<text x="0" y="0" font-size="30.5" text-anchor="middle" font-family="'DejaVu Sans', sans-serif" transform="translate(66,896.35) rotate(-90)"><tspan font-style="italic">ϕ</tspan> / V</text>
<clipPath id="c7"><rect x="777" y="625.7" width="440.6" height="541.3"/></clipPath>
<path d="M796.5,642.6 L800.3,642.6 L804.1,642.6 L807.9,642.7 L811.7,642.8 L815.5,642.9 L819.3,643.0 L823.0,643.1 L826.8,643.3 L830.6,643.4 L834.4,643.6 L838.1,643.8 L841.9,644.0 L845.7,644.3 L849.4,644.5 L853.2,644.7 L857.0,645.0 L860.7,645.3 L864.5,645.6 L868.2,645.8 L872.0,646.1 L875.7,646.4 L879.5,646.8 L883.2,647.1 L887.0,647.6 L890.8,648.1 L894.5,648.7 L898.2,649.4 L901.8,650.3 L905.4,651.4 L909.0,652.8 L912.5,654.3 L915.9,656.0 L919.2,657.7 L922.5,659.5 L925.8,661.5 L928.9,663.7 L931.9,666.0 L934.7,668.4 L937.5,671.0 L940.1,673.8 L942.6,676.6 L945.0,679.5 L947.4,682.5 L949.6,685.5 L951.6,688.7 L953.5,692.0 L955.5,695.2 L957.5,698.4 L959.6,701.6 L961.7,704.7 L963.8,707.8 L965.7,711.1 L967.3,714.5 L968.8,718.0 L970.4,721.4 L972.1,724.8 L973.8,728.2 L975.4,731.6 L977.0,735.0 L978.7,738.4 L980.3,741.8 L981.7,745.3 L983.0,748.8 L984.2,752.4 L985.4,756.0 L986.4,759.7 L987.3,763.4 L987.9,767.1 L988.5,770.8 L989.0,774.5 L989.5,778.3 L989.8,782.1 L990.2,785.8 L990.4,789.6 L990.7,793.4 L990.9,797.1 L991.1,800.9 L991.2,804.8 L991.3,808.9 L991.4,812.8 L991.7,816.1 L993.7,818.7 L996.9,821.2 L999.3,824.1 L1001.5,827.2 L1003.3,830.5 L1004.8,834.0 L1006.0,837.6 L1007.0,841.2 L1008.0,844.9 L1008.9,848.5 L1009.8,852.2 L1010.7,855.9 L1011.5,859.6 L1012.3,863.3 L1013.1,866.9 L1014.0,870.6 L1014.8,874.3 L1015.7,878.0 L1016.7,881.6 L1017.7,885.3 L1018.8,888.9 L1020.0,892.5 L1021.1,896.1 L1022.2,899.7 L1023.3,903.3 L1024.4,906.9 L1025.4,910.6 L1026.3,914.2 L1027.2,917.9 L1028.1,921.6 L1028.9,925.2 L1029.7,928.9 L1030.5,932.6 L1031.2,936.3 L1032.0,940.0 L1032.8,943.7 L1033.6,947.4 L1034.5,951.1 L1035.3,954.8 L1036.1,958.5 L1036.9,962.2 L1037.7,965.8 L1038.5,969.5 L1039.4,973.2 L1040.2,976.9 L1041.0,980.6 L1041.8,984.3 L1042.6,988.0 L1043.4,991.7 L1044.2,995.4 L1045.0,999.1 L1045.8,1002.7 L1046.6,1006.4 L1047.5,1010.1 L1048.5,1013.8 L1049.4,1017.4 L1050.4,1021.0 L1051.4,1024.7 L1052.3,1028.4 L1053.2,1032.0 L1054.1,1035.7 L1055.0,1039.4 L1055.9,1043.0 L1056.9,1046.7 L1057.9,1050.3 L1058.9,1054.0 L1059.8,1057.6 L1060.8,1061.3 L1061.8,1064.9 L1062.7,1068.6 L1063.6,1072.2 L1064.6,1075.9 L1065.5,1079.6 L1066.6,1083.2 L1067.7,1086.8 L1068.8,1090.4 L1070.0,1094.0 L1071.3,1097.5 L1072.6,1101.1 L1074.0,1104.6 L1075.4,1108.1 L1076.9,1111.6 L1078.4,1115.0 L1080.1,1118.4 L1081.7,1121.9 L1083.5,1125.3 L1085.3,1128.5 L1087.4,1131.6 L1089.8,1134.6 L1092.5,1137.4 L1095.3,1139.9 L1098.4,1141.9 L1101.7,1143.8 L1105.3,1145.3 L1108.9,1146.3 L1112.5,1146.9 L1116.3,1147.4 L1120.0,1147.7 L1123.9,1148.0 L1127.7,1148.3 L1131.4,1148.5 L1135.2,1148.7 L1139.0,1148.8 L1142.7,1149.0 L1146.5,1149.1 L1150.3,1149.2 L1154.1,1149.3 L1157.9,1149.4 L1161.6,1149.5 L1165.4,1149.6 L1169.2,1149.7 L1173.0,1149.8 L1176.7,1149.8 L1180.5,1149.9 L1184.3,1150.0 L1188.1,1150.0 L1191.8,1150.1 L1195.6,1150.1" fill="none" stroke="#5a2d8c" stroke-width="4.4" stroke-linecap="square" stroke-linejoin="round" clip-path="url(#c7)"/>
<path d="M796.5,642.6 L800.5,642.6 L804.5,642.6 L808.5,642.7 L812.5,642.8 L816.4,642.8 L820.3,643.0 L824.3,643.1 L828.2,643.2 L832.1,643.4 L836.0,643.5 L839.9,643.7 L843.7,643.9 L847.6,644.1 L851.5,644.3 L855.3,644.5 L859.1,644.7 L863.0,645.0 L866.8,645.2 L870.6,645.5 L874.4,645.7 L878.2,646.0 L882.0,646.3 L885.8,646.6 L889.5,647.0 L893.1,647.5 L896.7,648.1 L900.2,648.7 L903.6,649.5 L906.9,650.5 L910.0,651.6 L913.1,652.7 L916.1,654.0 L919.1,655.4 L922.0,656.8 L924.8,658.3 L927.5,660.0 L930.1,661.7 L932.7,663.6 L935.2,665.5 L937.6,667.5 L939.9,669.7 L942.2,671.9 L944.3,674.3 L946.5,676.6 L948.6,679.1 L950.6,681.6 L952.5,684.2 L954.3,687.0 L956.1,689.9 L957.9,692.8 L959.7,695.6 L961.5,698.3 L963.4,701.1 L965.2,703.8 L966.9,706.7 L968.5,709.9 L969.9,713.1 L971.4,716.3 L972.9,719.5 L974.5,722.6 L976.0,725.8 L977.4,729.1 L978.9,732.3 L980.3,735.6 L981.7,738.9 L983.1,742.3 L984.3,745.8 L985.5,749.3 L986.7,753.0 L987.8,756.7 L988.8,760.5 L989.6,764.5 L990.4,768.6 L991.0,772.9 L991.6,777.2 L992.1,781.7 L992.6,786.2 L993.1,790.7 L993.5,795.2 L993.9,799.9 L994.2,804.6 L994.5,809.2 L995.2,813.4 L997.3,815.9 L999.3,818.4 L1001.0,821.3 L1002.6,824.4 L1004.1,827.6 L1005.4,831.1 L1006.4,834.8 L1007.3,838.7 L1008.2,842.7 L1009.1,846.7 L1010.0,850.7 L1010.8,854.7 L1011.6,858.7 L1012.5,862.8 L1013.3,866.8 L1014.2,870.8 L1015.1,874.8 L1016.0,878.7 L1016.9,882.6 L1017.9,886.4 L1018.9,890.2 L1020.0,894.0 L1021.0,897.7 L1022.1,901.5 L1023.1,905.3 L1024.1,909.1 L1025.1,913.0 L1025.9,917.0 L1026.8,920.9 L1027.6,925.0 L1028.5,929.0 L1029.3,933.1 L1030.1,937.2 L1030.9,941.2 L1031.7,945.3 L1032.6,949.3 L1033.4,953.3 L1034.2,957.3 L1035.1,961.4 L1035.9,965.4 L1036.8,969.4 L1037.6,973.4 L1038.4,977.5 L1039.2,981.5 L1040.1,985.6 L1040.9,989.6 L1041.7,993.7 L1042.5,997.8 L1043.3,1001.8 L1044.1,1005.9 L1045.0,1009.9 L1045.8,1013.9 L1046.7,1017.9 L1047.6,1021.8 L1048.5,1025.8 L1049.3,1029.8 L1050.2,1033.8 L1051.1,1037.8 L1051.9,1041.8 L1052.8,1045.7 L1053.7,1049.7 L1054.7,1053.6 L1055.6,1057.5 L1056.5,1061.4 L1057.4,1065.4 L1058.3,1069.4 L1059.1,1073.4 L1060.0,1077.3 L1061.0,1081.2 L1061.9,1085.1 L1063.0,1088.9 L1064.1,1092.6 L1065.2,1096.2 L1066.4,1099.8 L1067.6,1103.3 L1068.9,1106.8 L1070.2,1110.2 L1071.5,1113.6 L1072.9,1117.0 L1074.3,1120.3 L1075.9,1123.4 L1077.5,1126.5 L1079.2,1129.3 L1081.1,1132.1 L1083.1,1134.6 L1085.3,1136.9 L1087.7,1139.0 L1090.2,1141.0 L1092.8,1142.7 L1095.8,1144.0 L1098.8,1145.2 L1102.0,1146.3 L1105.4,1147.1 L1109.0,1147.7 L1112.7,1148.0 L1116.5,1148.3 L1120.3,1148.6 L1124.2,1148.7 L1128.1,1148.9 L1132.0,1149.0 L1135.9,1149.2 L1139.9,1149.3 L1143.8,1149.4 L1147.8,1149.5 L1151.7,1149.5 L1155.7,1149.6 L1159.6,1149.7 L1163.6,1149.7 L1167.6,1149.8 L1171.6,1149.9 L1175.5,1149.9 L1179.5,1150.0 L1183.5,1150.0 L1187.5,1150.0 L1191.5,1150.1 L1195.5,1150.1" fill="none" stroke="#8b2a8b" stroke-width="4.4" stroke-linecap="square" stroke-linejoin="round" clip-path="url(#c7)"/>
<path d="M796.5,642.6 L800.5,642.6 L804.5,642.6 L808.5,642.7 L812.5,642.7 L816.4,642.8 L820.4,642.9 L824.3,643.0 L828.3,643.1 L832.2,643.2 L836.1,643.3 L840.0,643.5 L843.9,643.6 L847.8,643.8 L851.7,644.0 L855.6,644.1 L859.5,644.3 L863.3,644.5 L867.2,644.7 L871.0,644.9 L874.9,645.1 L878.7,645.4 L882.6,645.6 L886.4,645.9 L890.1,646.2 L893.8,646.6 L897.4,647.1 L901.0,647.7 L904.5,648.4 L907.8,649.3 L911.0,650.3 L914.2,651.4 L917.3,652.5 L920.3,653.8 L923.3,655.1 L926.1,656.6 L928.9,658.2 L931.6,659.9 L934.2,661.7 L936.8,663.5 L939.2,665.5 L941.6,667.5 L943.9,669.7 L946.2,671.9 L948.4,674.2 L950.5,676.6 L952.6,679.0 L954.6,681.6 L956.5,684.3 L958.3,687.2 L960.1,690.0 L961.9,692.8 L963.7,695.5 L965.6,698.3 L967.4,701.1 L969.0,704.1 L970.6,707.2 L972.0,710.5 L973.5,713.7 L975.0,716.8 L976.5,720.0 L978.0,723.2 L979.4,726.5 L980.8,729.9 L982.2,733.2 L983.5,736.6 L984.8,740.1 L986.0,743.7 L987.2,747.3 L988.3,750.9 L989.4,754.6 L990.4,758.4 L991.4,762.3 L992.2,766.3 L993.0,770.5 L993.6,774.7 L994.2,779.0 L994.8,783.3 L995.4,787.7 L996.0,792.1 L996.5,796.5 L997.0,801.0 L997.5,805.4 L998.3,809.5 L1000.0,812.5 L1001.6,815.5 L1003.0,818.8 L1004.3,822.3 L1005.5,825.9 L1006.5,829.6 L1007.4,833.6 L1008.1,837.8 L1008.8,841.9 L1009.6,846.1 L1010.4,850.2 L1011.1,854.3 L1011.9,858.4 L1012.7,862.5 L1013.5,866.6 L1014.3,870.6 L1015.1,874.7 L1016.0,878.7 L1016.9,882.6 L1017.8,886.6 L1018.7,890.5 L1019.7,894.3 L1020.7,898.2 L1021.6,902.1 L1022.5,906.0 L1023.4,910.0 L1024.3,914.0 L1025.1,918.0 L1025.9,922.1 L1026.7,926.2 L1027.5,930.3 L1028.2,934.4 L1029.0,938.6 L1029.8,942.7 L1030.5,946.8 L1031.3,950.8 L1032.1,954.9 L1032.9,959.0 L1033.7,963.1 L1034.5,967.2 L1035.3,971.2 L1036.1,975.3 L1036.9,979.4 L1037.7,983.5 L1038.4,987.7 L1039.2,991.8 L1039.9,995.9 L1040.7,1000.1 L1041.4,1004.2 L1042.2,1008.3 L1042.9,1012.5 L1043.7,1016.6 L1044.4,1020.7 L1045.2,1024.9 L1046.0,1029.0 L1046.7,1033.1 L1047.4,1037.3 L1048.2,1041.4 L1049.0,1045.5 L1049.8,1049.6 L1050.6,1053.6 L1051.5,1057.6 L1052.3,1061.7 L1053.1,1065.8 L1053.9,1069.9 L1054.6,1074.0 L1055.3,1078.2 L1056.1,1082.3 L1057.0,1086.3 L1057.9,1090.2 L1058.9,1094.0 L1060.0,1097.8 L1061.1,1101.5 L1062.2,1105.1 L1063.4,1108.6 L1064.7,1112.1 L1066.0,1115.6 L1067.3,1119.0 L1068.6,1122.5 L1070.0,1125.8 L1071.5,1128.9 L1073.3,1131.8 L1075.2,1134.5 L1077.3,1136.9 L1079.5,1139.2 L1082.0,1141.1 L1084.6,1142.9 L1087.4,1144.4 L1090.4,1145.7 L1093.7,1146.7 L1097.1,1147.4 L1100.6,1148.1 L1104.2,1148.6 L1108.0,1148.9 L1111.9,1149.1 L1115.8,1149.2 L1119.7,1149.3 L1123.7,1149.4 L1127.6,1149.5 L1131.6,1149.6 L1135.5,1149.6 L1139.5,1149.7 L1143.5,1149.7 L1147.5,1149.8 L1151.5,1149.8 L1155.5,1149.9 L1159.5,1149.9 L1163.5,1149.9 L1167.5,1150.0 L1171.5,1150.0 L1175.5,1150.0 L1179.5,1150.0 L1183.5,1150.1 L1187.5,1150.1 L1191.5,1150.1 L1195.5,1150.1" fill="none" stroke="#c7447a" stroke-width="4.4" stroke-linecap="square" stroke-linejoin="round" clip-path="url(#c7)"/>
<path d="M796.5,642.6 L800.5,642.6 L804.5,642.6 L808.5,642.7 L812.5,642.7 L816.5,642.8 L820.5,642.8 L824.4,642.9 L828.4,643.0 L832.3,643.1 L836.3,643.2 L840.2,643.3 L844.1,643.4 L848.0,643.5 L852.0,643.6 L855.9,643.8 L859.8,643.9 L863.7,644.1 L867.6,644.2 L871.5,644.4 L875.4,644.6 L879.2,644.7 L883.1,644.9 L886.9,645.1 L890.7,645.4 L894.5,645.8 L898.2,646.2 L901.8,646.7 L905.3,647.3 L908.7,648.1 L912.1,649.0 L915.3,650.0 L918.5,651.0 L921.6,652.2 L924.6,653.5 L927.5,654.9 L930.3,656.5 L933.0,658.1 L935.7,659.8 L938.3,661.5 L940.9,663.4 L943.3,665.4 L945.7,667.5 L948.0,669.6 L950.3,671.8 L952.5,674.1 L954.6,676.5 L956.7,679.0 L958.6,681.7 L960.5,684.4 L962.3,687.2 L964.1,690.0 L965.9,692.7 L967.8,695.5 L969.5,698.3 L971.1,701.4 L972.6,704.6 L974.1,707.8 L975.6,711.0 L977.2,714.1 L978.6,717.4 L980.0,720.7 L981.4,724.0 L982.7,727.5 L984.0,730.9 L985.3,734.4 L986.5,737.9 L987.7,741.5 L988.8,745.2 L989.9,748.9 L991.0,752.5 L992.1,756.3 L993.1,760.1 L994.0,764.0 L994.9,768.0 L995.6,772.2 L996.4,776.3 L997.1,780.5 L997.8,784.7 L998.5,788.9 L999.2,793.1 L999.8,797.3 L1000.5,801.6 L1001.4,805.6 L1002.7,809.1 L1003.9,812.6 L1005.0,816.3 L1005.9,820.2 L1006.8,824.1 L1007.6,828.2 L1008.3,832.5 L1008.8,836.8 L1009.4,841.2 L1010.0,845.5 L1010.7,849.8 L1011.4,854.0 L1012.1,858.1 L1012.9,862.3 L1013.6,866.4 L1014.4,870.5 L1015.2,874.6 L1016.0,878.7 L1016.8,882.7 L1017.7,886.7 L1018.6,890.7 L1019.5,894.6 L1020.4,898.6 L1021.3,902.5 L1022.2,906.5 L1023.0,910.5 L1023.8,914.6 L1024.6,918.6 L1025.4,922.8 L1026.1,926.9 L1026.9,931.0 L1027.6,935.2 L1028.4,939.3 L1029.1,943.5 L1029.9,947.6 L1030.7,951.7 L1031.5,955.8 L1032.3,959.8 L1033.1,963.9 L1033.8,968.0 L1034.6,972.1 L1035.4,976.2 L1036.2,980.3 L1036.9,984.4 L1037.7,988.6 L1038.5,992.7 L1039.2,996.8 L1039.9,1001.0 L1040.7,1005.1 L1041.4,1009.3 L1042.2,1013.4 L1042.9,1017.6 L1043.6,1021.8 L1044.4,1025.9 L1045.1,1030.1 L1045.8,1034.3 L1046.6,1038.4 L1047.3,1042.6 L1048.1,1046.7 L1048.8,1050.8 L1049.6,1054.9 L1050.4,1058.9 L1051.2,1063.0 L1052.0,1067.1 L1052.7,1071.3 L1053.4,1075.5 L1054.1,1079.7 L1054.9,1083.8 L1055.7,1087.9 L1056.7,1091.8 L1057.6,1095.6 L1058.7,1099.4 L1059.8,1103.1 L1060.9,1106.7 L1062.1,1110.3 L1063.4,1113.8 L1064.7,1117.3 L1065.9,1120.8 L1067.2,1124.2 L1068.6,1127.5 L1070.2,1130.6 L1071.9,1133.5 L1073.9,1136.1 L1076.0,1138.5 L1078.4,1140.6 L1080.9,1142.5 L1083.7,1144.1 L1086.5,1145.5 L1089.6,1146.7 L1093.0,1147.5 L1096.5,1148.1 L1100.1,1148.7 L1103.9,1149.1 L1107.7,1149.3 L1111.6,1149.4 L1115.6,1149.5 L1119.5,1149.6 L1123.5,1149.6 L1127.5,1149.7 L1131.4,1149.8 L1135.4,1149.8 L1139.4,1149.8 L1143.4,1149.9 L1147.4,1149.9 L1151.4,1149.9 L1155.4,1150.0 L1159.4,1150.0 L1163.4,1150.0 L1167.4,1150.0 L1171.4,1150.0 L1175.4,1150.0 L1179.4,1150.1 L1183.5,1150.1 L1187.5,1150.1 L1191.5,1150.1 L1195.5,1150.1" fill="none" stroke="#d6744f" stroke-width="4.4" stroke-linecap="square" stroke-linejoin="round" clip-path="url(#c7)"/>
<path d="M796.5,642.6 L800.5,642.6 L804.5,642.6 L808.5,642.6 L812.5,642.7 L816.5,642.7 L820.5,642.8 L824.5,642.8 L828.4,642.9 L832.4,643.0 L836.4,643.0 L840.3,643.1 L844.2,643.2 L848.2,643.3 L852.1,643.4 L856.1,643.5 L860.0,643.7 L863.9,643.8 L867.8,643.9 L871.8,644.0 L875.7,644.2 L879.6,644.3 L883.5,644.5 L887.3,644.7 L891.2,644.9 L894.9,645.2 L898.7,645.6 L902.4,646.0 L905.9,646.6 L909.4,647.3 L912.7,648.1 L916.1,649.0 L919.3,650.0 L922.4,651.1 L925.5,652.4 L928.4,653.8 L931.2,655.3 L934.0,656.8 L936.7,658.5 L939.4,660.2 L942.0,662.0 L944.5,663.9 L946.9,666.0 L949.3,668.1 L951.6,670.2 L953.8,672.4 L956.0,674.8 L958.1,677.2 L960.1,679.8 L961.9,682.5 L963.8,685.3 L965.6,688.1 L967.5,690.8 L969.3,693.6 L971.0,696.5 L972.6,699.6 L974.1,702.8 L975.5,706.0 L977.1,709.2 L978.6,712.3 L980.1,715.6 L981.4,718.9 L982.7,722.3 L984.0,725.8 L985.3,729.3 L986.5,732.9 L987.7,736.5 L988.8,740.1 L989.9,743.8 L991.0,747.5 L992.2,751.1 L993.3,754.8 L994.3,758.6 L995.3,762.4 L996.2,766.4 L997.0,770.4 L997.8,774.5 L998.6,778.6 L999.4,782.7 L1000.2,786.7 L1001.0,790.8 L1001.8,794.9 L1002.6,799.0 L1003.5,803.0 L1004.5,806.7 L1005.5,810.6 L1006.3,814.6 L1007.1,818.7 L1007.7,823.0 L1008.4,827.3 L1008.9,831.7 L1009.3,836.2 L1009.8,840.7 L1010.3,845.1 L1010.9,849.4 L1011.6,853.7 L1012.3,857.9 L1013.0,862.1 L1013.7,866.3 L1014.5,870.4 L1015.3,874.5 L1016.0,878.6 L1016.8,882.7 L1017.6,886.8 L1018.5,890.8 L1019.3,894.8 L1020.2,898.8 L1021.0,902.8 L1021.9,906.9 L1022.7,910.9 L1023.5,915.0 L1024.2,919.1 L1025.0,923.3 L1025.7,927.5 L1026.4,931.6 L1027.1,935.8 L1027.9,940.0 L1028.6,944.1 L1029.4,948.2 L1030.1,952.3 L1030.9,956.4 L1031.7,960.5 L1032.5,964.6 L1033.3,968.7 L1034.0,972.8 L1034.8,977.0 L1035.6,981.1 L1036.3,985.2 L1037.1,989.4 L1037.8,993.5 L1038.5,997.7 L1039.3,1001.8 L1040.0,1006.0 L1040.7,1010.2 L1041.4,1014.4 L1042.1,1018.6 L1042.8,1022.8 L1043.5,1027.0 L1044.2,1031.2 L1044.9,1035.4 L1045.6,1039.6 L1046.4,1043.8 L1047.1,1047.9 L1047.9,1052.0 L1048.6,1056.1 L1049.4,1060.3 L1050.2,1064.4 L1050.9,1068.5 L1051.6,1072.8 L1052.2,1077.0 L1052.9,1081.3 L1053.6,1085.5 L1054.4,1089.5 L1055.3,1093.4 L1056.3,1097.3 L1057.3,1101.1 L1058.4,1104.8 L1059.6,1108.5 L1060.8,1112.0 L1062.0,1115.5 L1063.3,1119.0 L1064.5,1122.5 L1065.8,1126.0 L1067.2,1129.3 L1068.8,1132.4 L1070.6,1135.2 L1072.6,1137.7 L1074.8,1140.0 L1077.2,1142.1 L1079.8,1143.8 L1082.7,1145.3 L1085.6,1146.7 L1088.8,1147.7 L1092.3,1148.4 L1096.0,1148.9 L1099.7,1149.3 L1103.5,1149.5 L1107.4,1149.7 L1111.3,1149.8 L1115.3,1149.8 L1119.3,1149.8 L1123.3,1149.9 L1127.3,1149.9 L1131.3,1149.9 L1135.3,1149.9 L1139.3,1150.0 L1143.3,1150.0 L1147.3,1150.0 L1151.3,1150.0 L1155.3,1150.0 L1159.4,1150.0 L1163.4,1150.1 L1167.4,1150.1 L1171.4,1150.1 L1175.4,1150.1 L1179.4,1150.1 L1183.4,1150.1 L1187.5,1150.1 L1191.5,1150.1 L1195.5,1150.1" fill="none" stroke="#e8a838" stroke-width="4.4" stroke-linecap="square" stroke-linejoin="round" clip-path="url(#c7)"/>
<path d="M796.5,642.6 L800.4,642.6 L804.3,642.6 L808.2,642.6 L812.1,642.7 L816.0,642.7 L819.9,642.7 L823.8,642.8 L827.7,642.8 L831.6,642.9 L835.5,643.0 L839.4,643.0 L843.3,643.1 L847.2,643.2 L851.1,643.3 L855.0,643.4 L858.9,643.5 L862.8,643.6 L866.7,643.7 L870.6,643.8 L874.5,643.9 L878.4,644.1 L882.3,644.2 L886.2,644.4 L890.1,644.6 L894.0,644.8 L897.9,645.2 L901.8,645.6 L905.7,646.1 L909.5,646.9 L913.4,647.8 L917.1,648.8 L920.8,649.9 L924.4,651.2 L928.0,652.8 L931.6,654.6 L935.0,656.6 L938.3,658.5 L941.5,660.7 L944.7,663.0 L947.7,665.5 L950.7,668.1 L953.5,670.8 L956.3,673.5 L958.8,676.5 L961.2,679.6 L963.4,682.8 L965.6,686.1 L967.7,689.3 L969.9,692.6 L971.9,695.9 L973.6,699.4 L975.2,703.0 L976.9,706.5 L978.6,710.0 L980.2,713.6 L981.7,717.2 L983.1,720.8 L984.4,724.5 L985.7,728.2 L987.0,731.9 L988.1,735.6 L989.3,739.3 L990.4,743.1 L991.6,746.8 L992.7,750.5 L993.8,754.3 L994.9,758.0 L995.9,761.8 L996.8,765.6 L997.6,769.4 L998.4,773.2 L999.1,777.0 L1000.0,780.9 L1000.8,784.7 L1001.6,788.5 L1002.4,792.3 L1003.2,796.1 L1004.0,799.9 L1004.9,803.7 L1005.8,807.6 L1006.5,811.4 L1007.2,815.2 L1007.7,819.1 L1008.3,823.0 L1008.7,826.8 L1009.1,830.7 L1009.5,834.6 L1009.8,838.5 L1010.2,842.4 L1010.6,846.2 L1011.2,850.1 L1011.7,854.0 L1012.3,857.8 L1013.0,861.7 L1013.7,865.5 L1014.3,869.4 L1015.0,873.2 L1015.7,877.0 L1016.4,880.9 L1017.2,884.7 L1017.9,888.5 L1018.7,892.4 L1019.5,896.2 L1020.3,900.0 L1021.1,903.8 L1021.9,907.7 L1022.6,911.5 L1023.3,915.3 L1024.0,919.2 L1024.7,923.0 L1025.4,926.8 L1026.1,930.7 L1026.7,934.5 L1027.4,938.4 L1028.1,942.2 L1028.8,946.1 L1029.5,949.9 L1030.2,953.7 L1030.9,957.6 L1031.7,961.4 L1032.4,965.2 L1033.1,969.1 L1033.9,972.9 L1034.6,976.7 L1035.3,980.6 L1036.0,984.4 L1036.7,988.2 L1037.4,992.1 L1038.1,995.9 L1038.7,999.8 L1039.4,1003.6 L1040.1,1007.5 L1040.7,1011.3 L1041.4,1015.2 L1042.1,1019.0 L1042.7,1022.8 L1043.3,1026.7 L1044.0,1030.5 L1044.6,1034.4 L1045.3,1038.2 L1045.9,1042.1 L1046.6,1045.9 L1047.3,1049.8 L1048.0,1053.6 L1048.7,1057.4 L1049.4,1061.3 L1050.1,1065.1 L1050.8,1069.0 L1051.4,1072.8 L1052.0,1076.7 L1052.6,1080.5 L1053.2,1084.4 L1053.9,1088.2 L1054.8,1092.0 L1055.7,1095.8 L1056.7,1099.6 L1057.7,1103.4 L1058.9,1107.1 L1060.1,1110.8 L1061.4,1114.5 L1062.7,1118.2 L1064.0,1121.9 L1065.4,1125.6 L1066.9,1129.3 L1068.6,1132.7 L1070.7,1135.9 L1073.3,1138.9 L1076.2,1141.7 L1079.4,1143.8 L1082.8,1145.6 L1086.5,1147.2 L1090.3,1148.2 L1094.1,1148.8 L1097.9,1149.2 L1101.9,1149.5 L1105.8,1149.7 L1109.7,1149.8 L1113.6,1149.8 L1117.5,1149.9 L1121.4,1149.9 L1125.3,1149.9 L1129.2,1149.9 L1133.1,1150.0 L1137.0,1150.0 L1140.9,1150.0 L1144.8,1150.0 L1148.7,1150.0 L1152.6,1150.0 L1156.5,1150.0 L1160.4,1150.1 L1164.3,1150.1 L1168.2,1150.1 L1172.1,1150.1 L1176.0,1150.1 L1179.9,1150.1 L1183.8,1150.1 L1187.7,1150.1 L1191.6,1150.1 L1195.5,1150.1" fill="none" stroke="#262a78" stroke-width="4.4" stroke-dasharray="16,7" stroke-linecap="butt" stroke-linejoin="round" clip-path="url(#c7)"/>
<rect x="1056.7" y="1055.8" width="39.7" height="97.3" fill="none" stroke="#bdbdbd" stroke-width="1"/>
<line x1="1056.7" y1="1153.1" x2="1095.5" y2="857" stroke="#bdbdbd" stroke-width="1" />
<line x1="1096.4" y1="1153.1" x2="1205.6" y2="857" stroke="#bdbdbd" stroke-width="1" />
<rect x="791.8" y="825.2" width="258.4" height="326.5" rx="6" ry="6" fill="#fff" fill-opacity="0.8" stroke="#cccccc" stroke-opacity="0.8" stroke-width="1"/>
<text transform="translate(919.7 860.5) scale(1 1.04)" font-size="30.5" text-anchor="middle" font-family="'DejaVu Sans', sans-serif" ><tspan font-style="italic">V</tspan><tspan font-size="21.35" dy="4.88">cell</tspan><tspan dy="-4.88" dx="8.24">=</tspan><tspan dx="6.1">0.5</tspan><tspan> V</tspan></text>
<line x1="804" y1="895.8" x2="865" y2="895.8" stroke="#5a2d8c" stroke-width="4.4" stroke-linecap="square"/>
<text transform="translate(889.4 906.1) scale(1 1.06)" font-size="30.5" text-anchor="start" font-family="'DejaVu Sans', sans-serif" ><tspan font-style="italic">δ</tspan>=1</text>
<line x1="804" y1="941.16" x2="865" y2="941.16" stroke="#8b2a8b" stroke-width="4.4" stroke-linecap="square"/>
<text transform="translate(889.4 951.46) scale(1 1.06)" font-size="30.5" text-anchor="start" font-family="'DejaVu Sans', sans-serif" ><tspan font-style="italic">δ</tspan>=0.5</text>
<line x1="804" y1="986.52" x2="865" y2="986.52" stroke="#c7447a" stroke-width="4.4" stroke-linecap="square"/>
<text transform="translate(889.4 996.82) scale(1 1.06)" font-size="30.5" text-anchor="start" font-family="'DejaVu Sans', sans-serif" ><tspan font-style="italic">δ</tspan>=0.25</text>
<line x1="804" y1="1031.88" x2="865" y2="1031.88" stroke="#d6744f" stroke-width="4.4" stroke-linecap="square"/>
<text transform="translate(889.4 1042.18) scale(1 1.06)" font-size="30.5" text-anchor="start" font-family="'DejaVu Sans', sans-serif" ><tspan font-style="italic">δ</tspan>=0.125</text>
<line x1="804" y1="1077.24" x2="865" y2="1077.24" stroke="#e8a838" stroke-width="4.4" stroke-linecap="square"/>
<text transform="translate(889.4 1087.54) scale(1 1.06)" font-size="30.5" text-anchor="start" font-family="'DejaVu Sans', sans-serif" ><tspan font-style="italic">δ</tspan>=0.0625</text>
<line x1="804" y1="1122.6" x2="865" y2="1122.6" stroke="#262a78" stroke-width="4.4" stroke-dasharray="16,7"/>
<text transform="translate(889.4 1132.9) scale(1 1.06)" font-size="30.5" text-anchor="start" font-family="'DejaVu Sans', sans-serif" >1D</text>
<rect x="1095.5" y="637.3" width="110.1" height="219.7" fill="#fff"/>
<clipPath id="c8"><rect x="1095.5" y="637.3" width="110.1" height="219.7"/></clipPath>
<path d="M1099.7,645.7 L1100.6,649.8 L1101.4,653.8 L1102.3,657.5 L1103.2,661.0 L1104.0,664.3 L1104.9,667.3 L1105.7,670.0 L1106.6,672.3 L1107.4,674.3 L1108.3,676.1 L1109.2,677.6 L1110.0,679.1 L1110.9,680.6 L1111.7,682.3 L1112.6,684.2 L1113.5,686.5 L1114.3,689.1 L1115.2,692.1 L1116.0,695.2 L1116.9,698.6 L1117.7,702.0 L1118.6,705.5 L1119.5,709.0 L1120.3,712.4 L1121.2,715.6 L1122.0,718.6 L1122.9,721.3 L1123.8,723.8 L1124.6,726.1 L1125.5,728.4 L1126.3,730.6 L1127.2,732.7 L1128.0,734.8 L1128.9,736.8 L1129.8,738.8 L1130.6,740.7 L1131.5,742.6 L1132.3,744.4 L1133.2,746.3 L1134.0,748.0 L1134.9,749.8 L1135.8,751.5 L1136.6,753.3 L1137.5,754.9 L1138.3,756.5 L1139.2,758.1 L1140.1,759.6 L1140.9,761.1 L1141.8,762.6 L1142.6,764.1 L1143.5,765.6 L1144.3,767.1 L1145.2,768.6 L1146.1,770.1 L1146.9,771.6 L1147.8,773.2 L1148.6,774.8 L1149.5,776.4 L1150.3,778.1 L1151.2,779.7 L1152.1,781.3 L1152.9,782.8 L1153.8,784.4 L1154.6,785.9 L1155.5,787.3 L1156.4,788.7 L1157.2,790.0 L1158.1,791.3 L1158.9,792.6 L1159.8,793.8 L1160.6,795.1 L1161.5,796.3 L1162.4,797.4 L1163.2,798.6 L1164.1,799.7 L1164.9,800.8 L1165.8,801.9 L1166.6,802.9 L1167.5,804.0 L1168.4,805.0 L1169.2,806.0 L1170.1,806.9 L1170.9,807.9 L1171.8,808.8 L1172.7,809.7 L1173.5,810.6 L1174.4,811.5 L1175.2,812.4 L1176.1,813.2 L1176.9,814.0 L1177.8,814.8 L1178.7,815.6 L1179.5,816.3 L1180.4,817.1 L1181.2,817.8 L1182.1,818.5 L1182.9,819.2 L1183.8,819.8 L1184.7,820.5 L1185.5,821.1 L1186.4,821.8 L1187.2,822.4 L1188.1,823.0 L1189.0,823.6 L1189.8,824.2 L1190.7,824.8 L1191.5,825.4 L1192.4,826.0 L1193.2,826.6 L1194.1,827.2 L1195.0,827.8 L1195.8,828.4 L1196.7,829.0 L1197.5,829.5 L1198.4,830.1 L1199.3,830.7 L1200.1,831.2 L1201.0,831.8 L1201.8,832.3" fill="none" stroke="#5a2d8c" stroke-width="4.4" stroke-linecap="square" stroke-linejoin="round" clip-path="url(#c8)"/>
<path d="M1099.7,682.4 L1100.6,687.1 L1101.4,691.5 L1102.3,695.7 L1103.2,699.6 L1104.0,703.0 L1104.9,706.0 L1105.7,708.5 L1106.6,710.6 L1107.4,712.4 L1108.3,714.0 L1109.2,715.4 L1110.0,716.9 L1110.9,718.4 L1111.7,720.0 L1112.6,721.9 L1113.5,724.1 L1114.3,726.6 L1115.2,729.3 L1116.0,732.1 L1116.9,735.1 L1117.7,738.2 L1118.6,741.2 L1119.5,744.2 L1120.3,747.2 L1121.2,750.0 L1122.0,752.6 L1122.9,755.0 L1123.8,757.1 L1124.6,759.1 L1125.5,761.1 L1126.3,763.0 L1127.2,764.8 L1128.0,766.6 L1128.9,768.3 L1129.8,770.0 L1130.6,771.6 L1131.5,773.2 L1132.3,774.8 L1133.2,776.3 L1134.0,777.9 L1134.9,779.4 L1135.8,780.9 L1136.6,782.4 L1137.5,783.9 L1138.3,785.3 L1139.2,786.7 L1140.1,788.1 L1140.9,789.5 L1141.8,790.9 L1142.6,792.2 L1143.5,793.5 L1144.3,794.8 L1145.2,796.1 L1146.1,797.4 L1146.9,798.7 L1147.8,800.0 L1148.6,801.3 L1149.5,802.6 L1150.3,803.9 L1151.2,805.2 L1152.1,806.4 L1152.9,807.6 L1153.8,808.8 L1154.6,809.9 L1155.5,811.0 L1156.4,812.0 L1157.2,812.9 L1158.1,813.7 L1158.9,814.6 L1159.8,815.4 L1160.6,816.1 L1161.5,816.9 L1162.4,817.6 L1163.2,818.3 L1164.1,818.9 L1164.9,819.6 L1165.8,820.2 L1166.6,820.9 L1167.5,821.5 L1168.4,822.2 L1169.2,822.8 L1170.1,823.4 L1170.9,824.0 L1171.8,824.6 L1172.7,825.2 L1173.5,825.8 L1174.4,826.4 L1175.2,826.9 L1176.1,827.5 L1176.9,828.0 L1177.8,828.6 L1178.7,829.1 L1179.5,829.7 L1180.4,830.2 L1181.2,830.8 L1182.1,831.4 L1182.9,832.0 L1183.8,832.5 L1184.7,833.1 L1185.5,833.7 L1186.4,834.3 L1187.2,834.9 L1188.1,835.5 L1189.0,836.0 L1189.8,836.6 L1190.7,837.2 L1191.5,837.8 L1192.4,838.4 L1193.2,839.0 L1194.1,839.6 L1195.0,840.1 L1195.8,840.7 L1196.7,841.3 L1197.5,841.9 L1198.4,842.5 L1199.3,843.1 L1200.1,843.7 L1201.0,844.3 L1201.8,844.9" fill="none" stroke="#8b2a8b" stroke-width="4.4" stroke-linecap="square" stroke-linejoin="round" clip-path="url(#c8)"/>
<path d="M1099.7,717.0 L1100.6,720.6 L1101.4,724.0 L1102.3,727.3 L1103.2,730.5 L1104.0,733.5 L1104.9,736.4 L1105.7,739.1 L1106.6,741.5 L1107.4,743.8 L1108.3,745.9 L1109.2,747.9 L1110.0,749.7 L1110.9,751.5 L1111.7,753.3 L1112.6,755.1 L1113.5,756.9 L1114.3,758.8 L1115.2,760.8 L1116.0,763.0 L1116.9,765.2 L1117.7,767.5 L1118.6,769.8 L1119.5,772.1 L1120.3,774.4 L1121.2,776.5 L1122.0,778.5 L1122.9,780.3 L1123.8,782.0 L1124.6,783.5 L1125.5,785.0 L1126.3,786.4 L1127.2,787.8 L1128.0,789.2 L1128.9,790.4 L1129.8,791.7 L1130.6,792.9 L1131.5,794.1 L1132.3,795.2 L1133.2,796.4 L1134.0,797.5 L1134.9,798.7 L1135.8,799.8 L1136.6,800.9 L1137.5,802.0 L1138.3,803.1 L1139.2,804.1 L1140.1,805.2 L1140.9,806.2 L1141.8,807.2 L1142.6,808.2 L1143.5,809.2 L1144.3,810.2 L1145.2,811.1 L1146.1,812.1 L1146.9,813.0 L1147.8,813.9 L1148.6,814.8 L1149.5,815.6 L1150.3,816.5 L1151.2,817.4 L1152.1,818.2 L1152.9,819.0 L1153.8,819.9 L1154.6,820.7 L1155.5,821.5 L1156.4,822.2 L1157.2,823.0 L1158.1,823.7 L1158.9,824.4 L1159.8,825.1 L1160.6,825.8 L1161.5,826.4 L1162.4,827.1 L1163.2,827.7 L1164.1,828.3 L1164.9,828.9 L1165.8,829.5 L1166.6,830.1 L1167.5,830.7 L1168.4,831.2 L1169.2,831.8 L1170.1,832.3 L1170.9,832.8 L1171.8,833.3 L1172.7,833.8 L1173.5,834.3 L1174.4,834.8 L1175.2,835.3 L1176.1,835.7 L1176.9,836.1 L1177.8,836.5 L1178.7,836.9 L1179.5,837.3 L1180.4,837.7 L1181.2,838.1 L1182.1,838.5 L1182.9,838.9 L1183.8,839.3 L1184.7,839.7 L1185.5,840.0 L1186.4,840.4 L1187.2,840.7 L1188.1,841.1 L1189.0,841.4 L1189.8,841.8 L1190.7,842.1 L1191.5,842.4 L1192.4,842.7 L1193.2,843.0 L1194.1,843.3 L1195.0,843.6 L1195.8,843.9 L1196.7,844.1 L1197.5,844.4 L1198.4,844.6 L1199.3,844.9 L1200.1,845.1 L1201.0,845.3 L1201.8,845.5" fill="none" stroke="#c7447a" stroke-width="4.4" stroke-linecap="square" stroke-linejoin="round" clip-path="url(#c8)"/>
<path d="M1099.7,730.6 L1100.6,733.4 L1101.4,736.1 L1102.3,738.7 L1103.2,741.3 L1104.0,743.9 L1104.9,746.3 L1105.7,748.7 L1106.6,751.0 L1107.4,753.1 L1108.3,755.2 L1109.2,757.3 L1110.0,759.1 L1110.9,760.9 L1111.7,762.7 L1112.6,764.4 L1113.5,766.0 L1114.3,767.6 L1115.2,769.2 L1116.0,770.8 L1116.9,772.5 L1117.7,774.1 L1118.6,775.9 L1119.5,777.7 L1120.3,779.5 L1121.2,781.4 L1122.0,783.3 L1122.9,785.2 L1123.8,787.2 L1124.6,789.1 L1125.5,791.1 L1126.3,793.1 L1127.2,795.1 L1128.0,797.2 L1128.9,799.5 L1129.8,801.9 L1130.6,804.4 L1131.5,806.9 L1132.3,809.3 L1133.2,811.5 L1134.0,813.5 L1134.9,815.2 L1135.8,816.6 L1136.6,817.6 L1137.5,818.6 L1138.3,819.5 L1139.2,820.3 L1140.1,821.1 L1140.9,821.8 L1141.8,822.5 L1142.6,823.1 L1143.5,823.7 L1144.3,824.3 L1145.2,824.9 L1146.1,825.5 L1146.9,826.1 L1147.8,826.6 L1148.6,827.3 L1149.5,827.9 L1150.3,828.5 L1151.2,829.1 L1152.1,829.8 L1152.9,830.4 L1153.8,831.0 L1154.6,831.6 L1155.5,832.2 L1156.4,832.8 L1157.2,833.4 L1158.1,833.9 L1158.9,834.5 L1159.8,835.0 L1160.6,835.5 L1161.5,835.9 L1162.4,836.4 L1163.2,836.8 L1164.1,837.1 L1164.9,837.5 L1165.8,837.8 L1166.6,838.1 L1167.5,838.4 L1168.4,838.7 L1169.2,839.0 L1170.1,839.3 L1170.9,839.6 L1171.8,839.9 L1172.7,840.1 L1173.5,840.4 L1174.4,840.7 L1175.2,841.0 L1176.1,841.3 L1176.9,841.5 L1177.8,841.8 L1178.7,842.0 L1179.5,842.3 L1180.4,842.5 L1181.2,842.8 L1182.1,843.0 L1182.9,843.2 L1183.8,843.5 L1184.7,843.7 L1185.5,843.9 L1186.4,844.1 L1187.2,844.3 L1188.1,844.4 L1189.0,844.6 L1189.8,844.8 L1190.7,844.9 L1191.5,845.1 L1192.4,845.2 L1193.2,845.3 L1194.1,845.4 L1195.0,845.5 L1195.8,845.6 L1196.7,845.7 L1197.5,845.8 L1198.4,845.8 L1199.3,845.9 L1200.1,845.9 L1201.0,845.9 L1201.8,845.9" fill="none" stroke="#d6744f" stroke-width="4.4" stroke-linecap="square" stroke-linejoin="round" clip-path="url(#c8)"/>
<path d="M1099.7,743.2 L1100.6,746.5 L1101.4,749.7 L1102.3,752.8 L1103.2,755.8 L1104.0,758.7 L1104.9,761.5 L1105.7,764.2 L1106.6,766.7 L1107.4,769.1 L1108.3,771.4 L1109.2,773.7 L1110.0,775.9 L1110.9,778.0 L1111.7,780.0 L1112.6,782.1 L1113.5,784.0 L1114.3,785.9 L1115.2,787.8 L1116.0,789.6 L1116.9,791.4 L1117.7,793.1 L1118.6,794.8 L1119.5,796.5 L1120.3,798.2 L1121.2,799.8 L1122.0,801.4 L1122.9,803.0 L1123.8,804.5 L1124.6,805.9 L1125.5,807.3 L1126.3,808.7 L1127.2,810.0 L1128.0,811.2 L1128.9,812.5 L1129.8,813.7 L1130.6,814.8 L1131.5,816.0 L1132.3,817.1 L1133.2,818.1 L1134.0,819.1 L1134.9,819.9 L1135.8,820.8 L1136.6,821.5 L1137.5,822.2 L1138.3,822.9 L1139.2,823.5 L1140.1,824.1 L1140.9,824.7 L1141.8,825.2 L1142.6,825.7 L1143.5,826.3 L1144.3,826.8 L1145.2,827.3 L1146.1,827.8 L1146.9,828.3 L1147.8,828.8 L1148.6,829.3 L1149.5,829.9 L1150.3,830.4 L1151.2,830.9 L1152.1,831.5 L1152.9,832.1 L1153.8,832.6 L1154.6,833.2 L1155.5,833.7 L1156.4,834.2 L1157.2,834.7 L1158.1,835.3 L1158.9,835.7 L1159.8,836.2 L1160.6,836.7 L1161.5,837.1 L1162.4,837.5 L1163.2,837.9 L1164.1,838.2 L1164.9,838.5 L1165.8,838.8 L1166.6,839.1 L1167.5,839.4 L1168.4,839.7 L1169.2,839.9 L1170.1,840.2 L1170.9,840.5 L1171.8,840.8 L1172.7,841.0 L1173.5,841.3 L1174.4,841.6 L1175.2,841.8 L1176.1,842.1 L1176.9,842.3 L1177.8,842.6 L1178.7,842.8 L1179.5,843.1 L1180.4,843.3 L1181.2,843.5 L1182.1,843.8 L1182.9,844.0 L1183.8,844.2 L1184.7,844.4 L1185.5,844.6 L1186.4,844.8 L1187.2,844.9 L1188.1,845.1 L1189.0,845.3 L1189.8,845.4 L1190.7,845.6 L1191.5,845.7 L1192.4,845.8 L1193.2,846.0 L1194.1,846.1 L1195.0,846.2 L1195.8,846.3 L1196.7,846.3 L1197.5,846.4 L1198.4,846.5 L1199.3,846.5 L1200.1,846.5 L1201.0,846.6 L1201.8,846.6" fill="none" stroke="#e8a838" stroke-width="4.4" stroke-linecap="square" stroke-linejoin="round" clip-path="url(#c8)"/>
<path d="M1099.7,747.4 L1100.6,750.3 L1101.4,753.2 L1102.3,756.0 L1103.2,758.7 L1104.0,761.3 L1104.9,763.9 L1105.7,766.4 L1106.6,768.8 L1107.4,771.1 L1108.3,773.4 L1109.2,775.6 L1110.0,777.8 L1110.9,779.9 L1111.7,782.0 L1112.6,784.0 L1113.5,786.0 L1114.3,787.9 L1115.2,789.8 L1116.0,791.7 L1116.9,793.5 L1117.7,795.2 L1118.6,796.9 L1119.5,798.6 L1120.3,800.3 L1121.2,801.9 L1122.0,803.5 L1122.9,805.0 L1123.8,806.6 L1124.6,808.0 L1125.5,809.4 L1126.3,810.8 L1127.2,812.1 L1128.0,813.3 L1128.9,814.6 L1129.8,815.8 L1130.6,816.9 L1131.5,818.1 L1132.3,819.2 L1133.2,820.2 L1134.0,821.2 L1134.9,822.0 L1135.8,822.9 L1136.6,823.6 L1137.5,824.3 L1138.3,825.0 L1139.2,825.6 L1140.1,826.2 L1140.9,826.8 L1141.8,827.3 L1142.6,827.8 L1143.5,828.4 L1144.3,828.9 L1145.2,829.4 L1146.1,829.9 L1146.9,830.4 L1147.8,830.9 L1148.6,831.4 L1149.5,832.0 L1150.3,832.5 L1151.2,833.0 L1152.1,833.6 L1152.9,834.1 L1153.8,834.7 L1154.6,835.2 L1155.5,835.8 L1156.4,836.3 L1157.2,836.8 L1158.1,837.3 L1158.9,837.8 L1159.8,838.3 L1160.6,838.7 L1161.5,839.1 L1162.4,839.6 L1163.2,839.9 L1164.1,840.3 L1164.9,840.6 L1165.8,840.9 L1166.6,841.2 L1167.5,841.5 L1168.4,841.8 L1169.2,842.1 L1170.1,842.4 L1170.9,842.6 L1171.8,842.9 L1172.7,843.1 L1173.5,843.4 L1174.4,843.6 L1175.2,843.9 L1176.1,844.1 L1176.9,844.3 L1177.8,844.5 L1178.7,844.7 L1179.5,844.9 L1180.4,845.1 L1181.2,845.2 L1182.1,845.4 L1182.9,845.5 L1183.8,845.7 L1184.7,845.8 L1185.5,845.9 L1186.4,846.0 L1187.2,846.0 L1188.1,846.1 L1189.0,846.2 L1189.8,846.3 L1190.7,846.4 L1191.5,846.5 L1192.4,846.5 L1193.2,846.6 L1194.1,846.7 L1195.0,846.7 L1195.8,846.8 L1196.7,846.8 L1197.5,846.9 L1198.4,846.9 L1199.3,846.9 L1200.1,847.0 L1201.0,847.0 L1201.8,847.0" fill="none" stroke="#262a78" stroke-width="4.4" stroke-dasharray="16,7" stroke-linecap="butt" stroke-linejoin="round" clip-path="url(#c8)"/>
<rect x="1095.5" y="637.3" width="110.1" height="219.7" fill="none" stroke="#222" stroke-width="1"/>
<line x1="1092" y1="667.3" x2="1095.5" y2="667.3" stroke="#222" stroke-width="1" />
<text x="1087.5" y="675.3" font-size="22" text-anchor="end" font-family="'DejaVu Sans', sans-serif" >−0.42</text>
<line x1="1092" y1="712.85" x2="1095.5" y2="712.85" stroke="#222" stroke-width="1" />
<text x="1087.5" y="720.85" font-size="22" text-anchor="end" font-family="'DejaVu Sans', sans-serif" >−0.44</text>
<line x1="1092" y1="758.4" x2="1095.5" y2="758.4" stroke="#222" stroke-width="1" />
<text x="1087.5" y="766.4" font-size="22" text-anchor="end" font-family="'DejaVu Sans', sans-serif" >−0.46</text>
<line x1="1092" y1="803.95" x2="1095.5" y2="803.95" stroke="#222" stroke-width="1" />
<text x="1087.5" y="811.95" font-size="22" text-anchor="end" font-family="'DejaVu Sans', sans-serif" >−0.48</text>
<line x1="1092" y1="849.5" x2="1095.5" y2="849.5" stroke="#222" stroke-width="1" />
<text x="1087.5" y="857.5" font-size="22" text-anchor="end" font-family="'DejaVu Sans', sans-serif" >−0.50</text>
<line x1="1096.6" y1="857" x2="1096.6" y2="860.5" stroke="#222" stroke-width="1" />
<text x="1096.6" y="881.6" font-size="22" text-anchor="middle" font-family="'DejaVu Sans', sans-serif" >130</text>
<line x1="1152.6" y1="857" x2="1152.6" y2="860.5" stroke="#222" stroke-width="1" />
<text x="1152.6" y="881.6" font-size="22" text-anchor="middle" font-family="'DejaVu Sans', sans-serif" >140</text>
<rect x="777" y="625.7" width="440.6" height="541.3" fill="none" stroke="#222" stroke-width="1"/>
<line x1="773.5" y1="642.5" x2="777" y2="642.5" stroke="#222" stroke-width="1" />
<text transform="translate(770 654.8) scale(1 1.06)" font-size="30.8" text-anchor="end" font-family="'DejaVu Sans', sans-serif" >0.0</text>
<line x1="773.5" y1="744" x2="777" y2="744" stroke="#222" stroke-width="1" />
<text transform="translate(770 756.3) scale(1 1.06)" font-size="30.8" text-anchor="end" font-family="'DejaVu Sans', sans-serif" >−0.1</text>
<line x1="773.5" y1="845.5" x2="777" y2="845.5" stroke="#222" stroke-width="1" />
<text transform="translate(770 857.8) scale(1 1.06)" font-size="30.8" text-anchor="end" font-family="'DejaVu Sans', sans-serif" >−0.2</text>
<line x1="773.5" y1="947" x2="777" y2="947" stroke="#222" stroke-width="1" />
<text transform="translate(770 959.3) scale(1 1.06)" font-size="30.8" text-anchor="end" font-family="'DejaVu Sans', sans-serif" >−0.3</text>
<line x1="773.5" y1="1048.5" x2="777" y2="1048.5" stroke="#222" stroke-width="1" />
<text transform="translate(770 1060.8) scale(1 1.06)" font-size="30.8" text-anchor="end" font-family="'DejaVu Sans', sans-serif" >−0.4</text>
<line x1="773.5" y1="1150" x2="777" y2="1150" stroke="#222" stroke-width="1" />
<text transform="translate(770 1162.3) scale(1 1.06)" font-size="30.8" text-anchor="end" font-family="'DejaVu Sans', sans-serif" >−0.5</text>
<line x1="796.5" y1="1167" x2="796.5" y2="1170.5" stroke="#222" stroke-width="1" />
<text transform="translate(796.5 1198.6) scale(1 1.06)" font-size="30.8" text-anchor="middle" font-family="'DejaVu Sans', sans-serif" >0</text>
<line x1="997" y1="1167" x2="997" y2="1170.5" stroke="#222" stroke-width="1" />
<text transform="translate(997 1198.6) scale(1 1.06)" font-size="30.8" text-anchor="middle" font-family="'DejaVu Sans', sans-serif" >100</text>
<line x1="1197.5" y1="1167" x2="1197.5" y2="1170.5" stroke="#222" stroke-width="1" />
<text transform="translate(1197.5 1198.6) scale(1 1.06)" font-size="30.8" text-anchor="middle" font-family="'DejaVu Sans', sans-serif" >200</text>
<text x="999.3" y="1232" font-size="30.5" text-anchor="middle" font-family="'DejaVu Sans', sans-serif" ><tspan font-style="italic">x</tspan> / µm</text>
<text x="0" y="0" font-size="30.5" text-anchor="middle" font-family="'DejaVu Sans', sans-serif" transform="translate(670,896.35) rotate(-90)"><tspan font-style="italic">ϕ</tspan> / V</text>
<rect x="1396.2" y="2.5" width="83.2" height="83.14" fill="#672b85" shape-rendering="crispEdges"/>
<rect x="1478.8" y="2.5" width="83.2" height="83.14" fill="#c0427b" shape-rendering="crispEdges"/>
<rect x="1561.4" y="2.5" width="83.2" height="83.14" fill="#d48350" shape-rendering="crispEdges"/>
<rect x="1644" y="2.5" width="83.2" height="83.14" fill="#ebc22f" shape-rendering="crispEdges"/>
<rect x="1726.6" y="2.5" width="83.2" height="83.14" fill="#e6ea2f" shape-rendering="crispEdges"/>
<rect x="1396.2" y="85.04" width="83.2" height="83.14" fill="#532a85" shape-rendering="crispEdges"/>
<rect x="1478.8" y="85.04" width="83.2" height="83.14" fill="#7b2a87" shape-rendering="crispEdges"/>
<rect x="1561.4" y="85.04" width="83.2" height="83.14" fill="#a22e86" shape-rendering="crispEdges"/>
<rect x="1644" y="85.04" width="83.2" height="83.14" fill="#bd3e7e" shape-rendering="crispEdges"/>
<rect x="1726.6" y="85.04" width="83.2" height="83.14" fill="#c24f72" shape-rendering="crispEdges"/>
<rect x="1396.2" y="167.58" width="83.2" height="83.14" fill="#372680" shape-rendering="crispEdges"/>
<rect x="1478.8" y="167.58" width="83.2" height="83.14" fill="#472983" shape-rendering="crispEdges"/>
<rect x="1561.4" y="167.58" width="83.2" height="83.14" fill="#552a85" shape-rendering="crispEdges"/>
<rect x="1644" y="167.58" width="83.2" height="83.14" fill="#5e2b86" shape-rendering="crispEdges"/>
<rect x="1726.6" y="167.58" width="83.2" height="83.14" fill="#662e87" shape-rendering="crispEdges"/>
<rect x="1396.2" y="250.12" width="83.2" height="83.14" fill="#28287a" shape-rendering="crispEdges"/>
<rect x="1478.8" y="250.12" width="83.2" height="83.14" fill="#2b2780" shape-rendering="crispEdges"/>
<rect x="1561.4" y="250.12" width="83.2" height="83.14" fill="#302682" shape-rendering="crispEdges"/>
<rect x="1644" y="250.12" width="83.2" height="83.14" fill="#352583" shape-rendering="crispEdges"/>
<rect x="1726.6" y="250.12" width="83.2" height="83.14" fill="#3b2683" shape-rendering="crispEdges"/>
<rect x="1396.2" y="332.66" width="83.2" height="83.14" fill="#26287a" shape-rendering="crispEdges"/>
<rect x="1478.8" y="332.66" width="83.2" height="83.14" fill="#26287a" shape-rendering="crispEdges"/>
<rect x="1561.4" y="332.66" width="83.2" height="83.14" fill="#26287a" shape-rendering="crispEdges"/>
<rect x="1644" y="332.66" width="83.2" height="83.14" fill="#26287a" shape-rendering="crispEdges"/>
<rect x="1726.6" y="332.66" width="83.2" height="83.14" fill="#26287a" shape-rendering="crispEdges"/>
<rect x="1396.2" y="2.5" width="413" height="412.7" fill="none" stroke="#222" stroke-width="1"/>
<line x1="1392.7" y1="43.77" x2="1396.2" y2="43.77" stroke="#222" stroke-width="1" />
<text x="1386.2" y="53.37" font-size="26.5" text-anchor="end" font-family="'DejaVu Sans', sans-serif" >1</text>
<line x1="1392.7" y1="126.31" x2="1396.2" y2="126.31" stroke="#222" stroke-width="1" />
<text x="1386.2" y="135.91" font-size="26.5" text-anchor="end" font-family="'DejaVu Sans', sans-serif" >0.5</text>
<line x1="1392.7" y1="208.85" x2="1396.2" y2="208.85" stroke="#222" stroke-width="1" />
<text x="1386.2" y="218.45" font-size="26.5" text-anchor="end" font-family="'DejaVu Sans', sans-serif" >0.25</text>
<line x1="1392.7" y1="291.39" x2="1396.2" y2="291.39" stroke="#222" stroke-width="1" />
<text x="1386.2" y="300.99" font-size="26.5" text-anchor="end" font-family="'DejaVu Sans', sans-serif" >0.125</text>
<line x1="1392.7" y1="373.93" x2="1396.2" y2="373.93" stroke="#222" stroke-width="1" />
<text x="1386.2" y="383.53" font-size="26.5" text-anchor="end" font-family="'DejaVu Sans', sans-serif" >0.0625</text>
<line x1="1437.5" y1="415.2" x2="1437.5" y2="418.7" stroke="#222" stroke-width="1" />
<text x="1437.5" y="444.9" font-size="26.5" text-anchor="middle" font-family="'DejaVu Sans', sans-serif" >0.1</text>
<line x1="1520.1" y1="415.2" x2="1520.1" y2="418.7" stroke="#222" stroke-width="1" />
<text x="1520.1" y="444.9" font-size="26.5" text-anchor="middle" font-family="'DejaVu Sans', sans-serif" >0.2</text>
<line x1="1602.7" y1="415.2" x2="1602.7" y2="418.7" stroke="#222" stroke-width="1" />
<text x="1602.7" y="444.9" font-size="26.5" text-anchor="middle" font-family="'DejaVu Sans', sans-serif" >0.3</text>
<line x1="1685.3" y1="415.2" x2="1685.3" y2="418.7" stroke="#222" stroke-width="1" />
<text x="1685.3" y="444.9" font-size="26.5" text-anchor="middle" font-family="'DejaVu Sans', sans-serif" >0.4</text>
<line x1="1767.9" y1="415.2" x2="1767.9" y2="418.7" stroke="#222" stroke-width="1" />
<text x="1767.9" y="444.9" font-size="26.5" text-anchor="middle" font-family="'DejaVu Sans', sans-serif" >0.5</text>
<text x="1602.7" y="477" font-size="26.5" text-anchor="middle" font-family="'DejaVu Sans', sans-serif" ><tspan font-style="italic">V</tspan><tspan font-size="18.55" dy="4">cell</tspan><tspan dy="-4"> / V</tspan></text>
<text x="0" y="0" font-size="26.5" text-anchor="middle" font-family="'DejaVu Sans', sans-serif" font-style="italic" transform="translate(1283,208.85) rotate(-90)">δ</text>
<linearGradient id="g524" x1="0" x2="1" y1="0" y2="0"><stop offset="0.0" stop-color="#25297b"/><stop offset="0.05" stop-color="#2b2880"/><stop offset="0.1" stop-color="#392884"/><stop offset="0.15" stop-color="#482a86"/><stop offset="0.2" stop-color="#552a87"/><stop offset="0.25" stop-color="#612b88"/><stop offset="0.3" stop-color="#722b88"/><stop offset="0.35" stop-color="#8a2c88"/><stop offset="0.4" stop-color="#a42f88"/><stop offset="0.45" stop-color="#bc3888"/><stop offset="0.48" stop-color="#c2437c"/><stop offset="0.52" stop-color="#c34c78"/><stop offset="0.55" stop-color="#c35770"/><stop offset="0.6" stop-color="#c9645f"/><stop offset="0.65" stop-color="#ce7256"/><stop offset="0.7" stop-color="#d1804c"/><stop offset="0.75" stop-color="#d69145"/><stop offset="0.8" stop-color="#dca23e"/><stop offset="0.85" stop-color="#e2b435"/><stop offset="0.9" stop-color="#ebd02f"/><stop offset="0.95" stop-color="#f2ea2c"/><stop offset="1.0" stop-color="#eeee2b"/></linearGradient>
<rect x="1396.2" y="524.6" width="413.4" height="20.6" fill="url(#g524)"/>
<rect x="1396.2" y="524.6" width="413.4" height="20.6" fill="none" stroke="#222" stroke-width="1"/>
<line x1="1396.2" y1="545.2" x2="1396.2" y2="548.7" stroke="#222" stroke-width="1" />
<text x="1396.2" y="574.9" font-size="26.5" text-anchor="middle" font-family="'DejaVu Sans', sans-serif" >0</text>
<line x1="1560.64" y1="545.2" x2="1560.64" y2="548.7" stroke="#222" stroke-width="1" />
<text x="1560.64" y="574.9" font-size="26.5" text-anchor="middle" font-family="'DejaVu Sans', sans-serif" >5</text>
<line x1="1725.08" y1="545.2" x2="1725.08" y2="548.7" stroke="#222" stroke-width="1" />
<text x="1725.08" y="574.9" font-size="26.5" text-anchor="middle" font-family="'DejaVu Sans', sans-serif" >10</text>
<text x="1602.9" y="606.5" font-size="26.5" text-anchor="middle" font-family="'DejaVu Sans', sans-serif" ><tspan>Δ</tspan><tspan font-style="italic">c</tspan> / %</text>
<rect x="1393.5" y="627.5" width="83.2" height="83.1" fill="#752b85" shape-rendering="crispEdges"/>
<rect x="1476.1" y="627.5" width="83.2" height="83.1" fill="#7c2a87" shape-rendering="crispEdges"/>
<rect x="1558.7" y="627.5" width="83.2" height="83.1" fill="#862d85" shape-rendering="crispEdges"/>
<rect x="1641.3" y="627.5" width="83.2" height="83.1" fill="#882d85" shape-rendering="crispEdges"/>
<rect x="1723.9" y="627.5" width="83.2" height="83.1" fill="#8c2d83" shape-rendering="crispEdges"/>
<rect x="1393.5" y="710" width="83.2" height="83.1" fill="#5e2a80" shape-rendering="crispEdges"/>
<rect x="1476.1" y="710" width="83.2" height="83.1" fill="#602a82" shape-rendering="crispEdges"/>
<rect x="1558.7" y="710" width="83.2" height="83.1" fill="#652b84" shape-rendering="crispEdges"/>
<rect x="1641.3" y="710" width="83.2" height="83.1" fill="#672b84" shape-rendering="crispEdges"/>
<rect x="1723.9" y="710" width="83.2" height="83.1" fill="#682b83" shape-rendering="crispEdges"/>
<rect x="1393.5" y="792.5" width="83.2" height="83.1" fill="#392680" shape-rendering="crispEdges"/>
<rect x="1476.1" y="792.5" width="83.2" height="83.1" fill="#3d2580" shape-rendering="crispEdges"/>
<rect x="1558.7" y="792.5" width="83.2" height="83.1" fill="#422683" shape-rendering="crispEdges"/>
<rect x="1641.3" y="792.5" width="83.2" height="83.1" fill="#462784" shape-rendering="crispEdges"/>
<rect x="1723.9" y="792.5" width="83.2" height="83.1" fill="#482984" shape-rendering="crispEdges"/>
<rect x="1393.5" y="875" width="83.2" height="83.1" fill="#2a277a" shape-rendering="crispEdges"/>
<rect x="1476.1" y="875" width="83.2" height="83.1" fill="#2a267c" shape-rendering="crispEdges"/>
<rect x="1558.7" y="875" width="83.2" height="83.1" fill="#2b247e" shape-rendering="crispEdges"/>
<rect x="1641.3" y="875" width="83.2" height="83.1" fill="#2c247f" shape-rendering="crispEdges"/>
<rect x="1723.9" y="875" width="83.2" height="83.1" fill="#2e2580" shape-rendering="crispEdges"/>
<rect x="1393.5" y="957.5" width="83.2" height="83.1" fill="#26277a" shape-rendering="crispEdges"/>
<rect x="1476.1" y="957.5" width="83.2" height="83.1" fill="#26277a" shape-rendering="crispEdges"/>
<rect x="1558.7" y="957.5" width="83.2" height="83.1" fill="#26277a" shape-rendering="crispEdges"/>
<rect x="1641.3" y="957.5" width="83.2" height="83.1" fill="#26277a" shape-rendering="crispEdges"/>
<rect x="1723.9" y="957.5" width="83.2" height="83.1" fill="#26277a" shape-rendering="crispEdges"/>
<rect x="1393.5" y="627.5" width="413" height="412.5" fill="none" stroke="#222" stroke-width="1"/>
<line x1="1390" y1="668.75" x2="1393.5" y2="668.75" stroke="#222" stroke-width="1" />
<text x="1383.5" y="678.35" font-size="26.5" text-anchor="end" font-family="'DejaVu Sans', sans-serif" >1</text>
<line x1="1390" y1="751.25" x2="1393.5" y2="751.25" stroke="#222" stroke-width="1" />
<text x="1383.5" y="760.85" font-size="26.5" text-anchor="end" font-family="'DejaVu Sans', sans-serif" >0.5</text>
<line x1="1390" y1="833.75" x2="1393.5" y2="833.75" stroke="#222" stroke-width="1" />
<text x="1383.5" y="843.35" font-size="26.5" text-anchor="end" font-family="'DejaVu Sans', sans-serif" >0.25</text>
<line x1="1390" y1="916.25" x2="1393.5" y2="916.25" stroke="#222" stroke-width="1" />
<text x="1383.5" y="925.85" font-size="26.5" text-anchor="end" font-family="'DejaVu Sans', sans-serif" >0.125</text>
<line x1="1390" y1="998.75" x2="1393.5" y2="998.75" stroke="#222" stroke-width="1" />
<text x="1383.5" y="1008.35" font-size="26.5" text-anchor="end" font-family="'DejaVu Sans', sans-serif" >0.0625</text>
<line x1="1434.8" y1="1040" x2="1434.8" y2="1043.5" stroke="#222" stroke-width="1" />
<text x="1434.8" y="1069.7" font-size="26.5" text-anchor="middle" font-family="'DejaVu Sans', sans-serif" >0.1</text>
<line x1="1517.4" y1="1040" x2="1517.4" y2="1043.5" stroke="#222" stroke-width="1" />
<text x="1517.4" y="1069.7" font-size="26.5" text-anchor="middle" font-family="'DejaVu Sans', sans-serif" >0.2</text>
<line x1="1600" y1="1040" x2="1600" y2="1043.5" stroke="#222" stroke-width="1" />
<text x="1600" y="1069.7" font-size="26.5" text-anchor="middle" font-family="'DejaVu Sans', sans-serif" >0.3</text>
<line x1="1682.6" y1="1040" x2="1682.6" y2="1043.5" stroke="#222" stroke-width="1" />
<text x="1682.6" y="1069.7" font-size="26.5" text-anchor="middle" font-family="'DejaVu Sans', sans-serif" >0.4</text>
<line x1="1765.2" y1="1040" x2="1765.2" y2="1043.5" stroke="#222" stroke-width="1" />
<text x="1765.2" y="1069.7" font-size="26.5" text-anchor="middle" font-family="'DejaVu Sans', sans-serif" >0.5</text>
<text x="1600" y="1101.8" font-size="26.5" text-anchor="middle" font-family="'DejaVu Sans', sans-serif" ><tspan font-style="italic">V</tspan><tspan font-size="18.55" dy="4">cell</tspan><tspan dy="-4"> / V</tspan></text>
<text x="0" y="0" font-size="26.5" text-anchor="middle" font-family="'DejaVu Sans', sans-serif" font-style="italic" transform="translate(1283,833.75) rotate(-90)">δ</text>
<linearGradient id="g1148" x1="0" x2="1" y1="0" y2="0"><stop offset="0.0" stop-color="#25297b"/><stop offset="0.05" stop-color="#2b2880"/><stop offset="0.1" stop-color="#392884"/><stop offset="0.15" stop-color="#482a86"/><stop offset="0.2" stop-color="#552a87"/><stop offset="0.25" stop-color="#612b88"/><stop offset="0.3" stop-color="#722b88"/><stop offset="0.35" stop-color="#8a2c88"/><stop offset="0.4" stop-color="#a42f88"/><stop offset="0.45" stop-color="#bc3888"/><stop offset="0.48" stop-color="#c2437c"/><stop offset="0.52" stop-color="#c34c78"/><stop offset="0.55" stop-color="#c35770"/><stop offset="0.6" stop-color="#c9645f"/><stop offset="0.65" stop-color="#ce7256"/><stop offset="0.7" stop-color="#d1804c"/><stop offset="0.75" stop-color="#d69145"/><stop offset="0.8" stop-color="#dca23e"/><stop offset="0.85" stop-color="#e2b435"/><stop offset="0.9" stop-color="#ebd02f"/><stop offset="0.95" stop-color="#f2ea2c"/><stop offset="1.0" stop-color="#eeee2b"/></linearGradient>
<rect x="1393.5" y="1148.5" width="413" height="20.5" fill="url(#g1148)"/>
<rect x="1393.5" y="1148.5" width="413" height="20.5" fill="none" stroke="#222" stroke-width="1"/>
<line x1="1393.5" y1="1169" x2="1393.5" y2="1172.5" stroke="#222" stroke-width="1" />
<text x="1393.5" y="1198.7" font-size="26.5" text-anchor="middle" font-family="'DejaVu Sans', sans-serif" >0</text>
<line x1="1538.51" y1="1169" x2="1538.51" y2="1172.5" stroke="#222" stroke-width="1" />
<text x="1538.51" y="1198.7" font-size="26.5" text-anchor="middle" font-family="'DejaVu Sans', sans-serif" >5</text>
<line x1="1683.53" y1="1169" x2="1683.53" y2="1172.5" stroke="#222" stroke-width="1" />
<text x="1683.53" y="1198.7" font-size="26.5" text-anchor="middle" font-family="'DejaVu Sans', sans-serif" >10</text>
<text x="1600" y="1230.3" font-size="26.5" text-anchor="middle" font-family="'DejaVu Sans', sans-serif" ><tspan>Δ</tspan><tspan font-style="italic">ϕ</tspan> / %</text>
<text transform="translate(0.2 59.7) scale(0.87 1)" font-size="34" font-family="'Liberation Sans', Arial, sans-serif">a</text>
<text transform="translate(20 59.7) scale(0.87 1)" font-size="34" font-family="'Liberation Sans', Arial, sans-serif">)</text>
<text transform="translate(1264.9 60.6) scale(0.87 1)" font-size="34" font-family="'Liberation Sans', Arial, sans-serif">b</text>
<text transform="translate(1283 60.6) scale(0.87 1)" font-size="34" font-family="'Liberation Sans', Arial, sans-serif">)</text>
<text transform="translate(0.4 687.4) scale(1.03 1)" font-size="34" font-family="'Liberation Sans', Arial, sans-serif">c</text>
<text transform="translate(18.4 687.4) scale(0.87 1)" font-size="34" font-family="'Liberation Sans', Arial, sans-serif">)</text>
<text transform="translate(1264.9 681.9) scale(0.93 1)" font-size="34" font-family="'Liberation Sans', Arial, sans-serif">d</text>
<text transform="translate(1283 681.9) scale(0.87 1)" font-size="34" font-family="'Liberation Sans', Arial, sans-serif">)</text></svg>
</body></html>
